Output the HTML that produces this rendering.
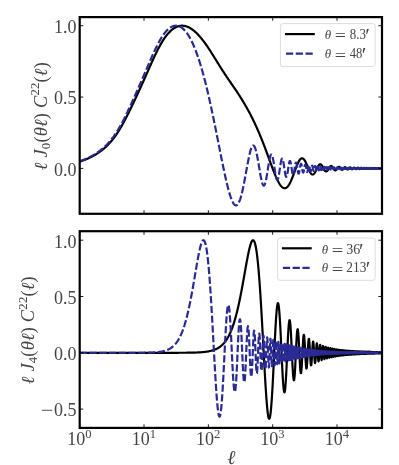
<!DOCTYPE html><html><head><meta charset="utf-8"><style>html,body{margin:0;padding:0;background:#fff}svg{display:block}text{font-family:"Liberation Serif",serif;fill:#444}.i{font-style:italic}</style></head><body>
<svg width="399" height="465" viewBox="0 0 399 465">
<rect width="399" height="465" fill="#fff"/>
<defs><clipPath id="ct"><rect x="79.70" y="17.10" width="302.30" height="196.70"/></clipPath><clipPath id="cb"><rect x="79.70" y="231.20" width="302.30" height="196.70"/></clipPath></defs>
<path clip-path="url(#ct)" d="M79.70 161.59 L79.96 161.51 L80.21 161.43 L80.47 161.35 L80.72 161.27 L80.98 161.19 L81.24 161.10 L81.49 161.02 L81.75 160.93 L82.01 160.84 L82.26 160.76 L82.52 160.67 L82.77 160.58 L83.03 160.49 L83.29 160.39 L83.54 160.30 L83.80 160.21 L84.05 160.11 L84.31 160.01 L84.57 159.92 L84.82 159.82 L85.08 159.72 L85.34 159.62 L85.59 159.51 L85.85 159.41 L86.10 159.31 L86.36 159.20 L86.62 159.09 L86.87 158.99 L87.13 158.88 L87.38 158.77 L87.64 158.66 L87.90 158.54 L88.15 158.43 L88.41 158.31 L88.66 158.20 L88.92 158.08 L89.18 157.96 L89.43 157.84 L89.69 157.72 L89.95 157.60 L90.20 157.47 L90.46 157.35 L90.71 157.22 L90.97 157.09 L91.23 156.96 L91.48 156.83 L91.74 156.70 L91.99 156.57 L92.25 156.43 L92.51 156.29 L92.76 156.16 L93.02 156.02 L93.28 155.87 L93.53 155.73 L93.79 155.59 L94.04 155.44 L94.30 155.30 L94.56 155.15 L94.81 155.00 L95.07 154.85 L95.32 154.69 L95.58 154.54 L95.84 154.38 L96.09 154.23 L96.35 154.07 L96.61 153.91 L96.86 153.74 L97.12 153.58 L97.37 153.41 L97.63 153.25 L97.89 153.08 L98.14 152.91 L98.40 152.73 L98.65 152.56 L98.91 152.38 L99.17 152.21 L99.42 152.03 L99.68 151.84 L99.94 151.66 L100.19 151.48 L100.45 151.29 L100.70 151.10 L100.96 150.91 L101.22 150.71 L101.47 150.52 L101.73 150.32 L101.98 150.12 L102.24 149.92 L102.50 149.72 L102.75 149.51 L103.01 149.30 L103.27 149.09 L103.52 148.88 L103.78 148.66 L104.03 148.45 L104.29 148.23 L104.55 148.01 L104.80 147.78 L105.06 147.55 L105.31 147.32 L105.57 147.09 L105.83 146.86 L106.08 146.62 L106.34 146.38 L106.59 146.14 L106.85 145.89 L107.11 145.65 L107.36 145.39 L107.62 145.14 L107.88 144.88 L108.13 144.63 L108.39 144.36 L108.64 144.10 L108.90 143.83 L109.16 143.56 L109.41 143.28 L109.67 143.01 L109.92 142.72 L110.18 142.44 L110.44 142.15 L110.69 141.86 L110.95 141.57 L111.21 141.27 L111.46 140.97 L111.72 140.66 L111.97 140.35 L112.23 140.04 L112.49 139.73 L112.74 139.41 L113.00 139.08 L113.25 138.76 L113.51 138.42 L113.77 138.09 L114.02 137.75 L114.28 137.41 L114.54 137.06 L114.79 136.71 L115.05 136.36 L115.30 136.00 L115.56 135.64 L115.82 135.28 L116.07 134.91 L116.33 134.53 L116.58 134.16 L116.84 133.78 L117.10 133.39 L117.35 133.01 L117.61 132.61 L117.87 132.22 L118.12 131.82 L118.38 131.42 L118.63 131.01 L118.89 130.60 L119.15 130.19 L119.40 129.77 L119.66 129.35 L119.91 128.92 L120.17 128.50 L120.43 128.06 L120.68 127.63 L120.94 127.19 L121.20 126.75 L121.45 126.30 L121.71 125.85 L121.96 125.40 L122.22 124.95 L122.48 124.49 L122.73 124.03 L122.99 123.56 L123.24 123.09 L123.50 122.62 L123.76 122.15 L124.01 121.67 L124.27 121.19 L124.52 120.71 L124.78 120.22 L125.04 119.74 L125.29 119.25 L125.55 118.75 L125.81 118.26 L126.06 117.76 L126.32 117.26 L126.57 116.76 L126.83 116.26 L127.09 115.75 L127.34 115.24 L127.60 114.74 L127.85 114.22 L128.11 113.71 L128.37 113.20 L128.62 112.68 L128.88 112.17 L129.14 111.65 L129.39 111.13 L129.65 110.61 L129.90 110.09 L130.16 109.57 L130.42 109.04 L130.67 108.52 L130.93 107.99 L131.18 107.46 L131.44 106.94 L131.70 106.41 L131.95 105.87 L132.21 105.34 L132.47 104.81 L132.72 104.28 L132.98 103.74 L133.23 103.20 L133.49 102.67 L133.75 102.13 L134.00 101.59 L134.26 101.05 L134.51 100.51 L134.77 99.96 L135.03 99.42 L135.28 98.88 L135.54 98.33 L135.80 97.78 L136.05 97.24 L136.31 96.69 L136.56 96.14 L136.82 95.59 L137.08 95.04 L137.33 94.49 L137.59 93.94 L137.84 93.38 L138.10 92.83 L138.36 92.28 L138.61 91.72 L138.87 91.16 L139.12 90.61 L139.38 90.05 L139.64 89.49 L139.89 88.93 L140.15 88.37 L140.41 87.81 L140.66 87.25 L140.92 86.68 L141.17 86.12 L141.43 85.56 L141.69 84.99 L141.94 84.42 L142.20 83.86 L142.45 83.29 L142.71 82.72 L142.97 82.15 L143.22 81.58 L143.48 81.01 L143.74 80.44 L143.99 79.86 L144.25 79.29 L144.50 78.72 L144.76 78.14 L145.02 77.56 L145.27 76.99 L145.53 76.41 L145.78 75.83 L146.04 75.25 L146.30 74.67 L146.55 74.09 L146.81 73.51 L147.07 72.93 L147.32 72.35 L147.58 71.77 L147.83 71.19 L148.09 70.61 L148.35 70.03 L148.60 69.46 L148.86 68.88 L149.11 68.30 L149.37 67.72 L149.63 67.14 L149.88 66.57 L150.14 65.99 L150.40 65.42 L150.65 64.84 L150.91 64.27 L151.16 63.70 L151.42 63.13 L151.68 62.56 L151.93 62.00 L152.19 61.43 L152.44 60.87 L152.70 60.31 L152.96 59.74 L153.21 59.19 L153.47 58.63 L153.73 58.08 L153.98 57.53 L154.24 56.98 L154.49 56.43 L154.75 55.89 L155.01 55.34 L155.26 54.81 L155.52 54.27 L155.77 53.74 L156.03 53.21 L156.29 52.68 L156.54 52.16 L156.80 51.64 L157.05 51.13 L157.31 50.61 L157.57 50.10 L157.82 49.60 L158.08 49.10 L158.34 48.60 L158.59 48.11 L158.85 47.63 L159.10 47.14 L159.36 46.66 L159.62 46.19 L159.87 45.72 L160.13 45.26 L160.38 44.80 L160.64 44.35 L160.90 43.90 L161.15 43.46 L161.41 43.02 L161.67 42.58 L161.92 42.16 L162.18 41.73 L162.43 41.32 L162.69 40.91 L162.95 40.50 L163.20 40.10 L163.46 39.70 L163.71 39.31 L163.97 38.93 L164.23 38.55 L164.48 38.18 L164.74 37.81 L165.00 37.45 L165.25 37.09 L165.51 36.74 L165.76 36.39 L166.02 36.05 L166.28 35.72 L166.53 35.39 L166.79 35.07 L167.04 34.75 L167.30 34.44 L167.56 34.13 L167.81 33.83 L168.07 33.53 L168.33 33.25 L168.58 32.96 L168.84 32.68 L169.09 32.41 L169.35 32.14 L169.61 31.88 L169.86 31.63 L170.12 31.38 L170.37 31.13 L170.63 30.89 L170.89 30.66 L171.14 30.43 L171.40 30.21 L171.66 29.99 L171.91 29.78 L172.17 29.58 L172.42 29.37 L172.68 29.18 L172.94 28.99 L173.19 28.81 L173.45 28.63 L173.70 28.46 L173.96 28.29 L174.22 28.13 L174.47 27.97 L174.73 27.82 L174.98 27.67 L175.24 27.53 L175.50 27.40 L175.75 27.27 L176.01 27.14 L176.27 27.02 L176.52 26.91 L176.78 26.80 L177.03 26.70 L177.29 26.60 L177.55 26.50 L177.80 26.42 L178.06 26.33 L178.31 26.25 L178.57 26.18 L178.83 26.11 L179.08 26.05 L179.34 25.99 L179.60 25.94 L179.85 25.89 L180.11 25.85 L180.36 25.82 L180.62 25.78 L180.88 25.76 L181.13 25.74 L181.39 25.72 L181.64 25.71 L181.90 25.70 L182.16 25.70 L182.41 25.70 L182.67 25.71 L182.93 25.73 L183.18 25.74 L183.44 25.77 L183.69 25.80 L183.95 25.83 L184.21 25.87 L184.46 25.91 L184.72 25.96 L184.97 26.01 L185.23 26.07 L185.49 26.13 L185.74 26.20 L186.00 26.27 L186.26 26.35 L186.51 26.43 L186.77 26.52 L187.02 26.61 L187.28 26.70 L187.54 26.81 L187.79 26.91 L188.05 27.02 L188.30 27.13 L188.56 27.25 L188.82 27.38 L189.07 27.50 L189.33 27.64 L189.59 27.77 L189.84 27.91 L190.10 28.06 L190.35 28.21 L190.61 28.36 L190.87 28.52 L191.12 28.69 L191.38 28.85 L191.63 29.03 L191.89 29.20 L192.15 29.38 L192.40 29.56 L192.66 29.75 L192.91 29.95 L193.17 30.14 L193.43 30.34 L193.68 30.55 L193.94 30.76 L194.20 30.97 L194.45 31.18 L194.71 31.40 L194.96 31.63 L195.22 31.86 L195.48 32.09 L195.73 32.32 L195.99 32.56 L196.24 32.81 L196.50 33.05 L196.76 33.30 L197.01 33.56 L197.27 33.82 L197.53 34.08 L197.78 34.34 L198.04 34.61 L198.29 34.88 L198.55 35.16 L198.81 35.44 L199.06 35.72 L199.32 36.00 L199.57 36.29 L199.83 36.58 L200.09 36.88 L200.34 37.18 L200.60 37.48 L200.86 37.78 L201.11 38.09 L201.37 38.40 L201.62 38.72 L201.88 39.03 L202.14 39.35 L202.39 39.68 L202.65 40.00 L202.90 40.33 L203.16 40.66 L203.42 41.00 L203.67 41.34 L203.93 41.68 L204.19 42.02 L204.44 42.36 L204.70 42.71 L204.95 43.06 L205.21 43.42 L205.47 43.77 L205.72 44.13 L205.98 44.49 L206.23 44.86 L206.49 45.22 L206.75 45.59 L207.00 45.96 L207.26 46.34 L207.51 46.71 L207.77 47.09 L208.03 47.47 L208.28 47.85 L208.54 48.24 L208.80 48.63 L209.05 49.01 L209.31 49.41 L209.56 49.80 L209.82 50.19 L210.08 50.59 L210.33 50.99 L210.59 51.39 L210.84 51.79 L211.10 52.19 L211.36 52.59 L211.61 53.00 L211.87 53.40 L212.13 53.81 L212.38 54.22 L212.64 54.63 L212.89 55.04 L213.15 55.45 L213.41 55.86 L213.66 56.27 L213.92 56.68 L214.17 57.10 L214.43 57.51 L214.69 57.92 L214.94 58.34 L215.20 58.75 L215.46 59.17 L215.71 59.58 L215.97 60.00 L216.22 60.41 L216.48 60.83 L216.74 61.24 L216.99 61.65 L217.25 62.07 L217.50 62.48 L217.76 62.90 L218.02 63.31 L218.27 63.72 L218.53 64.13 L218.79 64.55 L219.04 64.96 L219.30 65.37 L219.55 65.78 L219.81 66.18 L220.07 66.59 L220.32 67.00 L220.58 67.41 L220.83 67.81 L221.09 68.22 L221.35 68.62 L221.60 69.02 L221.86 69.42 L222.12 69.83 L222.37 70.22 L222.63 70.62 L222.88 71.02 L223.14 71.42 L223.40 71.81 L223.65 72.20 L223.91 72.60 L224.16 72.99 L224.42 73.38 L224.68 73.77 L224.93 74.15 L225.19 74.54 L225.44 74.92 L225.70 75.31 L225.96 75.69 L226.21 76.07 L226.47 76.45 L226.73 76.83 L226.98 77.21 L227.24 77.58 L227.49 77.96 L227.75 78.34 L228.01 78.71 L228.26 79.09 L228.52 79.46 L228.77 79.84 L229.03 80.21 L229.29 80.58 L229.54 80.96 L229.80 81.33 L230.06 81.70 L230.31 82.07 L230.57 82.44 L230.82 82.81 L231.08 83.19 L231.34 83.56 L231.59 83.93 L231.85 84.30 L232.10 84.67 L232.36 85.05 L232.62 85.42 L232.87 85.79 L233.13 86.16 L233.39 86.54 L233.64 86.91 L233.90 87.29 L234.15 87.66 L234.41 88.04 L234.67 88.41 L234.92 88.79 L235.18 89.17 L235.43 89.55 L235.69 89.93 L235.95 90.31 L236.20 90.69 L236.46 91.07 L236.72 91.46 L236.97 91.84 L237.23 92.23 L237.48 92.61 L237.74 93.00 L238.00 93.39 L238.25 93.78 L238.51 94.17 L238.76 94.57 L239.02 94.96 L239.28 95.36 L239.53 95.76 L239.79 96.16 L240.05 96.56 L240.30 96.96 L240.56 97.37 L240.81 97.78 L241.07 98.19 L241.33 98.60 L241.58 99.01 L241.84 99.42 L242.09 99.84 L242.35 100.26 L242.61 100.68 L242.86 101.10 L243.12 101.53 L243.37 101.95 L243.63 102.38 L243.89 102.81 L244.14 103.24 L244.40 103.68 L244.66 104.11 L244.91 104.55 L245.17 104.99 L245.42 105.44 L245.68 105.88 L245.94 106.33 L246.19 106.78 L246.45 107.23 L246.70 107.69 L246.96 108.15 L247.22 108.61 L247.47 109.07 L247.73 109.53 L247.99 110.00 L248.24 110.47 L248.50 110.94 L248.75 111.41 L249.01 111.89 L249.27 112.37 L249.52 112.85 L249.78 113.34 L250.03 113.82 L250.29 114.32 L250.55 114.81 L250.80 115.30 L251.06 115.80 L251.32 116.30 L251.57 116.81 L251.83 117.31 L252.08 117.82 L252.34 118.34 L252.60 118.85 L252.85 119.37 L253.11 119.89 L253.36 120.42 L253.62 120.95 L253.88 121.48 L254.13 122.01 L254.39 122.55 L254.65 123.09 L254.90 123.63 L255.16 124.18 L255.41 124.73 L255.67 125.28 L255.93 125.84 L256.18 126.40 L256.44 126.96 L256.69 127.53 L256.95 128.10 L257.21 128.67 L257.46 129.25 L257.72 129.83 L257.97 130.41 L258.23 131.00 L258.49 131.59 L258.74 132.19 L259.00 132.79 L259.26 133.39 L259.51 133.99 L259.77 134.60 L260.02 135.21 L260.28 135.83 L260.54 136.45 L260.79 137.07 L261.05 137.70 L261.30 138.33 L261.56 138.97 L261.82 139.61 L262.07 140.25 L262.33 140.89 L262.59 141.54 L262.84 142.19 L263.10 142.85 L263.35 143.51 L263.61 144.17 L263.87 144.84 L264.12 145.50 L264.38 146.18 L264.63 146.85 L264.89 147.53 L265.15 148.21 L265.40 148.89 L265.66 149.58 L265.92 150.26 L266.17 150.95 L266.43 151.65 L266.68 152.34 L266.94 153.04 L267.20 153.73 L267.45 154.43 L267.71 155.13 L267.96 155.84 L268.22 156.54 L268.48 157.24 L268.73 157.94 L268.99 158.65 L269.25 159.35 L269.50 160.06 L269.76 160.76 L270.01 161.46 L270.27 162.16 L270.53 162.86 L270.78 163.56 L271.04 164.26 L271.29 164.96 L271.55 165.65 L271.81 166.34 L272.06 167.03 L272.32 167.71 L272.58 168.39 L272.83 169.06 L273.09 169.74 L273.34 170.40 L273.60 171.06 L273.86 171.72 L274.11 172.37 L274.37 173.01 L274.62 173.65 L274.88 174.27 L275.14 174.90 L275.39 175.51 L275.65 176.11 L275.90 176.71 L276.16 177.29 L276.42 177.87 L276.67 178.43 L276.93 178.99 L277.19 179.53 L277.44 180.06 L277.70 180.58 L277.95 181.09 L278.21 181.58 L278.47 182.06 L278.72 182.52 L278.98 182.98 L279.23 183.41 L279.49 183.83 L279.75 184.23 L280.00 184.62 L280.26 184.99 L280.52 185.34 L280.77 185.68 L281.03 185.99 L281.28 186.29 L281.54 186.57 L281.80 186.82 L282.05 187.06 L282.31 187.28 L282.56 187.47 L282.82 187.65 L283.08 187.80 L283.33 187.93 L283.59 188.04 L283.85 188.12 L284.10 188.18 L284.36 188.22 L284.61 188.24 L284.87 188.23 L285.13 188.20 L285.38 188.14 L285.64 188.06 L285.89 187.95 L286.15 187.82 L286.41 187.66 L286.66 187.48 L286.92 187.28 L287.18 187.05 L287.43 186.79 L287.69 186.52 L287.94 186.21 L288.20 185.89 L288.46 185.54 L288.71 185.16 L288.97 184.77 L289.22 184.35 L289.48 183.91 L289.74 183.44 L289.99 182.96 L290.25 182.45 L290.51 181.93 L290.76 181.39 L291.02 180.82 L291.27 180.25 L291.53 179.65 L291.79 179.04 L292.04 178.41 L292.30 177.78 L292.55 177.13 L292.81 176.46 L293.07 175.79 L293.32 175.11 L293.58 174.42 L293.83 173.73 L294.09 173.03 L294.35 172.33 L294.60 171.63 L294.86 170.93 L295.12 170.23 L295.37 169.53 L295.63 168.84 L295.88 168.16 L296.14 167.48 L296.40 166.82 L296.65 166.17 L296.91 165.53 L297.16 164.91 L297.42 164.30 L297.68 163.72 L297.93 163.16 L298.19 162.62 L298.45 162.10 L298.70 161.61 L298.96 161.15 L299.21 160.72 L299.47 160.32 L299.73 159.95 L299.98 159.61 L300.24 159.31 L300.49 159.05 L300.75 158.83 L301.01 158.64 L301.26 158.49 L301.52 158.39 L301.78 158.32 L302.03 158.30 L302.29 158.31 L302.54 158.37 L302.80 158.47 L303.06 158.61 L303.31 158.79 L303.57 159.01 L303.82 159.27 L304.08 159.57 L304.34 159.91 L304.59 160.28 L304.85 160.69 L305.11 161.12 L305.36 161.59 L305.62 162.09 L305.87 162.61 L306.13 163.16 L306.39 163.72 L306.64 164.31 L306.90 164.90 L307.15 165.51 L307.41 166.13 L307.67 166.74 L307.92 167.36 L308.18 167.98 L308.44 168.59 L308.69 169.19 L308.95 169.77 L309.20 170.34 L309.46 170.88 L309.72 171.40 L309.97 171.89 L310.23 172.35 L310.48 172.77 L310.74 173.15 L311.00 173.49 L311.25 173.78 L311.51 174.03 L311.76 174.23 L312.02 174.38 L312.28 174.48 L312.53 174.53 L312.79 174.52 L313.05 174.46 L313.30 174.35 L313.56 174.19 L313.81 173.97 L314.07 173.71 L314.33 173.40 L314.58 173.05 L314.84 172.66 L315.09 172.23 L315.35 171.77 L315.61 171.29 L315.86 170.78 L316.12 170.25 L316.38 169.72 L316.63 169.17 L316.89 168.63 L317.14 168.10 L317.40 167.57 L317.66 167.07 L317.91 166.59 L318.17 166.15 L318.42 165.73 L318.68 165.36 L318.94 165.04 L319.19 164.77 L319.45 164.55 L319.71 164.39 L319.96 164.28 L320.22 164.24 L320.47 164.26 L320.73 164.35 L320.99 164.49 L321.24 164.69 L321.50 164.94 L321.75 165.25 L322.01 165.60 L322.27 165.99 L322.52 166.42 L322.78 166.87 L323.04 167.35 L323.29 167.83 L323.55 168.31 L323.80 168.79 L324.06 169.25 L324.32 169.69 L324.57 170.10 L324.83 170.46 L325.08 170.78 L325.34 171.04 L325.60 171.24 L325.85 171.38 L326.11 171.44 L326.36 171.44 L326.62 171.38 L326.88 171.24 L327.13 171.04 L327.39 170.78 L327.65 170.46 L327.90 170.10 L328.16 169.71 L328.41 169.28 L328.67 168.84 L328.93 168.40 L329.18 167.96 L329.44 167.55 L329.69 167.16 L329.95 166.82 L330.21 166.52 L330.46 166.29 L330.72 166.13 L330.98 166.04 L331.23 166.03 L331.49 166.09 L331.74 166.23 L332.00 166.43 L332.26 166.70 L332.51 167.03 L332.77 167.39 L333.02 167.79 L333.28 168.20 L333.54 168.62 L333.79 169.01 L334.05 169.38 L334.31 169.71 L334.56 169.97 L334.82 170.17 L335.07 170.29 L335.33 170.33 L335.59 170.29 L335.84 170.16 L336.10 169.96 L336.35 169.69 L336.61 169.37 L336.87 169.00 L337.12 168.61 L337.38 168.22 L337.64 167.84 L337.89 167.50 L338.15 167.21 L338.40 166.98 L338.66 166.83 L338.92 166.78 L339.17 166.81 L339.43 166.93 L339.68 167.14 L339.94 167.41 L340.20 167.74 L340.45 168.11 L340.71 168.49 L340.97 168.85 L341.22 169.19 L341.48 169.46 L341.73 169.67 L341.99 169.78 L342.25 169.80 L342.50 169.71 L342.76 169.54 L343.01 169.28 L343.27 168.97 L343.53 168.61 L343.78 168.24 L344.04 167.89 L344.29 167.59 L344.55 167.35 L344.81 167.21 L345.06 167.17 L345.32 167.23 L345.58 167.40 L345.83 167.65 L346.09 167.97 L346.34 168.32 L346.60 168.68 L346.86 169.00 L347.11 169.26 L347.37 169.44 L347.62 169.50 L347.88 169.45 L348.14 169.29 L348.39 169.04 L348.65 168.72 L348.91 168.37 L349.16 168.03 L349.42 167.73 L349.67 167.52 L349.93 167.41 L350.19 167.43 L350.44 167.57 L350.70 167.80 L350.95 168.12 L351.21 168.46 L351.47 168.79 L351.72 169.07 L351.98 169.25 L352.24 169.31 L352.49 169.24 L352.75 169.04 L353.00 168.76 L353.26 168.42 L353.52 168.08 L353.77 167.80 L354.03 167.62 L354.28 167.57 L354.54 167.65 L354.80 167.86 L355.05 168.16 L355.31 168.50 L355.57 168.81 L355.82 169.05 L356.08 169.17 L356.33 169.14 L356.59 168.97 L356.85 168.69 L357.10 168.36 L357.35 168.04 L357.60 167.80 L357.85 167.69 L358.09 167.71 L358.34 167.87 L358.58 168.13 L358.82 168.44 L359.05 168.73 L359.29 168.96 L359.52 169.07 L359.75 169.05 L359.98 168.90 L360.21 168.65 L360.44 168.36 L360.66 168.09 L360.88 167.87 L361.10 167.77 L361.32 167.79 L361.54 167.93 L361.75 168.16 L361.97 168.44 L362.18 168.70 L362.39 168.90 L362.60 168.99 L362.80 168.97 L363.01 168.84 L363.21 168.62 L363.42 168.37 L363.62 168.12 L363.82 167.93 L364.02 167.84 L364.21 167.86 L364.41 167.98 L364.60 168.19 L364.79 168.43 L364.99 168.67 L365.18 168.85 L365.37 168.94 L365.55 168.92 L365.74 168.80 L365.92 168.60 L366.11 168.37 L366.29 168.15 L366.47 167.98 L366.65 167.89 L366.83 167.91 L367.01 168.02 L367.19 168.21 L367.36 168.43 L367.54 168.64 L367.71 168.81 L367.88 168.89 L368.06 168.87 L368.23 168.76 L368.40 168.59 L368.56 168.37 L368.73 168.17 L368.90 168.01 L369.06 167.93 L369.23 167.95 L369.39 168.05 L369.55 168.22 L369.72 168.43 L369.88 168.62 L370.04 168.77 L370.19 168.85 L370.35 168.83 L370.51 168.73 L370.67 168.57 L370.82 168.37 L370.98 168.19 L371.13 168.04 L371.28 167.97 L371.43 167.98 L371.59 168.08 L371.74 168.24 L371.89 168.42 L372.03 168.61 L372.18 168.74 L372.33 168.81 L372.48 168.80 L372.62 168.71 L372.77 168.56 L372.91 168.38 L373.05 168.20 L373.20 168.07 L373.34 168.00 L373.48 168.01 L373.62 168.10 L373.76 168.25 L373.90 168.42 L374.04 168.59 L374.17 168.72 L374.31 168.79 L374.45 168.77 L374.58 168.69 L374.72 168.55 L374.85 168.38 L374.99 168.22 L375.12 168.09 L375.25 168.03 L375.38 168.04 L375.52 168.12 L375.65 168.26 L375.78 168.42 L375.91 168.58 L376.03 168.70 L376.16 168.76 L376.29 168.75 L376.42 168.67 L376.54 168.54 L376.67 168.38 L376.79 168.23 L376.92 168.11 L377.04 168.05 L377.17 168.06 L377.29 168.14 L377.41 168.27 L377.54 168.42 L377.66 168.57 L377.78 168.68 L377.90 168.74 L378.02 168.73 L378.14 168.65 L378.26 168.53 L378.38 168.38 L378.49 168.24 L378.61 168.13 L378.73 168.07 L378.84 168.08 L378.96 168.15 L379.08 168.27 L379.19 168.42 L379.31 168.56 L379.42 168.67 L379.53 168.72 L379.65 168.71 L379.76 168.64 L379.87 168.52 L379.98 168.38 L380.09 168.25 L380.21 168.14 L380.32 168.09 L380.43 168.10 L380.54 168.17 L380.64 168.28 L380.75 168.42 L380.86 168.55 L380.97 168.65 L381.08 168.70 L381.18 168.69 L381.29 168.63 L381.40 168.52 L381.50 168.38 L381.61 168.25 L381.71 168.16 L381.82 168.11 L381.92 168.11 L381.98 168.15" fill="none" stroke="#000" stroke-width="2.20" stroke-linejoin="round"/>
<path clip-path="url(#ct)" d="M79.70 161.19 L79.96 161.11 L80.21 161.02 L80.47 160.94 L80.72 160.85 L80.98 160.76 L81.24 160.67 L81.49 160.58 L81.75 160.49 L82.01 160.40 L82.26 160.30 L82.52 160.21 L82.77 160.11 L83.03 160.02 L83.29 159.92 L83.54 159.82 L83.80 159.72 L84.05 159.62 L84.31 159.52 L84.57 159.42 L84.82 159.31 L85.08 159.21 L85.34 159.10 L85.59 158.99 L85.85 158.88 L86.10 158.77 L86.36 158.66 L86.62 158.55 L86.87 158.43 L87.13 158.32 L87.38 158.20 L87.64 158.08 L87.90 157.96 L88.15 157.84 L88.41 157.72 L88.66 157.60 L88.92 157.47 L89.18 157.35 L89.43 157.22 L89.69 157.09 L89.95 156.96 L90.20 156.83 L90.46 156.69 L90.71 156.56 L90.97 156.42 L91.23 156.29 L91.48 156.15 L91.74 156.01 L91.99 155.87 L92.25 155.72 L92.51 155.58 L92.76 155.43 L93.02 155.29 L93.28 155.14 L93.53 154.99 L93.79 154.83 L94.04 154.68 L94.30 154.52 L94.56 154.37 L94.81 154.21 L95.07 154.05 L95.32 153.89 L95.58 153.72 L95.84 153.56 L96.09 153.39 L96.35 153.22 L96.61 153.05 L96.86 152.88 L97.12 152.71 L97.37 152.53 L97.63 152.35 L97.89 152.17 L98.14 151.99 L98.40 151.81 L98.65 151.63 L98.91 151.44 L99.17 151.25 L99.42 151.06 L99.68 150.87 L99.94 150.68 L100.19 150.48 L100.45 150.28 L100.70 150.08 L100.96 149.88 L101.22 149.67 L101.47 149.47 L101.73 149.26 L101.98 149.05 L102.24 148.83 L102.50 148.62 L102.75 148.40 L103.01 148.18 L103.27 147.96 L103.52 147.73 L103.78 147.50 L104.03 147.27 L104.29 147.04 L104.55 146.81 L104.80 146.57 L105.06 146.33 L105.31 146.09 L105.57 145.84 L105.83 145.59 L106.08 145.34 L106.34 145.09 L106.59 144.83 L106.85 144.57 L107.11 144.31 L107.36 144.04 L107.62 143.78 L107.88 143.50 L108.13 143.23 L108.39 142.95 L108.64 142.67 L108.90 142.39 L109.16 142.10 L109.41 141.81 L109.67 141.52 L109.92 141.22 L110.18 140.92 L110.44 140.61 L110.69 140.31 L110.95 139.99 L111.21 139.68 L111.46 139.36 L111.72 139.04 L111.97 138.71 L112.23 138.38 L112.49 138.05 L112.74 137.71 L113.00 137.37 L113.25 137.02 L113.51 136.67 L113.77 136.32 L114.02 135.96 L114.28 135.60 L114.54 135.23 L114.79 134.86 L115.05 134.49 L115.30 134.11 L115.56 133.73 L115.82 133.34 L116.07 132.95 L116.33 132.56 L116.58 132.16 L116.84 131.76 L117.10 131.35 L117.35 130.94 L117.61 130.53 L117.87 130.11 L118.12 129.69 L118.38 129.26 L118.63 128.83 L118.89 128.40 L119.15 127.96 L119.40 127.52 L119.66 127.07 L119.91 126.63 L120.17 126.17 L120.43 125.72 L120.68 125.26 L120.94 124.79 L121.20 124.33 L121.45 123.86 L121.71 123.38 L121.96 122.90 L122.22 122.42 L122.48 121.94 L122.73 121.45 L122.99 120.96 L123.24 120.47 L123.50 119.97 L123.76 119.47 L124.01 118.96 L124.27 118.46 L124.52 117.95 L124.78 117.44 L125.04 116.92 L125.29 116.41 L125.55 115.89 L125.81 115.36 L126.06 114.84 L126.32 114.31 L126.57 113.78 L126.83 113.25 L127.09 112.72 L127.34 112.18 L127.60 111.65 L127.85 111.11 L128.11 110.57 L128.37 110.03 L128.62 109.48 L128.88 108.94 L129.14 108.40 L129.39 107.85 L129.65 107.30 L129.90 106.75 L130.16 106.20 L130.42 105.65 L130.67 105.10 L130.93 104.54 L131.18 103.99 L131.44 103.43 L131.70 102.87 L131.95 102.31 L132.21 101.75 L132.47 101.19 L132.72 100.63 L132.98 100.07 L133.23 99.50 L133.49 98.94 L133.75 98.37 L134.00 97.80 L134.26 97.23 L134.51 96.67 L134.77 96.10 L135.03 95.53 L135.28 94.95 L135.54 94.38 L135.80 93.81 L136.05 93.23 L136.31 92.66 L136.56 92.08 L136.82 91.51 L137.08 90.93 L137.33 90.35 L137.59 89.77 L137.84 89.19 L138.10 88.61 L138.36 88.03 L138.61 87.45 L138.87 86.87 L139.12 86.28 L139.38 85.70 L139.64 85.12 L139.89 84.53 L140.15 83.94 L140.41 83.36 L140.66 82.77 L140.92 82.18 L141.17 81.59 L141.43 81.00 L141.69 80.41 L141.94 79.82 L142.20 79.23 L142.45 78.64 L142.71 78.05 L142.97 77.45 L143.22 76.86 L143.48 76.27 L143.74 75.67 L143.99 75.07 L144.25 74.48 L144.50 73.88 L144.76 73.28 L145.02 72.68 L145.27 72.08 L145.53 71.48 L145.78 70.88 L146.04 70.29 L146.30 69.69 L146.55 69.09 L146.81 68.49 L147.07 67.89 L147.32 67.29 L147.58 66.69 L147.83 66.09 L148.09 65.49 L148.35 64.89 L148.60 64.30 L148.86 63.70 L149.11 63.10 L149.37 62.51 L149.63 61.92 L149.88 61.32 L150.14 60.73 L150.40 60.14 L150.65 59.56 L150.91 58.97 L151.16 58.39 L151.42 57.80 L151.68 57.22 L151.93 56.64 L152.19 56.07 L152.44 55.49 L152.70 54.92 L152.96 54.35 L153.21 53.79 L153.47 53.22 L153.73 52.66 L153.98 52.10 L154.24 51.55 L154.49 51.00 L154.75 50.45 L155.01 49.90 L155.26 49.36 L155.52 48.82 L155.77 48.29 L156.03 47.76 L156.29 47.23 L156.54 46.71 L156.80 46.20 L157.05 45.68 L157.31 45.17 L157.57 44.67 L157.82 44.17 L158.08 43.68 L158.34 43.19 L158.59 42.71 L158.85 42.23 L159.10 41.76 L159.36 41.29 L159.62 40.83 L159.87 40.38 L160.13 39.93 L160.38 39.48 L160.64 39.05 L160.90 38.62 L161.15 38.20 L161.41 37.78 L161.67 37.37 L161.92 36.96 L162.18 36.57 L162.43 36.17 L162.69 35.79 L162.95 35.41 L163.20 35.04 L163.46 34.68 L163.71 34.32 L163.97 33.97 L164.23 33.63 L164.48 33.29 L164.74 32.96 L165.00 32.64 L165.25 32.32 L165.51 32.01 L165.76 31.71 L166.02 31.42 L166.28 31.13 L166.53 30.85 L166.79 30.57 L167.04 30.31 L167.30 30.05 L167.56 29.80 L167.81 29.55 L168.07 29.32 L168.33 29.09 L168.58 28.87 L168.84 28.65 L169.09 28.44 L169.35 28.24 L169.61 28.05 L169.86 27.87 L170.12 27.69 L170.37 27.52 L170.63 27.36 L170.89 27.20 L171.14 27.05 L171.40 26.91 L171.66 26.78 L171.91 26.66 L172.17 26.54 L172.42 26.43 L172.68 26.33 L172.94 26.23 L173.19 26.15 L173.45 26.07 L173.70 26.00 L173.96 25.93 L174.22 25.88 L174.47 25.83 L174.73 25.79 L174.98 25.75 L175.24 25.73 L175.50 25.71 L175.75 25.70 L176.01 25.70 L176.27 25.71 L176.52 25.72 L176.78 25.74 L177.03 25.77 L177.29 25.81 L177.55 25.85 L177.80 25.90 L178.06 25.96 L178.31 26.03 L178.57 26.11 L178.83 26.19 L179.08 26.29 L179.34 26.39 L179.60 26.50 L179.85 26.61 L180.11 26.74 L180.36 26.87 L180.62 27.01 L180.88 27.16 L181.13 27.32 L181.39 27.48 L181.64 27.66 L181.90 27.84 L182.16 28.03 L182.41 28.23 L182.67 28.44 L182.93 28.66 L183.18 28.88 L183.44 29.11 L183.69 29.35 L183.95 29.60 L184.21 29.86 L184.46 30.13 L184.72 30.41 L184.97 30.69 L185.23 30.98 L185.49 31.29 L185.74 31.60 L186.00 31.91 L186.26 32.24 L186.51 32.58 L186.77 32.92 L187.02 33.28 L187.28 33.64 L187.54 34.01 L187.79 34.39 L188.05 34.78 L188.30 35.18 L188.56 35.59 L188.82 36.00 L189.07 36.43 L189.33 36.86 L189.59 37.30 L189.84 37.75 L190.10 38.22 L190.35 38.69 L190.61 39.16 L190.87 39.65 L191.12 40.15 L191.38 40.65 L191.63 41.17 L191.89 41.69 L192.15 42.23 L192.40 42.77 L192.66 43.32 L192.91 43.88 L193.17 44.45 L193.43 45.03 L193.68 45.62 L193.94 46.22 L194.20 46.82 L194.45 47.44 L194.71 48.07 L194.96 48.70 L195.22 49.34 L195.48 50.00 L195.73 50.66 L195.99 51.33 L196.24 52.01 L196.50 52.70 L196.76 53.40 L197.01 54.11 L197.27 54.83 L197.53 55.56 L197.78 56.30 L198.04 57.04 L198.29 57.80 L198.55 58.57 L198.81 59.34 L199.06 60.12 L199.32 60.92 L199.57 61.72 L199.83 62.53 L200.09 63.35 L200.34 64.19 L200.60 65.03 L200.86 65.87 L201.11 66.73 L201.37 67.60 L201.62 68.48 L201.88 69.37 L202.14 70.26 L202.39 71.17 L202.65 72.08 L202.90 73.00 L203.16 73.94 L203.42 74.88 L203.67 75.83 L203.93 76.79 L204.19 77.76 L204.44 78.73 L204.70 79.72 L204.95 80.72 L205.21 81.72 L205.47 82.73 L205.72 83.75 L205.98 84.79 L206.23 85.82 L206.49 86.87 L206.75 87.93 L207.00 88.99 L207.26 90.07 L207.51 91.15 L207.77 92.24 L208.03 93.33 L208.28 94.44 L208.54 95.55 L208.80 96.67 L209.05 97.80 L209.31 98.94 L209.56 100.08 L209.82 101.24 L210.08 102.39 L210.33 103.56 L210.59 104.73 L210.84 105.91 L211.10 107.10 L211.36 108.29 L211.61 109.49 L211.87 110.69 L212.13 111.90 L212.38 113.12 L212.64 114.34 L212.89 115.57 L213.15 116.80 L213.41 118.04 L213.66 119.28 L213.92 120.53 L214.17 121.78 L214.43 123.03 L214.69 124.29 L214.94 125.56 L215.20 126.82 L215.46 128.10 L215.71 129.37 L215.97 130.65 L216.22 131.93 L216.48 133.21 L216.74 134.49 L216.99 135.78 L217.25 137.07 L217.50 138.36 L217.76 139.65 L218.02 140.94 L218.27 142.23 L218.53 143.52 L218.79 144.82 L219.04 146.11 L219.30 147.40 L219.55 148.69 L219.81 149.98 L220.07 151.27 L220.32 152.55 L220.58 153.83 L220.83 155.11 L221.09 156.39 L221.35 157.66 L221.60 158.93 L221.86 160.20 L222.12 161.46 L222.37 162.71 L222.63 163.96 L222.88 165.20 L223.14 166.44 L223.40 167.67 L223.65 168.89 L223.91 170.10 L224.16 171.30 L224.42 172.50 L224.68 173.68 L224.93 174.86 L225.19 176.02 L225.44 177.18 L225.70 178.32 L225.96 179.44 L226.21 180.56 L226.47 181.66 L226.73 182.74 L226.98 183.81 L227.24 184.86 L227.49 185.90 L227.75 186.92 L228.01 187.92 L228.26 188.90 L228.52 189.86 L228.77 190.81 L229.03 191.73 L229.29 192.62 L229.54 193.50 L229.80 194.35 L230.06 195.17 L230.31 195.97 L230.57 196.75 L230.82 197.49 L231.08 198.21 L231.34 198.90 L231.59 199.56 L231.85 200.19 L232.10 200.78 L232.36 201.35 L232.62 201.88 L232.87 202.38 L233.13 202.84 L233.39 203.26 L233.64 203.65 L233.90 204.01 L234.15 204.32 L234.41 204.59 L234.67 204.83 L234.92 205.02 L235.18 205.17 L235.43 205.28 L235.69 205.35 L235.95 205.38 L236.20 205.36 L236.46 205.29 L236.72 205.18 L236.97 205.03 L237.23 204.83 L237.48 204.58 L237.74 204.29 L238.00 203.95 L238.25 203.57 L238.51 203.13 L238.76 202.66 L239.02 202.13 L239.28 201.56 L239.53 200.94 L239.79 200.27 L240.05 199.56 L240.30 198.80 L240.56 198.00 L240.81 197.15 L241.07 196.26 L241.33 195.33 L241.58 194.36 L241.84 193.34 L242.09 192.29 L242.35 191.20 L242.61 190.07 L242.86 188.90 L243.12 187.71 L243.37 186.48 L243.63 185.22 L243.89 183.94 L244.14 182.63 L244.40 181.30 L244.66 179.95 L244.91 178.57 L245.17 177.19 L245.42 175.79 L245.68 174.38 L245.94 172.97 L246.19 171.55 L246.45 170.14 L246.70 168.72 L246.96 167.32 L247.22 165.92 L247.47 164.54 L247.73 163.18 L247.99 161.84 L248.24 160.52 L248.50 159.24 L248.75 157.99 L249.01 156.77 L249.27 155.60 L249.52 154.47 L249.78 153.39 L250.03 152.37 L250.29 151.40 L250.55 150.50 L250.80 149.66 L251.06 148.88 L251.32 148.18 L251.57 147.56 L251.83 147.01 L252.08 146.55 L252.34 146.17 L252.60 145.87 L252.85 145.67 L253.11 145.55 L253.36 145.53 L253.62 145.60 L253.88 145.77 L254.13 146.03 L254.39 146.39 L254.65 146.84 L254.90 147.39 L255.16 148.03 L255.41 148.76 L255.67 149.58 L255.93 150.49 L256.18 151.48 L256.44 152.55 L256.69 153.70 L256.95 154.91 L257.21 156.19 L257.46 157.54 L257.72 158.93 L257.97 160.37 L258.23 161.85 L258.49 163.36 L258.74 164.89 L259.00 166.43 L259.26 167.98 L259.51 169.53 L259.77 171.06 L260.02 172.56 L260.28 174.03 L260.54 175.46 L260.79 176.83 L261.05 178.13 L261.30 179.36 L261.56 180.50 L261.82 181.55 L262.07 182.50 L262.33 183.33 L262.59 184.04 L262.84 184.62 L263.10 185.07 L263.35 185.38 L263.61 185.55 L263.87 185.57 L264.12 185.44 L264.38 185.16 L264.63 184.73 L264.89 184.15 L265.15 183.43 L265.40 182.57 L265.66 181.57 L265.92 180.45 L266.17 179.21 L266.43 177.87 L266.68 176.44 L266.94 174.93 L267.20 173.35 L267.45 171.73 L267.71 170.08 L267.96 168.42 L268.22 166.77 L268.48 165.15 L268.73 163.58 L268.99 162.07 L269.25 160.65 L269.50 159.34 L269.76 158.15 L270.01 157.11 L270.27 156.22 L270.53 155.51 L270.78 154.98 L271.04 154.65 L271.29 154.51 L271.55 154.59 L271.81 154.87 L272.06 155.36 L272.32 156.05 L272.58 156.93 L272.83 157.99 L273.09 159.22 L273.34 160.59 L273.60 162.09 L273.86 163.69 L274.11 165.36 L274.37 167.08 L274.62 168.81 L274.88 170.52 L275.14 172.18 L275.39 173.76 L275.65 175.21 L275.90 176.52 L276.16 177.66 L276.42 178.59 L276.67 179.30 L276.93 179.77 L277.19 179.98 L277.44 179.93 L277.70 179.61 L277.95 179.04 L278.21 178.22 L278.47 177.16 L278.72 175.90 L278.98 174.46 L279.23 172.87 L279.49 171.18 L279.75 169.43 L280.00 167.66 L280.26 165.93 L280.52 164.28 L280.77 162.76 L281.03 161.42 L281.28 160.30 L281.54 159.43 L281.80 158.84 L282.05 158.55 L282.31 158.59 L282.56 158.94 L282.82 159.60 L283.08 160.55 L283.33 161.76 L283.59 163.19 L283.85 164.80 L284.10 166.52 L284.36 168.29 L284.61 170.06 L284.87 171.74 L285.13 173.28 L285.38 174.62 L285.64 175.69 L285.89 176.44 L286.15 176.86 L286.41 176.91 L286.66 176.59 L286.92 175.91 L287.18 174.90 L287.43 173.60 L287.69 172.07 L287.94 170.38 L288.20 168.61 L288.46 166.85 L288.71 165.19 L288.97 163.70 L289.22 162.47 L289.48 161.58 L289.74 161.06 L289.99 160.95 L290.25 161.25 L290.51 161.97 L290.76 163.05 L291.02 164.43 L291.27 166.04 L291.53 167.78 L291.79 169.53 L292.04 171.20 L292.30 172.67 L292.55 173.83 L292.81 174.62 L293.07 174.98 L293.32 174.87 L293.58 174.30 L293.83 173.32 L294.09 171.98 L294.35 170.39 L294.60 168.67 L294.86 166.94 L295.12 165.35 L295.37 164.03 L295.63 163.08 L295.88 162.59 L296.14 162.60 L296.40 163.11 L296.65 164.08 L296.91 165.43 L297.16 167.03 L297.42 168.74 L297.68 170.40 L297.93 171.84 L298.19 172.93 L298.45 173.55 L298.70 173.63 L298.96 173.17 L299.21 172.21 L299.47 170.85 L299.73 169.24 L299.98 167.56 L300.24 166.00 L300.49 164.73 L300.75 163.92 L301.01 163.66 L301.26 163.98 L301.52 164.84 L301.78 166.15 L302.03 167.73 L302.29 169.37 L302.54 170.86 L302.80 172.00 L303.06 172.62 L303.31 172.63 L303.57 172.03 L303.82 170.91 L304.08 169.43 L304.34 167.82 L304.59 166.32 L304.85 165.17 L305.11 164.56 L305.36 164.58 L305.62 165.24 L305.87 166.42 L306.13 167.93 L306.39 169.49 L306.64 170.84 L306.90 171.72 L307.15 171.97 L307.41 171.55 L307.67 170.52 L307.92 169.10 L308.18 167.58 L308.43 166.26 L308.68 165.38 L308.92 165.12 L309.17 165.51 L309.41 166.45 L309.65 167.76 L309.89 169.15 L310.12 170.37 L310.36 171.18 L310.59 171.42 L310.82 171.07 L311.05 170.20 L311.28 168.99 L311.50 167.70 L311.72 166.58 L311.94 165.83 L312.16 165.61 L312.38 165.93 L312.60 166.74 L312.81 167.85 L313.02 169.05 L313.24 170.09 L313.45 170.78 L313.65 170.99 L313.86 170.69 L314.06 169.94 L314.27 168.91 L314.47 167.80 L314.67 166.83 L314.87 166.19 L315.07 165.99 L315.26 166.27 L315.46 166.96 L315.65 167.92 L315.84 168.96 L316.04 169.86 L316.23 170.47 L316.41 170.65 L316.60 170.39 L316.79 169.74 L316.97 168.84 L317.16 167.88 L317.34 167.03 L317.52 166.47 L317.70 166.30 L317.88 166.54 L318.05 167.14 L318.23 167.98 L318.41 168.89 L318.58 169.68 L318.75 170.21 L318.93 170.37 L319.10 170.15 L319.27 169.58 L319.44 168.79 L319.60 167.94 L319.77 167.19 L319.94 166.70 L320.10 166.54 L320.27 166.76 L320.43 167.29 L320.59 168.03 L320.75 168.83 L320.91 169.54 L321.07 170.01 L321.23 170.15 L321.39 169.95 L321.55 169.45 L321.70 168.75 L321.86 167.99 L322.01 167.32 L322.16 166.88 L322.32 166.74 L322.47 166.93 L322.62 167.41 L322.77 168.07 L322.92 168.79 L323.07 169.42 L323.21 169.84 L323.36 169.97 L323.51 169.79 L323.65 169.34 L323.80 168.71 L323.94 168.03 L324.08 167.43 L324.23 167.04 L324.37 166.91 L324.51 167.08 L324.65 167.51 L324.79 168.10 L324.93 168.75 L325.06 169.32 L325.20 169.70 L325.34 169.81 L325.47 169.65 L325.61 169.25 L325.74 168.68 L325.88 168.07 L326.01 167.53 L326.15 167.17 L326.28 167.05 L326.41 167.21 L326.54 167.59 L326.67 168.13 L326.80 168.72 L326.93 169.23 L327.06 169.58 L327.19 169.69 L327.31 169.54 L327.44 169.17 L327.57 168.66 L327.69 168.10 L327.82 167.60 L327.94 167.28 L328.07 167.17 L328.19 167.31 L328.31 167.66 L328.43 168.16 L328.56 168.69 L328.68 169.16 L328.80 169.48 L328.92 169.58 L329.04 169.44 L329.16 169.11 L329.28 168.63 L329.39 168.12 L329.51 167.67 L329.63 167.37 L329.75 167.27 L329.86 167.40 L329.98 167.72 L330.09 168.18 L330.21 168.67 L330.32 169.10 L330.44 169.39 L330.55 169.48 L330.66 169.36 L330.78 169.05 L330.89 168.62 L331.00 168.14 L331.11 167.73 L331.22 167.45 L331.33 167.36 L331.44 167.48 L331.55 167.78 L331.66 168.19 L331.77 168.65 L331.88 169.05 L331.98 169.32 L332.09 169.40 L332.20 169.29 L332.31 169.00 L332.41 168.60 L332.52 168.16 L332.62 167.78 L332.73 167.52 L332.83 167.44 L332.94 167.54 L333.04 167.82 L333.14 168.21 L333.25 168.63 L333.35 169.00 L333.45 169.25 L333.55 169.33 L333.65 169.23 L333.76 168.96 L333.86 168.59 L333.96 168.18 L334.06 167.82 L334.16 167.58 L334.26 167.50 L334.35 167.60 L334.45 167.86 L334.55 168.22 L334.65 168.61 L334.75 168.96 L334.84 169.19 L334.94 169.27 L335.04 169.17 L335.13 168.92 L335.23 168.57 L335.33 168.19 L335.42 167.86 L335.52 167.63 L335.61 167.56 L335.70 167.65 L335.80 167.89 L335.89 168.23 L335.99 168.60 L336.08 168.93 L336.17 169.14 L336.26 169.21 L336.36 169.12 L336.45 168.89 L336.54 168.56 L336.63 168.21 L336.72 167.89 L336.81 167.68 L336.90 167.61 L336.99 167.70 L337.08 167.92 L337.17 168.24 L337.26 168.59 L337.35 168.89 L337.44 169.10 L337.53 169.17 L337.61 169.08 L337.70 168.86 L337.79 168.55 L337.88 168.22 L337.96 167.92 L338.05 167.72 L338.14 167.66 L338.22 167.74 L338.31 167.95 L338.39 168.25 L338.48 168.58 L338.56 168.87 L338.65 169.06 L338.73 169.12 L338.82 169.04 L338.90 168.84 L338.99 168.54 L339.07 168.23 L339.15 167.95 L339.24 167.76 L339.32 167.70 L339.40 167.77 L339.48 167.98 L339.57 168.26 L339.65 168.57 L339.73 168.84 L339.81 169.03 L339.89 169.09 L339.97 169.01 L340.05 168.81 L340.13 168.54 L340.21 168.24 L340.29 167.97 L340.37 167.79 L340.45 167.73 L340.53 167.81 L340.61 168.00 L340.69 168.27 L340.77 168.56 L340.85 168.82 L340.93 168.99 L341.00 169.05 L341.08 168.98 L341.16 168.79 L341.24 168.53 L341.31 168.24 L341.39 167.99 L341.47 167.82 L341.54 167.76 L341.62 167.84 L341.70 168.02 L341.77 168.27 L341.85 168.55 L341.92 168.80 L342.00 168.97 L342.07 169.02 L342.15 168.95 L342.22 168.77 L342.30 168.52 L342.37 168.25 L342.45 168.01 L342.52 167.85 L342.59 167.79 L342.67 167.86 L342.74 168.03 L342.81 168.28 L342.89 168.55 L342.96 168.78 L343.03 168.94 L343.10 168.99 L343.18 168.93 L343.25 168.76 L343.32 168.52 L343.39 168.26 L343.46 168.03 L343.53 167.87 L343.60 167.82 L343.68 167.89 L343.75 168.05 L343.82 168.28 L343.89 168.54 L343.96 168.76 L344.03 168.92 L344.10 168.97 L344.17 168.90 L344.24 168.74 L344.31 168.51 L344.37 168.26 L344.44 168.04 L344.51 167.89 L344.58 167.85 L344.65 167.91 L344.72 168.07 L344.79 168.29 L344.85 168.53 L344.92 168.75 L344.99 168.90 L345.06 168.94 L345.12 168.88 L345.19 168.73 L345.26 168.51 L345.32 168.27 L345.39 168.06 L345.46 167.91 L345.52 167.87 L345.59 167.93 L345.66 168.08 L345.72 168.29 L345.79 168.53 L345.85 168.74 L345.92 168.88 L345.98 168.92 L346.05 168.86 L346.11 168.71 L346.18 168.50 L346.24 168.27 L346.31 168.07 L346.37 167.93 L346.44 167.89 L346.50 167.95 L346.56 168.09 L346.63 168.30 L346.69 168.52 L346.75 168.72 L346.82 168.86 L346.88 168.90 L346.94 168.85 L347.01 168.70 L347.07 168.50 L347.13 168.28 L347.19 168.08 L347.26 167.95 L347.32 167.91 L347.38 167.96 L347.44 168.10 L347.51 168.30 L347.57 168.52 L347.63 168.71 L347.69 168.84 L347.75 168.88 L347.81 168.83 L347.87 168.69 L347.93 168.50 L347.99 168.28 L348.05 168.10 L348.12 167.97 L348.18 167.93 L348.24 167.98 L348.30 168.11 L348.36 168.30 L348.42 168.51 L348.48 168.70 L348.53 168.82 L348.59 168.87 L348.65 168.81 L348.71 168.68 L348.77 168.49 L348.83 168.29 L348.89 168.11 L348.95 167.98 L349.01 167.94 L349.06 167.99 L349.12 168.12 L349.18 168.31 L349.24 168.51 L349.30 168.69 L349.36 168.81 L349.41 168.85 L349.47 168.80 L349.53 168.67 L349.59 168.49 L349.64 168.29 L349.70 168.12 L349.76 168.00 L349.81 167.96 L349.87 168.01 L349.93 168.13 L349.98 168.31 L350.04 168.51 L350.10 168.68 L350.15 168.80 L350.21 168.83 L350.26 168.79 L350.32 168.66 L350.38 168.49 L350.43 168.30 L350.49 168.13 L350.54 168.01 L350.60 167.97 L350.65 168.02 L350.71 168.14 L350.76 168.31 L350.82 168.50 L350.87 168.67 L350.93 168.78 L350.98 168.82 L351.04 168.77 L351.09 168.65 L351.14 168.48 L351.20 168.30 L351.25 168.13 L351.31 168.02 L351.36 167.99 L351.41 168.03 L351.47 168.15 L351.52 168.32 L351.57 168.50 L351.63 168.66 L351.68 168.77 L351.73 168.81 L351.79 168.76 L351.84 168.65 L351.89 168.48 L351.95 168.30 L352.00 168.14 L352.05 168.03 L352.10 168.00 L352.16 168.04 L352.21 168.16 L352.26 168.32 L352.31 168.50 L352.36 168.65 L352.42 168.76 L352.47 168.80 L352.52 168.75 L352.57 168.64 L352.62 168.48 L352.67 168.30 L352.72 168.15 L352.78 168.04 L352.83 168.01 L352.88 168.05 L352.93 168.16 L352.98 168.32 L353.03 168.49 L353.08 168.65 L353.13 168.75 L353.18 168.78 L353.23 168.74 L353.28 168.63 L353.33 168.48 L353.38 168.31 L353.43 168.16 L353.48 168.05 L353.53 168.02 L353.58 168.06 L353.63 168.17 L353.68 168.32 L353.73 168.49 L353.78 168.64 L353.83 168.74 L353.88 168.77 L353.93 168.73 L353.98 168.63 L354.02 168.48 L354.07 168.31 L354.12 168.16 L354.17 168.06 L354.22 168.03 L354.27 168.07 L354.32 168.18 L354.36 168.33 L354.41 168.49 L354.46 168.63 L354.51 168.73 L354.56 168.76 L354.60 168.72 L354.65 168.62 L354.70 168.47 L354.75 168.31 L354.80 168.17 L354.84 168.07 L354.89 168.04 L354.94 168.08 L354.98 168.18 L355.03 168.33 L355.08 168.49 L355.13 168.63 L355.17 168.72 L355.22 168.75 L355.27 168.72 L355.31 168.61 L355.36 168.47 L355.41 168.31 L355.45 168.18 L355.50 168.08 L355.55 168.05 L355.59 168.09 L355.64 168.19 L355.68 168.33 L355.73 168.48 L355.78 168.62 L355.82 168.71 L355.87 168.74 L355.91 168.71 L355.96 168.61 L356.00 168.47 L356.05 168.32 L356.10 168.18 L356.14 168.09 L356.19 168.06 L356.23 168.10 L356.28 168.19 L356.32 168.33 L356.37 168.48 L356.41 168.62 L356.46 168.71 L356.50 168.74 L356.55 168.70 L356.59 168.60 L356.63 168.47 L356.68 168.32 L356.72 168.19 L356.77 168.10 L356.81 168.07 L356.86 168.10 L356.90 168.20 L356.94 168.33 L356.99 168.48 L357.03 168.61 L357.08 168.70 L357.12 168.73 L357.16 168.69 L357.21 168.60 L357.25 168.47 L357.29 168.32 L357.34 168.19 L357.38 168.10 L357.42 168.08 L357.47 168.11 L357.51 168.20 L357.55 168.33 L357.60 168.48 L357.64 168.61 L357.68 168.69 L357.73 168.72 L357.77 168.69 L357.81 168.59 L357.85 168.46 L357.90 168.32 L357.94 168.20 L357.98 168.11 L358.02 168.08 L358.07 168.12 L358.11 168.21 L358.15 168.34 L358.19 168.48 L358.23 168.60 L358.28 168.69 L358.32 168.71 L358.36 168.68 L358.40 168.59 L358.44 168.46 L358.49 168.32 L358.53 168.20 L358.57 168.12 L358.61 168.09 L358.65 168.12 L358.69 168.21 L358.73 168.34 L358.78 168.47 L358.82 168.60 L358.86 168.68 L358.90 168.71 L358.94 168.67 L358.98 168.59 L359.02 168.46 L359.06 168.33 L359.10 168.21 L359.14 168.12 L359.18 168.10 L359.23 168.13 L359.27 168.22 L359.31 168.34 L359.35 168.47 L359.39 168.59 L359.43 168.67 L359.47 168.70 L359.51 168.67 L359.55 168.58 L359.59 168.46 L359.63 168.33 L359.67 168.21 L359.71 168.13 L359.75 168.10 L359.79 168.14 L359.83 168.22 L359.87 168.34 L359.91 168.47 L359.95 168.59 L359.99 168.67 L360.02 168.69 L360.06 168.66 L360.10 168.58 L360.14 168.46 L360.18 168.33 L360.22 168.21 L360.26 168.14 L360.30 168.11 L360.34 168.14 L360.38 168.22 L360.42 168.34 L360.46 168.47 L360.49 168.58 L360.53 168.66 L360.57 168.69 L360.61 168.66 L360.65 168.57 L360.69 168.46 L360.73 168.33 L360.76 168.22 L360.80 168.14 L360.84 168.12 L360.88 168.15 L360.92 168.23 L360.96 168.34 L360.99 168.47 L361.03 168.58 L361.07 168.66 L361.11 168.68 L361.15 168.65 L361.18 168.57 L361.22 168.46 L361.26 168.33 L361.30 168.22 L361.33 168.15 L361.37 168.12 L361.41 168.15 L361.45 168.23 L361.48 168.34 L361.52 168.47 L361.56 168.58 L361.60 168.65 L361.63 168.68 L361.67 168.65 L361.71 168.57 L361.74 168.46 L361.78 168.33 L361.82 168.23 L361.86 168.15 L361.89 168.13 L361.93 168.16 L361.97 168.24 L362.00 168.35 L362.04 168.47 L362.08 168.57 L362.11 168.65 L362.15 168.67 L362.19 168.64 L362.22 168.56 L362.26 168.45 L362.30 168.33 L362.33 168.23 L362.37 168.16 L362.40 168.13 L362.44 168.16 L362.48 168.24 L362.51 168.35 L362.55 168.46 L362.58 168.57 L362.62 168.64 L362.66 168.66 L362.69 168.64 L362.73 168.56 L362.76 168.45 L362.80 168.34 L362.83 168.23 L362.87 168.16 L362.91 168.14 L362.94 168.17 L362.98 168.24 L363.01 168.35 L363.05 168.46 L363.08 168.57 L363.12 168.64 L363.15 168.66 L363.19 168.63 L363.22 168.56 L363.26 168.45 L363.29 168.34 L363.33 168.23 L363.36 168.17 L363.40 168.14 L363.43 168.17 L363.47 168.24 L363.50 168.35 L363.54 168.46 L363.57 168.56 L363.61 168.63 L363.64 168.65 L363.68 168.63 L363.71 168.55 L363.75 168.45 L363.78 168.34 L363.82 168.24 L363.85 168.17 L363.88 168.15 L363.92 168.17 L363.95 168.25 L363.99 168.35 L364.02 168.46 L364.06 168.56 L364.09 168.63 L364.12 168.65 L364.16 168.62 L364.19 168.55 L364.23 168.45 L364.26 168.34 L364.29 168.24 L364.33 168.17 L364.36 168.15 L364.39 168.18 L364.43 168.25 L364.46 168.35 L364.50 168.46 L364.53 168.56 L364.56 168.62 L364.60 168.65 L364.63 168.62 L364.66 168.55 L364.70 168.45 L364.73 168.34 L364.76 168.24 L364.80 168.18 L364.83 168.16 L364.86 168.18 L364.90 168.25 L364.93 168.35 L364.96 168.46 L364.99 168.56 L365.03 168.62 L365.06 168.64 L365.09 168.62 L365.13 168.55 L365.16 168.45 L365.19 168.34 L365.22 168.25 L365.26 168.18 L365.29 168.16 L365.32 168.19 L365.36 168.25 L365.39 168.35 L365.42 168.46 L365.45 168.55 L365.49 168.62 L365.52 168.64 L365.55 168.61 L365.58 168.54 L365.61 168.45 L365.65 168.34 L365.68 168.25 L365.71 168.19 L365.74 168.16 L365.78 168.19 L365.81 168.26 L365.84 168.35 L365.87 168.46 L365.90 168.55 L365.94 168.61 L365.97 168.63 L366.00 168.61 L366.03 168.54 L366.06 168.45 L366.09 168.34 L366.13 168.25 L366.16 168.19 L366.19 168.17 L366.22 168.19 L366.25 168.26 L366.28 168.35 L366.32 168.46 L366.35 168.55 L366.38 168.61 L366.41 168.63 L366.44 168.60 L366.47 168.54 L366.50 168.45 L366.54 168.34 L366.57 168.25 L366.60 168.19 L366.63 168.17 L366.66 168.20 L366.69 168.26 L366.72 168.35 L366.75 168.46 L366.78 168.55 L366.81 168.61 L366.85 168.63 L366.88 168.60 L366.91 168.54 L366.94 168.45 L366.97 168.35 L367.00 168.26 L367.03 168.20 L367.06 168.18 L367.09 168.20 L367.12 168.26 L367.15 168.35 L367.18 168.45 L367.21 168.54 L367.24 168.60 L367.27 168.62 L367.31 168.60 L367.34 168.53 L367.37 168.44 L367.40 168.35 L367.43 168.26 L367.46 168.20 L367.49 168.18 L367.52 168.20 L367.55 168.27 L367.58 168.36 L367.61 168.45 L367.64 168.54 L367.67 168.60 L367.70 168.62 L367.73 168.60 L367.76 168.53 L367.79 168.44 L367.82 168.35 L367.85 168.26 L367.88 168.20 L367.91 168.18 L367.94 168.21 L367.97 168.27 L368.00 168.36 L368.02 168.45 L368.05 168.54 L368.08 168.60 L368.11 168.62 L368.14 168.59 L368.17 168.53 L368.20 168.44 L368.23 168.35 L368.26 168.26 L368.29 168.20 L368.32 168.19 L368.35 168.21 L368.38 168.27 L368.41 168.36 L368.44 168.45 L368.47 168.54 L368.49 168.59 L368.52 168.61 L368.55 168.59 L368.58 168.53 L368.61 168.44 L368.64 168.35 L368.67 168.26 L368.70 168.21 L368.73 168.19 L368.76 168.21 L368.78 168.27 L368.81 168.36 L368.84 168.45 L368.87 168.53 L368.90 168.59 L368.93 168.61 L368.96 168.59 L368.98 168.53 L369.01 168.44 L369.04 168.35 L369.07 168.27 L369.10 168.21 L369.13 168.19 L369.16 168.21 L369.18 168.27 L369.21 168.36 L369.24 168.45 L369.27 168.53 L369.30 168.59 L369.33 168.61 L369.35 168.58 L369.38 168.52 L369.41 168.44 L369.44 168.35 L369.47 168.27 L369.50 168.21 L369.52 168.20 L369.55 168.22 L369.58 168.28 L369.61 168.36 L369.64 168.45 L369.66 168.53 L369.69 168.59 L369.72 168.60 L369.75 168.58 L369.77 168.52 L369.80 168.44 L369.83 168.35 L369.86 168.27 L369.89 168.22 L369.91 168.20 L369.94 168.22 L369.97 168.28 L370.00 168.36 L370.02 168.45 L370.05 168.53 L370.08 168.58 L370.11 168.60 L370.13 168.58 L370.16 168.52 L370.19 168.44 L370.22 168.35 L370.24 168.27 L370.27 168.22 L370.30 168.20 L370.33 168.22 L370.35 168.28 L370.38 168.36 L370.41 168.45 L370.43 168.53 L370.46 168.58 L370.49 168.60 L370.52 168.58 L370.54 168.52 L370.57 168.44 L370.60 168.35 L370.62 168.27 L370.65 168.22 L370.68 168.20 L370.70 168.23 L370.73 168.28 L370.76 168.36 L370.78 168.45 L370.81 168.53 L370.84 168.58 L370.87 168.59 L370.89 168.57 L370.92 168.52 L370.95 168.44 L370.97 168.35 L371.00 168.28 L371.03 168.22 L371.05 168.21 L371.08 168.23 L371.10 168.28 L371.13 168.36 L371.16 168.45 L371.18 168.52 L371.21 168.58 L371.24 168.59 L371.26 168.57 L371.29 168.52 L371.32 168.44 L371.34 168.35 L371.37 168.28 L371.39 168.23 L371.42 168.21 L371.45 168.23 L371.47 168.28 L371.50 168.36 L371.53 168.45 L371.55 168.52 L371.58 168.57 L371.60 168.59 L371.63 168.57 L371.66 168.51 L371.68 168.44 L371.71 168.35 L371.73 168.28 L371.76 168.23 L371.79 168.21 L371.81 168.23 L371.84 168.29 L371.86 168.36 L371.89 168.45 L371.91 168.52 L371.94 168.57 L371.97 168.59 L371.99 168.57 L372.02 168.51 L372.04 168.44 L372.07 168.35 L372.09 168.28 L372.12 168.23 L372.15 168.21 L372.17 168.23 L372.20 168.29 L372.22 168.36 L372.25 168.45 L372.27 168.52 L372.30 168.57 L372.32 168.58 L372.35 168.56 L372.37 168.51 L372.40 168.44 L372.43 168.36 L372.45 168.28 L372.48 168.23 L372.50 168.22 L372.53 168.24 L372.55 168.29 L372.58 168.36 L372.60 168.44 L372.63 168.52 L372.65 168.57 L372.68 168.58 L372.70 168.56 L372.73 168.51 L372.75 168.44 L372.78 168.36 L372.80 168.28 L372.83 168.23 L372.85 168.22 L372.88 168.24 L372.90 168.29 L372.93 168.36 L372.95 168.44 L372.98 168.52 L373.00 168.56 L373.03 168.58 L373.05 168.56 L373.08 168.51 L373.10 168.44 L373.12 168.36 L373.15 168.29 L373.17 168.24 L373.20 168.22 L373.22 168.24 L373.25 168.29 L373.27 168.36 L373.30 168.44 L373.32 168.51 L373.35 168.56 L373.37 168.58 L373.39 168.56 L373.42 168.51 L373.44 168.44 L373.47 168.36 L373.49 168.29 L373.52 168.24 L373.54 168.22 L373.56 168.24 L373.59 168.29 L373.61 168.36 L373.64 168.44 L373.66 168.51 L373.69 168.56 L373.71 168.58 L373.73 168.56 L373.76 168.51 L373.78 168.44 L373.81 168.36 L373.83 168.29 L373.85 168.24 L373.88 168.23 L373.90 168.24 L373.93 168.29 L373.95 168.36 L373.97 168.44 L374.00 168.51 L374.02 168.56 L374.05 168.57 L374.07 168.55 L374.09 168.51 L374.12 168.43 L374.14 168.36 L374.17 168.29 L374.19 168.24 L374.21 168.23 L374.24 168.25 L374.26 168.30 L374.28 168.37 L374.31 168.44 L374.33 168.51 L374.35 168.56 L374.38 168.57 L374.40 168.55 L374.43 168.50 L374.45 168.43 L374.47 168.36 L374.50 168.29 L374.52 168.24 L374.54 168.23 L374.57 168.25 L374.59 168.30 L374.61 168.37 L374.64 168.44 L374.66 168.51 L374.68 168.55 L374.71 168.57 L374.73 168.55 L374.75 168.50 L374.78 168.43 L374.80 168.36 L374.82 168.29 L374.85 168.25 L374.87 168.23 L374.89 168.25 L374.92 168.30 L374.94 168.37 L374.96 168.44 L374.98 168.51 L375.01 168.55 L375.03 168.57 L375.05 168.55 L375.08 168.50 L375.10 168.43 L375.12 168.36 L375.15 168.29 L375.17 168.25 L375.19 168.23 L375.21 168.25 L375.24 168.30 L375.26 168.37 L375.28 168.44 L375.31 168.51 L375.33 168.55 L375.35 168.57 L375.37 168.55 L375.40 168.50 L375.42 168.43 L375.44 168.36 L375.47 168.29 L375.49 168.25 L375.51 168.24 L375.53 168.25 L375.56 168.30 L375.58 168.37 L375.60 168.44 L375.62 168.51 L375.65 168.55 L375.67 168.56 L375.69 168.55 L375.71 168.50 L375.74 168.43 L375.76 168.36 L375.78 168.30 L375.80 168.25 L375.83 168.24 L375.85 168.25 L375.87 168.30 L375.89 168.37 L375.92 168.44 L375.94 168.50 L375.96 168.55 L375.98 168.56 L376.00 168.54 L376.03 168.50 L376.05 168.43 L376.07 168.36 L376.09 168.30 L376.12 168.25 L376.14 168.24 L376.16 168.26 L376.18 168.30 L376.20 168.37 L376.23 168.44 L376.25 168.50 L376.27 168.55 L376.29 168.56 L376.31 168.54 L376.34 168.50 L376.36 168.43 L376.38 168.36 L376.40 168.30 L376.42 168.25 L376.45 168.24 L376.47 168.26 L376.49 168.30 L376.51 168.37 L376.53 168.44 L376.55 168.50 L376.58 168.54 L376.60 168.56 L376.62 168.54 L376.64 168.50 L376.66 168.43 L376.69 168.36 L376.71 168.30 L376.73 168.26 L376.75 168.24 L376.77 168.26 L376.79 168.30 L376.82 168.37 L376.84 168.44 L376.86 168.50 L376.88 168.54 L376.90 168.56 L376.92 168.54 L376.94 168.49 L376.97 168.43 L376.99 168.36 L377.01 168.30 L377.03 168.26 L377.05 168.24 L377.07 168.26 L377.10 168.31 L377.12 168.37 L377.14 168.44 L377.16 168.50 L377.18 168.54 L377.20 168.55 L377.22 168.54 L377.24 168.49 L377.27 168.43 L377.29 168.36 L377.31 168.30 L377.33 168.26 L377.35 168.25 L377.37 168.26 L377.39 168.31 L377.41 168.37 L377.44 168.44 L377.46 168.50 L377.48 168.54 L377.50 168.55 L377.52 168.54 L377.54 168.49 L377.56 168.43 L377.58 168.36 L377.60 168.30 L377.62 168.26 L377.65 168.25 L377.67 168.26 L377.69 168.31 L377.71 168.37 L377.73 168.44 L377.75 168.50 L377.77 168.54 L377.79 168.55 L377.81 168.54 L377.83 168.49 L377.85 168.43 L377.88 168.36 L377.90 168.30 L377.92 168.26 L377.94 168.25 L377.96 168.27 L377.98 168.31 L378.00 168.37 L378.02 168.44 L378.04 168.50 L378.06 168.54 L378.08 168.55 L378.10 168.53 L378.12 168.49 L378.14 168.43 L378.17 168.36 L378.19 168.30 L378.21 168.26 L378.23 168.25 L378.25 168.27 L378.27 168.31 L378.29 168.37 L378.31 168.44 L378.33 168.50 L378.35 168.54 L378.37 168.55 L378.39 168.53 L378.41 168.49 L378.43 168.43 L378.45 168.36 L378.47 168.31 L378.49 168.27 L378.51 168.25 L378.53 168.27 L378.55 168.31 L378.57 168.37 L378.59 168.44 L378.61 168.49 L378.64 168.53 L378.66 168.55 L378.68 168.53 L378.70 168.49 L378.72 168.43 L378.74 168.36 L378.76 168.31 L378.78 168.27 L378.80 168.25 L378.82 168.27 L378.84 168.31 L378.86 168.37 L378.88 168.44 L378.90 168.49 L378.92 168.53 L378.94 168.55 L378.96 168.53 L378.98 168.49 L379.00 168.43 L379.02 168.36 L379.04 168.31 L379.06 168.27 L379.08 168.26 L379.10 168.27 L379.12 168.31 L379.14 168.37 L379.16 168.44 L379.18 168.49 L379.20 168.53 L379.22 168.54 L379.24 168.53 L379.26 168.49 L379.28 168.43 L379.30 168.37 L379.32 168.31 L379.33 168.27 L379.35 168.26 L379.37 168.27 L379.39 168.31 L379.41 168.37 L379.43 168.43 L379.45 168.49 L379.47 168.53 L379.49 168.54 L379.51 168.53 L379.53 168.49 L379.55 168.43 L379.57 168.37 L379.59 168.31 L379.61 168.27 L379.63 168.26 L379.65 168.27 L379.67 168.31 L379.69 168.37 L379.71 168.43 L379.73 168.49 L379.75 168.53 L379.77 168.54 L379.79 168.53 L379.80 168.49 L379.82 168.43 L379.84 168.37 L379.86 168.31 L379.88 168.27 L379.90 168.26 L379.92 168.27 L379.94 168.31 L379.96 168.37 L379.98 168.43 L380.00 168.49 L380.02 168.53 L380.04 168.54 L380.06 168.52 L380.08 168.48 L380.09 168.43 L380.11 168.37 L380.13 168.31 L380.15 168.27 L380.17 168.26 L380.19 168.28 L380.21 168.32 L380.23 168.37 L380.25 168.43 L380.27 168.49 L380.29 168.53 L380.31 168.54 L380.32 168.52 L380.34 168.48 L380.36 168.43 L380.38 168.37 L380.40 168.31 L380.42 168.27 L380.44 168.26 L380.46 168.28 L380.48 168.32 L380.50 168.37 L380.51 168.43 L380.53 168.49 L380.55 168.53 L380.57 168.54 L380.59 168.52 L380.61 168.48 L380.63 168.43 L380.65 168.37 L380.67 168.31 L380.68 168.28 L380.70 168.26 L380.72 168.28 L380.74 168.32 L380.76 168.37 L380.78 168.43 L380.80 168.49 L380.82 168.52 L380.83 168.54 L380.85 168.52 L380.87 168.48 L380.89 168.43 L380.91 168.37 L380.93 168.31 L380.95 168.28 L380.96 168.26 L380.98 168.28 L381.00 168.32 L381.02 168.37 L381.04 168.43 L381.06 168.49 L381.08 168.52 L381.10 168.53 L381.11 168.52 L381.13 168.48 L381.15 168.43 L381.17 168.37 L381.19 168.31 L381.21 168.28 L381.22 168.27 L381.24 168.28 L381.26 168.32 L381.28 168.37 L381.30 168.43 L381.32 168.49 L381.34 168.52 L381.35 168.53 L381.37 168.52 L381.39 168.48 L381.41 168.43 L381.43 168.37 L381.45 168.31 L381.46 168.28 L381.48 168.27 L381.50 168.28 L381.52 168.32 L381.54 168.37 L381.55 168.43 L381.57 168.48 L381.59 168.52 L381.61 168.53 L381.63 168.52 L381.65 168.48 L381.66 168.43 L381.68 168.37 L381.70 168.32 L381.72 168.28 L381.74 168.27 L381.75 168.28 L381.77 168.32 L381.79 168.37 L381.81 168.43 L381.83 168.48 L381.85 168.52 L381.86 168.53 L381.88 168.52 L381.90 168.48 L381.92 168.43 L381.94 168.37 L381.95 168.32 L381.97 168.28 L381.98 168.27" fill="none" stroke="#2a2a94" stroke-width="2.20" stroke-linejoin="round" stroke-dasharray="7.2 2.56"/>
<path clip-path="url(#cb)" d="M79.70 352.80 L79.96 352.80 L80.21 352.80 L80.47 352.80 L80.72 352.80 L80.98 352.80 L81.24 352.80 L81.49 352.80 L81.75 352.80 L82.01 352.80 L82.26 352.80 L82.52 352.80 L82.77 352.80 L83.03 352.80 L83.29 352.80 L83.54 352.80 L83.80 352.80 L84.05 352.80 L84.31 352.80 L84.57 352.80 L84.82 352.80 L85.08 352.80 L85.34 352.80 L85.59 352.80 L85.85 352.80 L86.10 352.80 L86.36 352.80 L86.62 352.80 L86.87 352.80 L87.13 352.80 L87.38 352.80 L87.64 352.80 L87.90 352.80 L88.15 352.80 L88.41 352.80 L88.66 352.80 L88.92 352.80 L89.18 352.80 L89.43 352.80 L89.69 352.80 L89.95 352.80 L90.20 352.80 L90.46 352.80 L90.71 352.80 L90.97 352.80 L91.23 352.80 L91.48 352.80 L91.74 352.80 L91.99 352.80 L92.25 352.80 L92.51 352.80 L92.76 352.80 L93.02 352.80 L93.28 352.80 L93.53 352.80 L93.79 352.80 L94.04 352.80 L94.30 352.80 L94.56 352.80 L94.81 352.80 L95.07 352.80 L95.32 352.80 L95.58 352.80 L95.84 352.80 L96.09 352.80 L96.35 352.80 L96.61 352.80 L96.86 352.80 L97.12 352.80 L97.37 352.80 L97.63 352.80 L97.89 352.80 L98.14 352.80 L98.40 352.80 L98.65 352.80 L98.91 352.80 L99.17 352.80 L99.42 352.80 L99.68 352.80 L99.94 352.80 L100.19 352.80 L100.45 352.80 L100.70 352.80 L100.96 352.80 L101.22 352.80 L101.47 352.80 L101.73 352.80 L101.98 352.80 L102.24 352.80 L102.50 352.80 L102.75 352.80 L103.01 352.80 L103.27 352.80 L103.52 352.80 L103.78 352.80 L104.03 352.80 L104.29 352.80 L104.55 352.80 L104.80 352.80 L105.06 352.80 L105.31 352.80 L105.57 352.80 L105.83 352.80 L106.08 352.80 L106.34 352.80 L106.59 352.80 L106.85 352.80 L107.11 352.80 L107.36 352.80 L107.62 352.80 L107.88 352.80 L108.13 352.80 L108.39 352.80 L108.64 352.80 L108.90 352.80 L109.16 352.80 L109.41 352.80 L109.67 352.80 L109.92 352.80 L110.18 352.80 L110.44 352.80 L110.69 352.80 L110.95 352.80 L111.21 352.80 L111.46 352.80 L111.72 352.80 L111.97 352.80 L112.23 352.80 L112.49 352.80 L112.74 352.80 L113.00 352.80 L113.25 352.80 L113.51 352.80 L113.77 352.80 L114.02 352.80 L114.28 352.80 L114.54 352.80 L114.79 352.80 L115.05 352.80 L115.30 352.80 L115.56 352.80 L115.82 352.80 L116.07 352.80 L116.33 352.80 L116.58 352.80 L116.84 352.80 L117.10 352.80 L117.35 352.80 L117.61 352.80 L117.87 352.80 L118.12 352.80 L118.38 352.80 L118.63 352.80 L118.89 352.80 L119.15 352.80 L119.40 352.80 L119.66 352.80 L119.91 352.80 L120.17 352.80 L120.43 352.80 L120.68 352.80 L120.94 352.80 L121.20 352.80 L121.45 352.80 L121.71 352.80 L121.96 352.80 L122.22 352.80 L122.48 352.80 L122.73 352.80 L122.99 352.80 L123.24 352.80 L123.50 352.80 L123.76 352.80 L124.01 352.80 L124.27 352.80 L124.52 352.80 L124.78 352.80 L125.04 352.80 L125.29 352.80 L125.55 352.80 L125.81 352.80 L126.06 352.80 L126.32 352.80 L126.57 352.80 L126.83 352.80 L127.09 352.80 L127.34 352.80 L127.60 352.80 L127.85 352.80 L128.11 352.80 L128.37 352.80 L128.62 352.80 L128.88 352.80 L129.14 352.80 L129.39 352.80 L129.65 352.80 L129.90 352.80 L130.16 352.80 L130.42 352.80 L130.67 352.80 L130.93 352.80 L131.18 352.80 L131.44 352.80 L131.70 352.80 L131.95 352.80 L132.21 352.80 L132.47 352.80 L132.72 352.80 L132.98 352.80 L133.23 352.80 L133.49 352.80 L133.75 352.80 L134.00 352.80 L134.26 352.80 L134.51 352.80 L134.77 352.80 L135.03 352.80 L135.28 352.80 L135.54 352.80 L135.80 352.80 L136.05 352.80 L136.31 352.80 L136.56 352.80 L136.82 352.80 L137.08 352.80 L137.33 352.80 L137.59 352.80 L137.84 352.80 L138.10 352.80 L138.36 352.80 L138.61 352.80 L138.87 352.80 L139.12 352.80 L139.38 352.80 L139.64 352.80 L139.89 352.80 L140.15 352.80 L140.41 352.80 L140.66 352.80 L140.92 352.80 L141.17 352.80 L141.43 352.80 L141.69 352.80 L141.94 352.80 L142.20 352.80 L142.45 352.80 L142.71 352.80 L142.97 352.80 L143.22 352.80 L143.48 352.80 L143.74 352.80 L143.99 352.80 L144.25 352.80 L144.50 352.80 L144.76 352.80 L145.02 352.80 L145.27 352.80 L145.53 352.80 L145.78 352.80 L146.04 352.80 L146.30 352.80 L146.55 352.80 L146.81 352.80 L147.07 352.80 L147.32 352.80 L147.58 352.80 L147.83 352.80 L148.09 352.80 L148.35 352.80 L148.60 352.80 L148.86 352.80 L149.11 352.80 L149.37 352.80 L149.63 352.80 L149.88 352.80 L150.14 352.80 L150.40 352.80 L150.65 352.80 L150.91 352.80 L151.16 352.80 L151.42 352.80 L151.68 352.80 L151.93 352.80 L152.19 352.80 L152.44 352.80 L152.70 352.80 L152.96 352.80 L153.21 352.80 L153.47 352.80 L153.73 352.80 L153.98 352.80 L154.24 352.80 L154.49 352.80 L154.75 352.80 L155.01 352.80 L155.26 352.80 L155.52 352.80 L155.77 352.80 L156.03 352.80 L156.29 352.80 L156.54 352.80 L156.80 352.80 L157.05 352.80 L157.31 352.80 L157.57 352.80 L157.82 352.80 L158.08 352.80 L158.34 352.80 L158.59 352.80 L158.85 352.80 L159.10 352.80 L159.36 352.80 L159.62 352.80 L159.87 352.80 L160.13 352.80 L160.38 352.80 L160.64 352.80 L160.90 352.80 L161.15 352.80 L161.41 352.80 L161.67 352.80 L161.92 352.80 L162.18 352.80 L162.43 352.80 L162.69 352.80 L162.95 352.80 L163.20 352.80 L163.46 352.80 L163.71 352.80 L163.97 352.80 L164.23 352.80 L164.48 352.80 L164.74 352.80 L165.00 352.80 L165.25 352.80 L165.51 352.80 L165.76 352.80 L166.02 352.80 L166.28 352.80 L166.53 352.80 L166.79 352.80 L167.04 352.80 L167.30 352.80 L167.56 352.80 L167.81 352.80 L168.07 352.79 L168.33 352.79 L168.58 352.79 L168.84 352.79 L169.09 352.79 L169.35 352.79 L169.61 352.79 L169.86 352.79 L170.12 352.79 L170.37 352.79 L170.63 352.79 L170.89 352.79 L171.14 352.79 L171.40 352.79 L171.66 352.79 L171.91 352.79 L172.17 352.79 L172.42 352.79 L172.68 352.79 L172.94 352.79 L173.19 352.79 L173.45 352.79 L173.70 352.79 L173.96 352.79 L174.22 352.79 L174.47 352.79 L174.73 352.79 L174.98 352.79 L175.24 352.78 L175.50 352.78 L175.75 352.78 L176.01 352.78 L176.27 352.78 L176.52 352.78 L176.78 352.78 L177.03 352.78 L177.29 352.78 L177.55 352.78 L177.80 352.78 L178.06 352.78 L178.31 352.78 L178.57 352.78 L178.83 352.77 L179.08 352.77 L179.34 352.77 L179.60 352.77 L179.85 352.77 L180.11 352.77 L180.36 352.77 L180.62 352.77 L180.88 352.77 L181.13 352.76 L181.39 352.76 L181.64 352.76 L181.90 352.76 L182.16 352.76 L182.41 352.76 L182.67 352.76 L182.93 352.75 L183.18 352.75 L183.44 352.75 L183.69 352.75 L183.95 352.75 L184.21 352.75 L184.46 352.74 L184.72 352.74 L184.97 352.74 L185.23 352.74 L185.49 352.73 L185.74 352.73 L186.00 352.73 L186.26 352.73 L186.51 352.72 L186.77 352.72 L187.02 352.72 L187.28 352.72 L187.54 352.71 L187.79 352.71 L188.05 352.71 L188.30 352.70 L188.56 352.70 L188.82 352.70 L189.07 352.69 L189.33 352.69 L189.59 352.68 L189.84 352.68 L190.10 352.68 L190.35 352.67 L190.61 352.67 L190.87 352.66 L191.12 352.66 L191.38 352.65 L191.63 352.65 L191.89 352.64 L192.15 352.63 L192.40 352.63 L192.66 352.62 L192.91 352.62 L193.17 352.61 L193.43 352.60 L193.68 352.60 L193.94 352.59 L194.20 352.58 L194.45 352.57 L194.71 352.57 L194.96 352.56 L195.22 352.55 L195.48 352.54 L195.73 352.53 L195.99 352.52 L196.24 352.51 L196.50 352.50 L196.76 352.49 L197.01 352.48 L197.27 352.47 L197.53 352.46 L197.78 352.45 L198.04 352.43 L198.29 352.42 L198.55 352.41 L198.81 352.39 L199.06 352.38 L199.32 352.36 L199.57 352.35 L199.83 352.33 L200.09 352.32 L200.34 352.30 L200.60 352.28 L200.86 352.27 L201.11 352.25 L201.37 352.23 L201.62 352.21 L201.88 352.19 L202.14 352.17 L202.39 352.15 L202.65 352.12 L202.90 352.10 L203.16 352.08 L203.42 352.05 L203.67 352.03 L203.93 352.00 L204.19 351.97 L204.44 351.94 L204.70 351.92 L204.95 351.89 L205.21 351.85 L205.47 351.82 L205.72 351.79 L205.98 351.76 L206.23 351.72 L206.49 351.68 L206.75 351.65 L207.00 351.61 L207.26 351.57 L207.51 351.53 L207.77 351.48 L208.03 351.44 L208.28 351.40 L208.54 351.35 L208.80 351.30 L209.05 351.25 L209.31 351.20 L209.56 351.15 L209.82 351.09 L210.08 351.03 L210.33 350.98 L210.59 350.92 L210.84 350.85 L211.10 350.79 L211.36 350.73 L211.61 350.66 L211.87 350.59 L212.13 350.51 L212.38 350.44 L212.64 350.36 L212.89 350.28 L213.15 350.20 L213.41 350.12 L213.66 350.03 L213.92 349.94 L214.17 349.85 L214.43 349.75 L214.69 349.65 L214.94 349.55 L215.20 349.45 L215.46 349.34 L215.71 349.23 L215.97 349.12 L216.22 349.00 L216.48 348.88 L216.74 348.75 L216.99 348.62 L217.25 348.49 L217.50 348.35 L217.76 348.21 L218.02 348.06 L218.27 347.91 L218.53 347.76 L218.79 347.60 L219.04 347.43 L219.30 347.27 L219.55 347.09 L219.81 346.91 L220.07 346.73 L220.32 346.54 L220.58 346.34 L220.83 346.14 L221.09 345.93 L221.35 345.71 L221.60 345.49 L221.86 345.27 L222.12 345.03 L222.37 344.79 L222.63 344.54 L222.88 344.29 L223.14 344.02 L223.40 343.75 L223.65 343.47 L223.91 343.19 L224.16 342.89 L224.42 342.59 L224.68 342.28 L224.93 341.95 L225.19 341.62 L225.44 341.28 L225.70 340.93 L225.96 340.57 L226.21 340.20 L226.47 339.82 L226.73 339.43 L226.98 339.03 L227.24 338.62 L227.49 338.19 L227.75 337.75 L228.01 337.31 L228.26 336.84 L228.52 336.37 L228.77 335.88 L229.03 335.39 L229.29 334.87 L229.54 334.35 L229.80 333.81 L230.06 333.25 L230.31 332.68 L230.57 332.10 L230.82 331.50 L231.08 330.89 L231.34 330.26 L231.59 329.61 L231.85 328.95 L232.10 328.28 L232.36 327.58 L232.62 326.87 L232.87 326.14 L233.13 325.40 L233.39 324.64 L233.64 323.86 L233.90 323.06 L234.15 322.24 L234.41 321.41 L234.67 320.55 L234.92 319.68 L235.18 318.79 L235.43 317.88 L235.69 316.95 L235.95 316.00 L236.20 315.03 L236.46 314.05 L236.72 313.04 L236.97 312.01 L237.23 310.97 L237.48 309.90 L237.74 308.82 L238.00 307.71 L238.25 306.59 L238.51 305.44 L238.76 304.28 L239.02 303.10 L239.28 301.90 L239.53 300.68 L239.79 299.44 L240.05 298.19 L240.30 296.92 L240.56 295.63 L240.81 294.33 L241.07 293.01 L241.33 291.67 L241.58 290.32 L241.84 288.96 L242.09 287.58 L242.35 286.20 L242.61 284.80 L242.86 283.39 L243.12 281.97 L243.37 280.54 L243.63 279.11 L243.89 277.67 L244.14 276.22 L244.40 274.78 L244.66 273.33 L244.91 271.88 L245.17 270.43 L245.42 268.99 L245.68 267.56 L245.94 266.13 L246.19 264.71 L246.45 263.30 L246.70 261.90 L246.96 260.53 L247.22 259.17 L247.47 257.83 L247.73 256.52 L247.99 255.23 L248.24 253.97 L248.50 252.75 L248.75 251.56 L249.01 250.41 L249.27 249.30 L249.52 248.24 L249.78 247.22 L250.03 246.26 L250.29 245.36 L250.55 244.51 L250.80 243.73 L251.06 243.02 L251.32 242.37 L251.57 241.80 L251.83 241.31 L252.08 240.91 L252.34 240.59 L252.60 240.36 L252.85 240.23 L253.11 240.20 L253.36 240.27 L253.62 240.46 L253.88 240.75 L254.13 241.16 L254.39 241.68 L254.65 242.34 L254.90 243.12 L255.16 244.03 L255.41 245.07 L255.67 246.25 L255.93 247.57 L256.18 249.04 L256.44 250.65 L256.69 252.41 L256.95 254.32 L257.21 256.38 L257.46 258.59 L257.72 260.96 L257.97 263.48 L258.23 266.15 L258.49 268.98 L258.74 271.96 L259.00 275.09 L259.26 278.37 L259.51 281.79 L259.77 285.36 L260.02 289.06 L260.28 292.90 L260.54 296.87 L260.79 300.96 L261.05 305.16 L261.30 309.46 L261.56 313.87 L261.82 318.36 L262.07 322.93 L262.33 327.57 L262.59 332.26 L262.84 336.99 L263.10 341.75 L263.35 346.52 L263.61 351.29 L263.87 356.04 L264.12 360.76 L264.38 365.42 L264.63 370.01 L264.89 374.51 L265.15 378.91 L265.40 383.18 L265.66 387.30 L265.92 391.25 L266.17 395.02 L266.43 398.58 L266.68 401.91 L266.94 405.00 L267.20 407.82 L267.45 410.36 L267.71 412.59 L267.96 414.51 L268.22 416.10 L268.48 417.34 L268.73 418.22 L268.99 418.72 L269.25 418.85 L269.50 418.59 L269.76 417.93 L270.01 416.88 L270.27 415.43 L270.53 413.59 L270.78 411.36 L271.04 408.76 L271.29 405.78 L271.55 402.45 L271.81 398.78 L272.06 394.80 L272.32 390.53 L272.58 386.00 L272.83 381.23 L273.09 376.27 L273.34 371.15 L273.60 365.90 L273.86 360.58 L274.11 355.23 L274.37 349.89 L274.62 344.61 L274.88 339.44 L275.14 334.43 L275.39 329.63 L275.65 325.09 L275.90 320.86 L276.16 316.99 L276.42 313.51 L276.67 310.49 L276.93 307.94 L277.19 305.91 L277.44 304.43 L277.70 303.52 L277.95 303.20 L278.21 303.49 L278.47 304.37 L278.72 305.86 L278.98 307.95 L279.23 310.60 L279.49 313.79 L279.75 317.50 L280.00 321.67 L280.26 326.24 L280.52 331.17 L280.77 336.37 L281.03 341.78 L281.28 347.32 L281.54 352.90 L281.80 358.43 L282.05 363.82 L282.31 368.99 L282.56 373.83 L282.82 378.28 L283.08 382.24 L283.33 385.63 L283.59 388.39 L283.85 390.46 L284.10 391.80 L284.36 392.36 L284.61 392.14 L284.87 391.12 L285.13 389.32 L285.38 386.77 L285.64 383.52 L285.89 379.62 L286.15 375.16 L286.41 370.23 L286.66 364.95 L286.92 359.43 L287.18 353.80 L287.43 348.20 L287.69 342.77 L287.94 337.65 L288.20 332.98 L288.46 328.87 L288.71 325.45 L288.97 322.82 L289.22 321.06 L289.48 320.22 L289.74 320.34 L289.99 321.42 L290.25 323.45 L290.51 326.36 L290.76 330.07 L291.02 334.47 L291.27 339.42 L291.53 344.77 L291.79 350.33 L292.04 355.91 L292.30 361.33 L292.55 366.38 L292.81 370.88 L293.07 374.65 L293.32 377.55 L293.58 379.45 L293.83 380.29 L294.09 380.00 L294.35 378.61 L294.60 376.15 L294.86 372.73 L295.12 368.48 L295.37 363.59 L295.63 358.28 L295.88 352.77 L296.14 347.33 L296.40 342.22 L296.65 337.68 L296.91 333.95 L297.16 331.21 L297.42 329.62 L297.68 329.26 L297.93 330.15 L298.19 332.27 L298.45 335.49 L298.70 339.65 L298.96 344.51 L299.21 349.79 L299.47 355.18 L299.73 360.36 L299.98 365.00 L300.24 368.81 L300.49 371.54 L300.75 373.01 L301.01 373.11 L301.26 371.84 L301.52 369.26 L301.78 365.56 L302.03 361.00 L302.29 355.90 L302.54 350.64 L302.80 345.62 L303.06 341.22 L303.31 337.80 L303.57 335.64 L303.82 334.90 L304.08 335.66 L304.34 337.87 L304.59 341.33 L304.85 345.74 L305.11 350.73 L305.36 355.83 L305.62 360.57 L305.87 364.50 L306.13 367.25 L306.39 368.53 L306.64 368.23 L306.90 366.35 L307.15 363.11 L307.41 358.82 L307.67 353.95 L307.92 349.04 L308.18 344.62 L308.44 341.20 L308.69 339.18 L308.95 338.80 L309.20 340.10 L309.46 342.94 L309.72 346.96 L309.97 351.66 L310.23 356.42 L310.48 360.63 L310.74 363.72 L311.00 365.27 L311.25 365.06 L311.51 363.12 L311.76 359.72 L312.02 355.37 L312.28 350.70 L312.53 346.43 L312.79 343.22 L313.05 341.58 L313.30 341.77 L313.56 343.77 L313.81 347.23 L314.07 351.58 L314.33 356.07 L314.58 359.90 L314.84 362.39 L315.09 363.09 L315.35 361.86 L315.61 358.94 L315.86 354.88 L316.12 350.52 L316.37 346.72 L316.62 344.19 L316.87 343.40 L317.11 344.46 L317.35 347.12 L317.60 350.81 L317.83 354.80 L318.07 358.31 L318.31 360.65 L318.54 361.42 L318.77 360.48 L319.00 358.08 L319.23 354.70 L319.45 351.03 L319.68 347.79 L319.90 345.60 L320.12 344.86 L320.34 345.69 L320.55 347.89 L320.77 350.99 L320.98 354.38 L321.19 357.39 L321.40 359.43 L321.61 360.14 L321.82 359.40 L322.02 357.39 L322.23 354.52 L322.43 351.38 L322.63 348.58 L322.83 346.66 L323.03 345.98 L323.23 346.65 L323.42 348.50 L323.62 351.16 L323.81 354.08 L324.00 356.70 L324.19 358.50 L324.38 359.15 L324.57 358.55 L324.75 356.84 L324.94 354.37 L325.12 351.64 L325.31 349.19 L325.49 347.49 L325.67 346.86 L325.85 347.41 L326.02 349.00 L326.20 351.30 L326.38 353.86 L326.55 356.17 L326.73 357.77 L326.90 358.37 L327.07 357.87 L327.24 356.39 L327.41 354.23 L327.58 351.83 L327.75 349.66 L327.91 348.14 L328.08 347.56 L328.24 348.01 L328.41 349.40 L328.57 351.43 L328.73 353.70 L328.89 355.75 L329.05 357.19 L329.21 357.75 L329.37 357.32 L329.52 356.02 L329.68 354.11 L329.83 351.97 L329.99 350.03 L330.14 348.66 L330.30 348.12 L330.45 348.51 L330.60 349.74 L330.75 351.54 L330.90 353.57 L331.05 355.41 L331.19 356.72 L331.34 357.23 L331.49 356.87 L331.63 355.72 L331.78 354.01 L331.92 352.09 L332.07 350.33 L332.21 349.08 L332.35 348.59 L332.49 348.92 L332.63 350.01 L332.77 351.64 L332.91 353.47 L333.05 355.14 L333.19 356.33 L333.32 356.81 L333.46 356.50 L333.60 355.46 L333.73 353.92 L333.87 352.17 L334.00 350.58 L334.13 349.44 L334.26 348.97 L334.40 349.26 L334.53 350.25 L334.66 351.72 L334.79 353.39 L334.92 354.92 L335.05 356.01 L335.17 356.46 L335.30 356.19 L335.43 355.25 L335.56 353.84 L335.68 352.25 L335.81 350.78 L335.93 349.73 L336.06 349.29 L336.18 349.55 L336.30 350.45 L336.43 351.79 L336.55 353.32 L336.67 354.73 L336.79 355.74 L336.91 356.16 L337.03 355.92 L337.15 355.06 L337.27 353.77 L337.39 352.31 L337.51 350.95 L337.62 349.98 L337.74 349.57 L337.86 349.80 L337.97 350.62 L338.09 351.86 L338.20 353.27 L338.32 354.57 L338.43 355.51 L338.54 355.91 L338.66 355.69 L338.77 354.91 L338.88 353.71 L338.99 352.35 L339.11 351.10 L339.22 350.19 L339.33 349.80 L339.44 350.01 L339.55 350.77 L339.66 351.91 L339.76 353.22 L339.87 354.44 L339.98 355.32 L340.09 355.69 L340.20 355.49 L340.30 354.77 L340.41 353.66 L340.51 352.40 L340.62 351.22 L340.72 350.37 L340.83 350.01 L340.93 350.19 L341.04 350.89 L341.14 351.96 L341.24 353.19 L341.35 354.32 L341.45 355.15 L341.55 355.50 L341.65 355.32 L341.75 354.65 L341.86 353.61 L341.96 352.43 L342.06 351.33 L342.16 350.53 L342.26 350.18 L342.35 350.36 L342.45 351.01 L342.55 352.01 L342.65 353.15 L342.75 354.22 L342.84 355.00 L342.94 355.34 L343.04 355.17 L343.13 354.54 L343.23 353.57 L343.33 352.46 L343.42 351.42 L343.52 350.67 L343.61 350.34 L343.71 350.50 L343.80 351.11 L343.89 352.05 L343.99 353.13 L344.08 354.13 L344.17 354.87 L344.27 355.19 L344.36 355.04 L344.45 354.45 L344.54 353.53 L344.63 352.49 L344.72 351.51 L344.81 350.79 L344.91 350.48 L345.00 350.62 L345.09 351.20 L345.17 352.08 L345.26 353.10 L345.35 354.06 L345.44 354.75 L345.53 355.06 L345.62 354.92 L345.71 354.36 L345.79 353.50 L345.88 352.51 L345.97 351.58 L346.05 350.90 L346.14 350.60 L346.23 350.74 L346.31 351.28 L346.40 352.12 L346.48 353.08 L346.57 353.99 L346.65 354.65 L346.74 354.94 L346.82 354.81 L346.91 354.29 L346.99 353.47 L347.08 352.53 L347.16 351.65 L347.24 351.00 L347.33 350.71 L347.41 350.84 L347.49 351.35 L347.57 352.14 L347.65 353.06 L347.74 353.92 L347.82 354.56 L347.90 354.84 L347.98 354.72 L348.06 354.22 L348.14 353.44 L348.22 352.54 L348.30 351.70 L348.38 351.09 L348.46 350.81 L348.54 350.93 L348.62 351.42 L348.70 352.17 L348.78 353.05 L348.86 353.87 L348.93 354.47 L349.01 354.74 L349.09 354.63 L349.17 354.15 L349.24 353.42 L349.32 352.56 L349.40 351.76 L349.48 351.17 L349.55 350.90 L349.63 351.01 L349.70 351.47 L349.78 352.20 L349.86 353.03 L349.93 353.82 L350.01 354.40 L350.08 354.66 L350.16 354.55 L350.23 354.10 L350.31 353.39 L350.38 352.57 L350.46 351.81 L350.53 351.24 L350.60 350.98 L350.68 351.09 L350.75 351.53 L350.82 352.22 L350.90 353.02 L350.97 353.77 L351.04 354.33 L351.11 354.58 L351.19 354.48 L351.26 354.05 L351.33 353.37 L351.40 352.59 L351.47 351.85 L351.54 351.30 L351.62 351.06 L351.69 351.16 L351.76 351.58 L351.83 352.24 L351.90 353.01 L351.97 353.73 L352.04 354.26 L352.11 354.51 L352.18 354.41 L352.25 354.00 L352.32 353.35 L352.39 352.60 L352.45 351.89 L352.52 351.37 L352.59 351.13 L352.66 351.22 L352.73 351.63 L352.80 352.26 L352.87 353.00 L352.93 353.69 L353.00 354.21 L353.07 354.44 L353.14 354.35 L353.20 353.95 L353.27 353.33 L353.34 352.61 L353.40 351.93 L353.47 351.42 L353.54 351.19 L353.60 351.28 L353.67 351.67 L353.73 352.28 L353.80 352.99 L353.87 353.66 L353.93 354.15 L354.00 354.38 L354.06 354.29 L354.13 353.91 L354.19 353.31 L354.26 352.62 L354.32 351.96 L354.38 351.47 L354.45 351.25 L354.51 351.33 L354.58 351.71 L354.64 352.29 L354.70 352.98 L354.77 353.62 L354.83 354.10 L354.89 354.32 L354.96 354.24 L355.02 353.87 L355.08 353.30 L355.15 352.63 L355.21 351.99 L355.27 351.52 L355.33 351.30 L355.40 351.38 L355.46 351.74 L355.52 352.31 L355.58 352.97 L355.64 353.59 L355.70 354.06 L355.76 354.27 L355.83 354.19 L355.89 353.84 L355.95 353.28 L356.01 352.63 L356.07 352.02 L356.13 351.56 L356.19 351.35 L356.25 351.43 L356.31 351.78 L356.37 352.33 L356.43 352.96 L356.49 353.57 L356.55 354.02 L356.61 354.22 L356.67 354.15 L356.73 353.81 L356.79 353.27 L356.85 352.64 L356.90 352.05 L356.96 351.61 L357.02 351.40 L357.08 351.48 L357.14 351.81 L357.20 352.34 L357.25 352.96 L357.31 353.54 L357.37 353.98 L357.43 354.18 L357.49 354.10 L357.54 353.77 L357.60 353.25 L357.66 352.65 L357.72 352.07 L357.77 351.64 L357.83 351.45 L357.89 351.52 L357.94 351.84 L358.00 352.35 L358.06 352.95 L358.11 353.52 L358.17 353.94 L358.22 354.13 L358.28 354.06 L358.34 353.75 L358.39 353.24 L358.45 352.65 L358.50 352.09 L358.56 351.68 L358.61 351.49 L358.67 351.55 L358.72 351.87 L358.78 352.36 L358.83 352.94 L358.89 353.49 L358.94 353.90 L359.00 354.09 L359.05 354.03 L359.11 353.72 L359.16 353.23 L359.22 352.66 L359.27 352.12 L359.32 351.71 L359.38 351.53 L359.43 351.59 L359.48 351.89 L359.54 352.38 L359.59 352.94 L359.65 353.47 L359.70 353.87 L359.75 354.06 L359.80 353.99 L359.86 353.69 L359.91 353.22 L359.96 352.66 L360.02 352.14 L360.07 351.74 L360.12 351.56 L360.17 351.62 L360.22 351.92 L360.28 352.39 L360.33 352.93 L360.38 353.45 L360.43 353.84 L360.48 354.02 L360.54 353.96 L360.59 353.67 L360.64 353.21 L360.69 352.67 L360.74 352.16 L360.79 351.77 L360.84 351.60 L360.90 351.66 L360.95 351.94 L361.00 352.40 L361.05 352.93 L361.10 353.43 L361.15 353.81 L361.20 353.99 L361.25 353.93 L361.30 353.65 L361.35 353.20 L361.40 352.67 L361.45 352.17 L361.50 351.80 L361.55 351.63 L361.60 351.69 L361.65 351.97 L361.70 352.41 L361.75 352.93 L361.80 353.42 L361.85 353.78 L361.90 353.96 L361.95 353.90 L361.99 353.62 L362.04 353.19 L362.09 352.68 L362.14 352.19 L362.19 351.83 L362.24 351.66 L362.29 351.72 L362.33 351.99 L362.38 352.42 L362.43 352.92 L362.48 353.40 L362.53 353.76 L362.58 353.93 L362.62 353.87 L362.67 353.60 L362.72 353.18 L362.77 352.68 L362.81 352.21 L362.86 351.85 L362.91 351.69 L362.96 351.74 L363.00 352.01 L363.05 352.43 L363.10 352.92 L363.15 353.38 L363.19 353.73 L363.24 353.90 L363.29 353.84 L363.33 353.58 L363.38 353.17 L363.43 352.68 L363.47 352.22 L363.52 351.88 L363.57 351.72 L363.61 351.77 L363.66 352.02 L363.70 352.43 L363.75 352.91 L363.80 353.37 L363.84 353.71 L363.89 353.87 L363.93 353.82 L363.98 353.57 L364.02 353.16 L364.07 352.69 L364.12 352.24 L364.16 351.90 L364.21 351.74 L364.25 351.79 L364.30 352.04 L364.34 352.44 L364.39 352.91 L364.43 353.36 L364.48 353.69 L364.52 353.85 L364.57 353.80 L364.61 353.55 L364.65 353.15 L364.70 352.69 L364.74 352.25 L364.79 351.92 L364.83 351.77 L364.88 351.82 L364.92 352.06 L364.96 352.45 L365.01 352.91 L365.05 353.34 L365.10 353.67 L365.14 353.82 L365.18 353.77 L365.23 353.53 L365.27 353.15 L365.32 352.69 L365.36 352.26 L365.40 351.94 L365.45 351.79 L365.49 351.84 L365.53 352.08 L365.57 352.46 L365.62 352.90 L365.66 353.33 L365.70 353.65 L365.75 353.80 L365.79 353.75 L365.83 353.52 L365.87 353.14 L365.92 352.70 L365.96 352.28 L366.00 351.96 L366.04 351.81 L366.09 351.86 L366.13 352.09 L366.17 352.46 L366.21 352.90 L366.26 353.32 L366.30 353.63 L366.34 353.78 L366.38 353.73 L366.42 353.50 L366.47 353.13 L366.51 352.70 L366.55 352.29 L366.59 351.98 L366.63 351.83 L366.67 351.88 L366.71 352.11 L366.76 352.47 L366.80 352.90 L366.84 353.31 L366.88 353.61 L366.92 353.76 L366.96 353.71 L367.00 353.49 L367.04 353.13 L367.08 352.70 L367.13 352.30 L367.17 352.00 L367.21 351.85 L367.25 351.90 L367.29 352.12 L367.33 352.48 L367.37 352.90 L367.41 353.29 L367.45 353.59 L367.49 353.74 L367.53 353.69 L367.57 353.47 L367.61 353.12 L367.65 352.71 L367.69 352.31 L367.73 352.01 L367.77 351.87 L367.81 351.92 L367.85 352.13 L367.89 352.48 L367.93 352.89 L367.97 353.28 L368.01 353.58 L368.05 353.72 L368.09 353.67 L368.13 353.46 L368.17 353.11 L368.20 352.71 L368.24 352.32 L368.28 352.03 L368.32 351.89 L368.36 351.93 L368.40 352.15 L368.44 352.49 L368.48 352.89 L368.52 353.27 L368.56 353.56 L368.59 353.70 L368.63 353.66 L368.67 353.45 L368.71 353.11 L368.75 352.71 L368.79 352.33 L368.83 352.05 L368.86 351.91 L368.90 351.95 L368.94 352.16 L368.98 352.50 L369.02 352.89 L369.05 353.26 L369.09 353.55 L369.13 353.68 L369.17 353.64 L369.21 353.43 L369.24 353.10 L369.28 352.71 L369.32 352.34 L369.36 352.06 L369.39 351.93 L369.43 351.97 L369.47 352.17 L369.51 352.50 L369.54 352.89 L369.58 353.26 L369.62 353.53 L369.66 353.66 L369.69 353.62 L369.73 353.42 L369.77 353.10 L369.80 352.71 L369.84 352.35 L369.88 352.07 L369.92 351.94 L369.95 351.98 L369.99 352.18 L370.03 352.51 L370.06 352.89 L370.10 353.25 L370.14 353.52 L370.17 353.65 L370.21 353.61 L370.25 353.41 L370.28 353.09 L370.32 352.72 L370.35 352.36 L370.39 352.09 L370.43 351.96 L370.46 352.00 L370.50 352.20 L370.54 352.51 L370.57 352.88 L370.61 353.24 L370.64 353.50 L370.68 353.63 L370.72 353.59 L370.75 353.40 L370.79 353.09 L370.82 352.72 L370.86 352.37 L370.89 352.10 L370.93 351.98 L370.97 352.01 L371.00 352.21 L371.04 352.52 L371.07 352.88 L371.11 353.23 L371.14 353.49 L371.18 353.62 L371.21 353.58 L371.25 353.39 L371.28 353.08 L371.32 352.72 L371.35 352.37 L371.39 352.11 L371.42 351.99 L371.46 352.03 L371.49 352.22 L371.53 352.52 L371.56 352.88 L371.60 353.22 L371.63 353.48 L371.67 353.60 L371.70 353.57 L371.74 353.38 L371.77 353.08 L371.81 352.72 L371.84 352.38 L371.87 352.13 L371.91 352.00 L371.94 352.04 L371.98 352.23 L372.01 352.53 L372.05 352.88 L372.08 353.21 L372.11 353.47 L372.15 353.59 L372.18 353.55 L372.22 353.37 L372.25 353.07 L372.28 352.72 L372.32 352.39 L372.35 352.14 L372.39 352.02 L372.42 352.05 L372.45 352.24 L372.49 352.53 L372.52 352.88 L372.55 353.21 L372.59 353.46 L372.62 353.57 L372.65 353.54 L372.69 353.36 L372.72 353.07 L372.75 352.72 L372.79 352.40 L372.82 352.15 L372.85 352.03 L372.89 352.07 L372.92 352.25 L372.95 352.53 L372.99 352.87 L373.02 353.20 L373.05 353.44 L373.09 353.56 L373.12 353.53 L373.15 353.35 L373.18 353.06 L373.22 352.73 L373.25 352.40 L373.28 352.16 L373.32 352.04 L373.35 352.08 L373.38 352.25 L373.41 352.54 L373.45 352.87 L373.48 353.19 L373.51 353.43 L373.54 353.55 L373.58 353.52 L373.61 353.34 L373.64 353.06 L373.67 352.73 L373.70 352.41 L373.74 352.17 L373.77 352.06 L373.80 352.09 L373.83 352.26 L373.86 352.54 L373.90 352.87 L373.93 353.19 L373.96 353.42 L373.99 353.54 L374.02 353.50 L374.06 353.33 L374.09 353.06 L374.12 352.73 L374.15 352.42 L374.18 352.18 L374.21 352.07 L374.25 352.10 L374.28 352.27 L374.31 352.55 L374.34 352.87 L374.37 353.18 L374.40 353.41 L374.44 353.53 L374.47 353.49 L374.50 353.32 L374.53 353.05 L374.56 352.73 L374.59 352.42 L374.62 352.19 L374.65 352.08 L374.69 352.11 L374.72 352.28 L374.75 352.55 L374.78 352.87 L374.81 353.17 L374.84 353.40 L374.87 353.51 L374.90 353.48 L374.93 353.32 L374.96 353.05 L374.99 352.73 L375.03 352.43 L375.06 352.20 L375.09 352.09 L375.12 352.12 L375.15 352.29 L375.18 352.55 L375.21 352.87 L375.24 353.17 L375.27 353.39 L375.30 353.50 L375.33 353.47 L375.36 353.31 L375.39 353.04 L375.42 352.73 L375.45 352.44 L375.48 352.21 L375.51 352.10 L375.54 352.13 L375.57 352.30 L375.60 352.56 L375.63 352.87 L375.66 353.16 L375.69 353.39 L375.72 353.49 L375.75 353.46 L375.78 353.30 L375.81 353.04 L375.84 352.73 L375.87 352.44 L375.90 352.22 L375.93 352.11 L375.96 352.14 L375.99 352.30 L376.02 352.56 L376.05 352.87 L376.08 353.16 L376.11 353.38 L376.14 353.48 L376.17 353.45 L376.20 353.29 L376.23 353.04 L376.26 352.74 L376.29 352.45 L376.32 352.23 L376.35 352.12 L376.37 352.15 L376.40 352.31 L376.43 352.56 L376.46 352.86 L376.49 353.15 L376.52 353.37 L376.55 353.47 L376.58 353.44 L376.61 353.29 L376.64 353.03 L376.67 352.74 L376.69 352.45 L376.72 352.24 L376.75 352.13 L376.78 352.16 L376.81 352.32 L376.84 352.57 L376.87 352.86 L376.90 353.15 L376.93 353.36 L376.95 353.46 L376.98 353.43 L377.01 353.28 L377.04 353.03 L377.07 352.74 L377.10 352.46 L377.13 352.24 L377.15 352.14 L377.18 352.17 L377.21 352.32 L377.24 352.57 L377.27 352.86 L377.30 353.14 L377.32 353.35 L377.35 353.45 L377.38 353.42 L377.41 353.27 L377.44 353.03 L377.47 352.74 L377.49 352.46 L377.52 352.25 L377.55 352.15 L377.58 352.18 L377.61 352.33 L377.63 352.57 L377.66 352.86 L377.69 353.14 L377.72 353.34 L377.75 353.44 L377.77 353.42 L377.80 353.27 L377.83 353.03 L377.86 352.74 L377.88 352.47 L377.91 352.26 L377.94 352.16 L377.97 352.19 L378.00 352.34 L378.02 352.58 L378.05 352.86 L378.08 353.13 L378.11 353.34 L378.13 353.43 L378.16 353.41 L378.19 353.26 L378.22 353.02 L378.24 352.74 L378.27 352.47 L378.30 352.27 L378.32 352.17 L378.35 352.20 L378.38 352.34 L378.41 352.58 L378.43 352.86 L378.46 353.13 L378.49 353.33 L378.52 353.43 L378.54 353.40 L378.57 353.25 L378.60 353.02 L378.62 352.74 L378.65 352.48 L378.68 352.27 L378.70 352.18 L378.73 352.20 L378.76 352.35 L378.79 352.58 L378.81 352.86 L378.84 353.12 L378.87 353.32 L378.89 353.42 L378.92 353.39 L378.95 353.25 L378.97 353.02 L379.00 352.74 L379.03 352.48 L379.05 352.28 L379.08 352.19 L379.11 352.21 L379.13 352.35 L379.16 352.58 L379.19 352.86 L379.21 353.12 L379.24 353.31 L379.26 353.41 L379.29 353.38 L379.32 353.24 L379.34 353.01 L379.37 352.74 L379.40 352.48 L379.42 352.29 L379.45 352.19 L379.47 352.22 L379.50 352.36 L379.53 352.59 L379.55 352.86 L379.58 353.11 L379.61 353.31 L379.63 353.40 L379.66 353.38 L379.68 353.24 L379.71 353.01 L379.74 352.74 L379.76 352.49 L379.79 352.30 L379.81 352.20 L379.84 352.23 L379.86 352.37 L379.89 352.59 L379.92 352.86 L379.94 353.11 L379.97 353.30 L379.99 353.39 L380.02 353.37 L380.05 353.23 L380.07 353.01 L380.10 352.74 L380.12 352.49 L380.15 352.30 L380.17 352.21 L380.20 352.24 L380.22 352.37 L380.25 352.59 L380.28 352.85 L380.30 353.11 L380.33 353.29 L380.35 353.39 L380.38 353.36 L380.40 353.23 L380.43 353.01 L380.45 352.75 L380.48 352.50 L380.50 352.31 L380.53 352.22 L380.55 352.24 L380.58 352.38 L380.60 352.60 L380.63 352.85 L380.65 353.10 L380.68 353.29 L380.70 353.38 L380.73 353.35 L380.75 353.22 L380.78 353.00 L380.80 352.75 L380.83 352.50 L380.85 352.31 L380.88 352.22 L380.90 352.25 L380.93 352.38 L380.95 352.60 L380.98 352.85 L381.00 353.10 L381.03 353.28 L381.05 353.37 L381.08 353.35 L381.10 353.22 L381.13 353.00 L381.15 352.75 L381.18 352.50 L381.20 352.32 L381.23 352.23 L381.25 352.26 L381.28 352.39 L381.30 352.60 L381.32 352.85 L381.35 353.09 L381.37 353.28 L381.40 353.36 L381.42 353.34 L381.45 353.21 L381.47 353.00 L381.50 352.75 L381.52 352.51 L381.54 352.33 L381.57 352.24 L381.59 352.26 L381.62 352.39 L381.64 352.60 L381.67 352.85 L381.69 353.09 L381.71 353.27 L381.74 353.36 L381.76 353.33 L381.79 353.21 L381.81 353.00 L381.83 352.75 L381.86 352.51 L381.88 352.33 L381.91 352.25 L381.93 352.27 L381.95 352.40 L381.98 352.60 L381.98 352.66" fill="none" stroke="#000" stroke-width="2.20" stroke-linejoin="round"/>
<path clip-path="url(#cb)" d="M79.70 352.80 L79.96 352.80 L80.21 352.80 L80.47 352.80 L80.72 352.80 L80.98 352.80 L81.24 352.80 L81.49 352.80 L81.75 352.80 L82.01 352.80 L82.26 352.80 L82.52 352.80 L82.77 352.80 L83.03 352.80 L83.29 352.80 L83.54 352.80 L83.80 352.80 L84.05 352.80 L84.31 352.80 L84.57 352.80 L84.82 352.80 L85.08 352.80 L85.34 352.80 L85.59 352.80 L85.85 352.80 L86.10 352.80 L86.36 352.80 L86.62 352.80 L86.87 352.80 L87.13 352.80 L87.38 352.80 L87.64 352.80 L87.90 352.80 L88.15 352.80 L88.41 352.80 L88.66 352.80 L88.92 352.80 L89.18 352.80 L89.43 352.80 L89.69 352.80 L89.95 352.80 L90.20 352.80 L90.46 352.80 L90.71 352.80 L90.97 352.80 L91.23 352.80 L91.48 352.80 L91.74 352.80 L91.99 352.80 L92.25 352.80 L92.51 352.80 L92.76 352.80 L93.02 352.80 L93.28 352.80 L93.53 352.80 L93.79 352.80 L94.04 352.80 L94.30 352.80 L94.56 352.80 L94.81 352.80 L95.07 352.80 L95.32 352.80 L95.58 352.80 L95.84 352.80 L96.09 352.80 L96.35 352.80 L96.61 352.80 L96.86 352.80 L97.12 352.80 L97.37 352.80 L97.63 352.80 L97.89 352.80 L98.14 352.80 L98.40 352.80 L98.65 352.80 L98.91 352.80 L99.17 352.80 L99.42 352.80 L99.68 352.80 L99.94 352.80 L100.19 352.80 L100.45 352.80 L100.70 352.80 L100.96 352.80 L101.22 352.80 L101.47 352.80 L101.73 352.80 L101.98 352.80 L102.24 352.80 L102.50 352.80 L102.75 352.80 L103.01 352.80 L103.27 352.80 L103.52 352.80 L103.78 352.80 L104.03 352.80 L104.29 352.80 L104.55 352.80 L104.80 352.80 L105.06 352.80 L105.31 352.80 L105.57 352.80 L105.83 352.80 L106.08 352.80 L106.34 352.80 L106.59 352.80 L106.85 352.80 L107.11 352.80 L107.36 352.80 L107.62 352.80 L107.88 352.80 L108.13 352.80 L108.39 352.80 L108.64 352.80 L108.90 352.80 L109.16 352.80 L109.41 352.80 L109.67 352.80 L109.92 352.80 L110.18 352.80 L110.44 352.80 L110.69 352.80 L110.95 352.80 L111.21 352.80 L111.46 352.80 L111.72 352.80 L111.97 352.80 L112.23 352.80 L112.49 352.80 L112.74 352.80 L113.00 352.80 L113.25 352.80 L113.51 352.80 L113.77 352.80 L114.02 352.80 L114.28 352.80 L114.54 352.80 L114.79 352.80 L115.05 352.80 L115.30 352.80 L115.56 352.80 L115.82 352.80 L116.07 352.80 L116.33 352.80 L116.58 352.80 L116.84 352.80 L117.10 352.80 L117.35 352.80 L117.61 352.80 L117.87 352.80 L118.12 352.80 L118.38 352.80 L118.63 352.80 L118.89 352.80 L119.15 352.80 L119.40 352.80 L119.66 352.80 L119.91 352.80 L120.17 352.80 L120.43 352.80 L120.68 352.80 L120.94 352.80 L121.20 352.80 L121.45 352.80 L121.71 352.80 L121.96 352.80 L122.22 352.80 L122.48 352.80 L122.73 352.80 L122.99 352.80 L123.24 352.80 L123.50 352.80 L123.76 352.80 L124.01 352.80 L124.27 352.80 L124.52 352.80 L124.78 352.80 L125.04 352.80 L125.29 352.80 L125.55 352.80 L125.81 352.80 L126.06 352.80 L126.32 352.80 L126.57 352.80 L126.83 352.80 L127.09 352.80 L127.34 352.80 L127.60 352.80 L127.85 352.80 L128.11 352.80 L128.37 352.80 L128.62 352.79 L128.88 352.79 L129.14 352.79 L129.39 352.79 L129.65 352.79 L129.90 352.79 L130.16 352.79 L130.42 352.79 L130.67 352.79 L130.93 352.79 L131.18 352.79 L131.44 352.79 L131.70 352.79 L131.95 352.79 L132.21 352.79 L132.47 352.79 L132.72 352.79 L132.98 352.79 L133.23 352.79 L133.49 352.79 L133.75 352.79 L134.00 352.79 L134.26 352.79 L134.51 352.79 L134.77 352.78 L135.03 352.78 L135.28 352.78 L135.54 352.78 L135.80 352.78 L136.05 352.78 L136.31 352.78 L136.56 352.78 L136.82 352.78 L137.08 352.78 L137.33 352.78 L137.59 352.78 L137.84 352.77 L138.10 352.77 L138.36 352.77 L138.61 352.77 L138.87 352.77 L139.12 352.77 L139.38 352.77 L139.64 352.77 L139.89 352.76 L140.15 352.76 L140.41 352.76 L140.66 352.76 L140.92 352.76 L141.17 352.75 L141.43 352.75 L141.69 352.75 L141.94 352.75 L142.20 352.75 L142.45 352.74 L142.71 352.74 L142.97 352.74 L143.22 352.74 L143.48 352.73 L143.74 352.73 L143.99 352.73 L144.25 352.72 L144.50 352.72 L144.76 352.72 L145.02 352.71 L145.27 352.71 L145.53 352.71 L145.78 352.70 L146.04 352.70 L146.30 352.69 L146.55 352.69 L146.81 352.68 L147.07 352.68 L147.32 352.67 L147.58 352.67 L147.83 352.66 L148.09 352.66 L148.35 352.65 L148.60 352.64 L148.86 352.64 L149.11 352.63 L149.37 352.62 L149.63 352.62 L149.88 352.61 L150.14 352.60 L150.40 352.59 L150.65 352.58 L150.91 352.57 L151.16 352.56 L151.42 352.55 L151.68 352.54 L151.93 352.53 L152.19 352.52 L152.44 352.51 L152.70 352.50 L152.96 352.48 L153.21 352.47 L153.47 352.46 L153.73 352.44 L153.98 352.43 L154.24 352.41 L154.49 352.39 L154.75 352.38 L155.01 352.36 L155.26 352.34 L155.52 352.32 L155.77 352.30 L156.03 352.28 L156.29 352.26 L156.54 352.24 L156.80 352.22 L157.05 352.19 L157.31 352.17 L157.57 352.14 L157.82 352.11 L158.08 352.09 L158.34 352.06 L158.59 352.03 L158.85 352.00 L159.10 351.96 L159.36 351.93 L159.62 351.89 L159.87 351.86 L160.13 351.82 L160.38 351.78 L160.64 351.74 L160.90 351.70 L161.15 351.65 L161.41 351.61 L161.67 351.56 L161.92 351.51 L162.18 351.46 L162.43 351.41 L162.69 351.35 L162.95 351.30 L163.20 351.24 L163.46 351.18 L163.71 351.12 L163.97 351.05 L164.23 350.98 L164.48 350.91 L164.74 350.84 L165.00 350.76 L165.25 350.68 L165.51 350.60 L165.76 350.52 L166.02 350.43 L166.28 350.34 L166.53 350.25 L166.79 350.15 L167.04 350.05 L167.30 349.95 L167.56 349.84 L167.81 349.73 L168.07 349.61 L168.33 349.49 L168.58 349.37 L168.84 349.24 L169.09 349.11 L169.35 348.97 L169.61 348.83 L169.86 348.68 L170.12 348.53 L170.37 348.37 L170.63 348.21 L170.89 348.04 L171.14 347.87 L171.40 347.69 L171.66 347.50 L171.91 347.31 L172.17 347.11 L172.42 346.91 L172.68 346.69 L172.94 346.47 L173.19 346.25 L173.45 346.02 L173.70 345.77 L173.96 345.53 L174.22 345.27 L174.47 345.00 L174.73 344.73 L174.98 344.45 L175.24 344.15 L175.50 343.85 L175.75 343.54 L176.01 343.22 L176.27 342.89 L176.52 342.55 L176.78 342.20 L177.03 341.84 L177.29 341.46 L177.55 341.08 L177.80 340.68 L178.06 340.27 L178.31 339.85 L178.57 339.42 L178.83 338.97 L179.08 338.51 L179.34 338.04 L179.60 337.56 L179.85 337.05 L180.11 336.54 L180.36 336.01 L180.62 335.47 L180.88 334.91 L181.13 334.33 L181.39 333.74 L181.64 333.13 L181.90 332.51 L182.16 331.87 L182.41 331.21 L182.67 330.53 L182.93 329.84 L183.18 329.13 L183.44 328.40 L183.69 327.65 L183.95 326.88 L184.21 326.10 L184.46 325.29 L184.72 324.47 L184.97 323.62 L185.23 322.76 L185.49 321.87 L185.74 320.97 L186.00 320.04 L186.26 319.10 L186.51 318.13 L186.77 317.14 L187.02 316.13 L187.28 315.10 L187.54 314.05 L187.79 312.97 L188.05 311.88 L188.30 310.76 L188.56 309.62 L188.82 308.47 L189.07 307.29 L189.33 306.09 L189.59 304.87 L189.84 303.62 L190.10 302.36 L190.35 301.08 L190.61 299.78 L190.87 298.46 L191.12 297.13 L191.38 295.77 L191.63 294.40 L191.89 293.01 L192.15 291.60 L192.40 290.19 L192.66 288.75 L192.91 287.30 L193.17 285.84 L193.43 284.37 L193.68 282.89 L193.94 281.40 L194.20 279.91 L194.45 278.40 L194.71 276.90 L194.96 275.39 L195.22 273.88 L195.48 272.36 L195.73 270.86 L195.99 269.35 L196.24 267.85 L196.50 266.36 L196.76 264.89 L197.01 263.42 L197.27 261.97 L197.53 260.54 L197.78 259.13 L198.04 257.75 L198.29 256.39 L198.55 255.06 L198.81 253.76 L199.06 252.50 L199.32 251.28 L199.57 250.11 L199.83 248.98 L200.09 247.90 L200.34 246.87 L200.60 245.90 L200.86 244.99 L201.11 244.15 L201.37 243.38 L201.62 242.68 L201.88 242.06 L202.14 241.52 L202.39 241.07 L202.65 240.70 L202.90 240.44 L203.16 240.27 L203.42 240.20 L203.67 240.24 L203.93 240.39 L204.19 240.66 L204.44 241.05 L204.70 241.56 L204.95 242.20 L205.21 242.97 L205.47 243.87 L205.72 244.91 L205.98 246.09 L206.23 247.42 L206.49 248.89 L206.75 250.50 L207.00 252.27 L207.26 254.19 L207.51 256.27 L207.77 258.50 L208.03 260.88 L208.28 263.42 L208.54 266.11 L208.80 268.96 L209.05 271.95 L209.31 275.10 L209.56 278.39 L209.82 281.83 L210.08 285.41 L210.33 289.12 L210.59 292.96 L210.84 296.92 L211.10 301.00 L211.36 305.19 L211.61 309.48 L211.87 313.86 L212.13 318.33 L212.38 322.86 L212.64 327.46 L212.89 332.10 L213.15 336.78 L213.41 341.48 L213.66 346.18 L213.92 350.88 L214.17 355.55 L214.43 360.18 L214.69 364.76 L214.94 369.26 L215.20 373.66 L215.46 377.96 L215.71 382.12 L215.97 386.14 L216.22 389.99 L216.48 393.65 L216.74 397.11 L216.99 400.34 L217.25 403.33 L217.50 406.06 L217.76 408.51 L218.02 410.67 L218.27 412.52 L218.53 414.05 L218.79 415.24 L219.04 416.08 L219.30 416.56 L219.55 416.68 L219.81 416.42 L220.07 415.78 L220.32 414.77 L220.58 413.37 L220.83 411.60 L221.09 409.46 L221.35 406.95 L221.60 404.10 L221.86 400.90 L222.12 397.38 L222.37 393.57 L222.63 389.47 L222.88 385.13 L223.14 380.56 L223.40 375.80 L223.65 370.89 L223.91 365.86 L224.16 360.76 L224.42 355.61 L224.68 350.48 L224.93 345.40 L225.19 340.42 L225.44 335.59 L225.70 330.95 L225.96 326.56 L226.21 322.46 L226.47 318.69 L226.73 315.30 L226.98 312.33 L227.24 309.82 L227.49 307.80 L227.75 306.30 L228.01 305.35 L228.26 304.96 L228.52 305.15 L228.77 305.92 L229.03 307.27 L229.29 309.20 L229.54 311.68 L229.80 314.70 L230.06 318.22 L230.31 322.19 L230.57 326.57 L230.82 331.30 L231.08 336.33 L231.34 341.57 L231.59 346.95 L231.85 352.39 L232.10 357.80 L232.36 363.10 L232.62 368.20 L232.87 373.01 L233.13 377.44 L233.39 381.42 L233.64 384.85 L233.90 387.69 L234.15 389.85 L234.41 391.30 L234.67 391.99 L234.92 391.90 L235.18 391.02 L235.43 389.36 L235.69 386.95 L235.95 383.82 L236.20 380.03 L236.46 375.65 L236.72 370.79 L236.97 365.53 L237.23 360.01 L237.48 354.34 L237.74 348.67 L238.00 343.13 L238.25 337.88 L238.51 333.03 L238.76 328.74 L239.02 325.13 L239.28 322.29 L239.53 320.33 L239.79 319.30 L240.05 319.26 L240.30 320.21 L240.56 322.14 L240.81 325.01 L241.07 328.73 L241.33 333.21 L241.58 338.30 L241.84 343.84 L242.09 349.65 L242.35 355.54 L242.61 361.30 L242.86 366.72 L243.12 371.60 L243.37 375.75 L243.63 379.00 L243.89 381.22 L244.14 382.31 L244.40 382.20 L244.66 380.89 L244.91 378.42 L245.17 374.86 L245.42 370.37 L245.68 365.13 L245.94 359.37 L246.19 353.33 L246.45 347.31 L246.70 341.58 L246.96 336.43 L247.22 332.12 L247.47 328.87 L247.73 326.88 L247.99 326.25 L248.24 327.04 L248.50 329.22 L248.75 332.70 L249.01 337.29 L249.27 342.75 L249.52 348.76 L249.78 354.98 L250.03 361.03 L250.29 366.54 L250.55 371.15 L250.80 374.56 L251.06 376.52 L251.32 376.89 L251.57 375.62 L251.83 372.78 L252.08 368.55 L252.34 363.20 L252.60 357.13 L252.85 350.77 L253.11 344.60 L253.36 339.09 L253.62 334.70 L253.88 331.78 L254.13 330.60 L254.39 331.28 L254.65 333.78 L254.90 337.91 L255.16 343.32 L255.41 349.56 L255.67 356.06 L255.93 362.23 L256.18 367.46 L256.44 371.25 L256.69 373.21 L256.95 373.11 L257.21 370.93 L257.46 366.89 L257.72 361.37 L257.97 354.96 L258.23 348.34 L258.49 342.26 L258.74 337.42 L259.00 334.38 L259.26 333.54 L259.51 335.02 L259.77 338.68 L260.02 344.08 L260.28 350.56 L260.54 357.30 L260.79 363.41 L261.05 368.06 L261.30 370.59 L261.56 370.63 L261.82 368.14 L262.07 363.44 L262.33 357.20 L262.59 350.33 L262.84 343.88 L263.10 338.85 L263.35 336.06 L263.61 335.98 L263.87 338.67 L264.12 343.71 L264.38 350.27 L264.63 357.24 L264.89 363.38 L265.15 367.58 L265.40 369.05 L265.66 367.48 L265.92 363.12 L266.17 356.80 L266.43 349.76 L266.68 343.43 L266.93 339.01 L267.18 337.35 L267.42 338.73 L267.66 342.85 L267.91 348.85 L268.14 355.55 L268.38 361.62 L268.62 365.88 L268.85 367.53 L269.08 366.27 L269.31 362.39 L269.54 356.69 L269.76 350.29 L269.99 344.47 L270.21 340.36 L270.43 338.73 L270.65 339.88 L270.87 343.55 L271.08 348.98 L271.29 355.10 L271.51 360.68 L271.72 364.66 L271.92 366.26 L272.13 365.20 L272.34 361.72 L272.54 356.54 L272.74 350.69 L272.95 345.32 L273.15 341.48 L273.34 339.91 L273.54 340.88 L273.74 344.18 L273.93 349.14 L274.12 354.75 L274.32 359.91 L274.51 363.62 L274.69 365.17 L274.88 364.26 L275.07 361.12 L275.25 356.38 L275.44 350.99 L275.62 346.02 L275.80 342.43 L275.98 340.92 L276.16 341.76 L276.34 344.76 L276.52 349.30 L276.69 354.48 L276.87 359.27 L277.04 362.74 L277.21 364.22 L277.39 363.44 L277.56 360.58 L277.73 356.22 L277.89 351.24 L278.06 346.61 L278.23 343.26 L278.39 341.81 L278.56 342.54 L278.72 345.27 L278.88 349.46 L279.05 354.26 L279.21 358.72 L279.37 361.97 L279.53 363.39 L279.68 362.71 L279.84 360.09 L280.00 356.06 L280.15 351.43 L280.31 347.12 L280.46 343.97 L280.61 342.59 L280.77 343.23 L280.92 345.74 L281.07 349.62 L281.22 354.08 L281.37 358.25 L281.51 361.30 L281.66 362.65 L281.81 362.05 L281.95 359.64 L282.10 355.90 L282.24 351.59 L282.38 347.56 L282.53 344.60 L282.67 343.28 L282.81 343.85 L282.95 346.17 L283.09 349.77 L283.23 353.94 L283.37 357.84 L283.51 360.71 L283.64 362.00 L283.78 361.47 L283.92 359.23 L284.05 355.75 L284.19 351.73 L284.32 347.95 L284.45 345.16 L284.58 343.90 L284.72 344.41 L284.85 346.56 L284.98 349.92 L285.11 353.82 L285.24 357.48 L285.37 360.18 L285.50 361.41 L285.62 360.94 L285.75 358.86 L285.88 355.61 L286.00 351.84 L286.13 348.29 L286.25 345.66 L286.38 344.46 L286.50 344.91 L286.62 346.91 L286.75 350.06 L286.87 353.71 L286.99 357.16 L287.11 359.71 L287.23 360.89 L287.35 360.46 L287.47 358.52 L287.59 355.48 L287.71 351.93 L287.83 348.59 L287.94 346.10 L288.06 344.96 L288.18 345.37 L288.29 347.24 L288.41 350.19 L288.52 353.62 L288.64 356.87 L288.75 359.29 L288.87 360.41 L288.98 360.02 L289.09 358.21 L289.20 355.35 L289.32 352.01 L289.43 348.86 L289.54 346.51 L289.65 345.42 L289.76 345.79 L289.87 347.54 L289.98 350.31 L290.09 353.55 L290.20 356.62 L290.30 358.90 L290.41 359.97 L290.52 359.62 L290.62 357.92 L290.73 355.23 L290.84 352.09 L290.94 349.10 L291.05 346.87 L291.15 345.83 L291.26 346.17 L291.36 347.81 L291.46 350.42 L291.57 353.48 L291.67 356.38 L291.77 358.56 L291.87 359.58 L291.98 359.25 L292.08 357.66 L292.18 355.12 L292.28 352.15 L292.38 349.32 L292.48 347.21 L292.58 346.21 L292.68 346.52 L292.78 348.06 L292.87 350.53 L292.97 353.43 L293.07 356.17 L293.17 358.24 L293.26 359.21 L293.36 358.92 L293.46 357.42 L293.55 355.02 L293.65 352.20 L293.75 349.52 L293.84 347.51 L293.93 346.56 L294.03 346.84 L294.12 348.30 L294.22 350.63 L294.31 353.38 L294.40 355.98 L294.50 357.95 L294.59 358.88 L294.68 358.60 L294.77 357.19 L294.87 354.92 L294.96 352.25 L295.05 349.70 L295.14 347.79 L295.23 346.88 L295.32 347.14 L295.41 348.52 L295.50 350.73 L295.59 353.33 L295.68 355.81 L295.77 357.68 L295.85 358.57 L295.94 358.32 L296.03 356.98 L296.12 354.83 L296.21 352.29 L296.29 349.87 L296.38 348.05 L296.47 347.18 L296.55 347.42 L296.64 348.72 L296.72 350.82 L296.81 353.29 L296.89 355.65 L296.98 357.43 L297.06 358.28 L297.15 358.05 L297.23 356.78 L297.32 354.74 L297.40 352.33 L297.48 350.02 L297.57 348.29 L297.65 347.45 L297.73 347.67 L297.81 348.91 L297.90 350.90 L297.98 353.26 L298.06 355.50 L298.14 357.20 L298.22 358.02 L298.30 357.80 L298.39 356.60 L298.47 354.66 L298.55 352.36 L298.63 350.17 L298.71 348.51 L298.79 347.70 L298.87 347.91 L298.94 349.08 L299.02 350.98 L299.10 353.22 L299.18 355.37 L299.26 356.99 L299.34 357.78 L299.41 357.57 L299.49 356.43 L299.57 354.58 L299.65 352.39 L299.72 350.30 L299.80 348.71 L299.88 347.94 L299.95 348.14 L300.03 349.25 L300.11 351.06 L300.18 353.20 L300.26 355.24 L300.33 356.79 L300.41 357.55 L300.48 357.36 L300.56 356.27 L300.63 354.51 L300.71 352.42 L300.78 350.42 L300.85 348.90 L300.93 348.16 L301.00 348.34 L301.08 349.40 L301.15 351.13 L301.22 353.17 L301.29 355.13 L301.37 356.61 L301.44 357.34 L301.51 357.16 L301.58 356.12 L301.66 354.44 L301.73 352.44 L301.80 350.53 L301.87 349.07 L301.94 348.37 L302.01 348.54 L302.08 349.55 L302.15 351.19 L302.22 353.15 L302.29 355.02 L302.36 356.44 L302.43 357.14 L302.50 356.97 L302.57 355.98 L302.64 354.37 L302.71 352.46 L302.78 350.63 L302.85 349.24 L302.92 348.56 L302.99 348.72 L303.05 349.68 L303.12 351.26 L303.19 353.13 L303.26 354.92 L303.33 356.28 L303.39 356.95 L303.46 356.80 L303.53 355.85 L303.60 354.31 L303.66 352.48 L303.73 350.73 L303.80 349.39 L303.86 348.74 L303.93 348.89 L303.99 349.81 L304.06 351.32 L304.13 353.11 L304.19 354.83 L304.26 356.13 L304.32 356.78 L304.39 356.63 L304.45 355.73 L304.52 354.25 L304.58 352.50 L304.65 350.82 L304.71 349.54 L304.78 348.91 L304.84 349.05 L304.90 349.93 L304.97 351.37 L305.03 353.09 L305.09 354.74 L305.16 355.99 L305.22 356.61 L305.28 356.47 L305.35 355.61 L305.41 354.20 L305.47 352.52 L305.54 350.90 L305.60 349.67 L305.66 349.07 L305.72 349.20 L305.78 350.04 L305.85 351.43 L305.91 353.07 L305.97 354.66 L306.03 355.86 L306.09 356.46 L306.15 356.33 L306.21 355.50 L306.27 354.15 L306.34 352.54 L306.40 350.98 L306.46 349.80 L306.52 349.21 L306.58 349.34 L306.64 350.15 L306.70 351.48 L306.76 353.06 L306.82 354.58 L306.88 355.74 L306.94 356.31 L307.00 356.19 L307.05 355.40 L307.11 354.10 L307.17 352.55 L307.23 351.06 L307.29 349.92 L307.35 349.36 L307.41 349.47 L307.47 350.25 L307.52 351.52 L307.58 353.04 L307.64 354.51 L307.70 355.62 L307.76 356.18 L307.81 356.06 L307.87 355.30 L307.93 354.05 L307.99 352.56 L308.04 351.13 L308.10 350.03 L308.16 349.49 L308.21 349.60 L308.27 350.35 L308.33 351.57 L308.38 353.03 L308.44 354.44 L308.50 355.51 L308.55 356.05 L308.61 355.94 L308.66 355.21 L308.72 354.01 L308.77 352.57 L308.83 351.19 L308.89 350.14 L308.94 349.61 L309.00 349.72 L309.05 350.43 L309.11 351.61 L309.16 353.02 L309.22 354.37 L309.27 355.41 L309.33 355.93 L309.38 355.82 L309.43 355.12 L309.49 353.97 L309.54 352.59 L309.60 351.26 L309.65 350.24 L309.70 349.73 L309.76 349.83 L309.81 350.52 L309.87 351.65 L309.92 353.01 L309.97 354.31 L310.03 355.32 L310.08 355.81 L310.13 355.71 L310.18 355.04 L310.24 353.93 L310.29 352.60 L310.34 351.31 L310.40 350.33 L310.45 349.84 L310.50 349.94 L310.55 350.60 L310.60 351.69 L310.66 353.00 L310.71 354.26 L310.76 355.22 L310.81 355.71 L310.86 355.61 L310.92 354.96 L310.97 353.89 L311.02 352.61 L311.07 351.37 L311.12 350.42 L311.17 349.95 L311.22 350.04 L311.27 350.68 L311.32 351.73 L311.38 352.99 L311.43 354.21 L311.48 355.14 L311.53 355.60 L311.58 355.51 L311.63 354.89 L311.68 353.85 L311.73 352.62 L311.78 351.42 L311.83 350.50 L311.88 350.05 L311.93 350.13 L311.98 350.75 L312.03 351.76 L312.08 352.98 L312.13 354.15 L312.17 355.06 L312.22 355.51 L312.27 355.42 L312.32 354.82 L312.37 353.82 L312.42 352.62 L312.47 351.47 L312.52 350.58 L312.57 350.14 L312.61 350.22 L312.66 350.82 L312.71 351.80 L312.76 352.97 L312.81 354.11 L312.86 354.98 L312.90 355.42 L312.95 355.33 L313.00 354.75 L313.05 353.79 L313.09 352.63 L313.14 351.52 L313.19 350.66 L313.24 350.23 L313.28 350.31 L313.33 350.88 L313.38 351.83 L313.43 352.96 L313.47 354.06 L313.52 354.91 L313.57 355.33 L313.61 355.25 L313.66 354.69 L313.71 353.76 L313.75 352.64 L313.80 351.56 L313.85 350.73 L313.89 350.31 L313.94 350.39 L313.99 350.94 L314.03 351.86 L314.08 352.96 L314.12 354.02 L314.17 354.84 L314.22 355.25 L314.26 355.17 L314.31 354.63 L314.35 353.73 L314.40 352.65 L314.44 351.60 L314.49 350.80 L314.53 350.39 L314.58 350.47 L314.62 351.00 L314.67 351.89 L314.71 352.95 L314.76 353.98 L314.80 354.77 L314.85 355.17 L314.89 355.10 L314.94 354.57 L314.98 353.70 L315.03 352.65 L315.07 351.64 L315.12 350.86 L315.16 350.47 L315.20 350.54 L315.25 351.06 L315.29 351.92 L315.34 352.94 L315.38 353.94 L315.42 354.71 L315.47 355.09 L315.51 355.03 L315.56 354.52 L315.60 353.67 L315.64 352.66 L315.69 351.68 L315.73 350.92 L315.77 350.54 L315.82 350.61 L315.86 351.11 L315.90 351.94 L315.95 352.94 L315.99 353.91 L316.03 354.65 L316.07 355.02 L316.12 354.96 L316.16 354.47 L316.20 353.65 L316.25 352.66 L316.29 351.71 L316.33 350.98 L316.37 350.61 L316.42 350.68 L316.46 351.16 L316.50 351.97 L316.54 352.93 L316.58 353.87 L316.63 354.59 L316.67 354.96 L316.71 354.89 L316.75 354.42 L316.79 353.62 L316.84 352.67 L316.88 351.75 L316.92 351.04 L316.96 350.68 L317.00 350.74 L317.04 351.21 L317.08 351.99 L317.13 352.93 L317.17 353.84 L317.21 354.54 L317.25 354.89 L317.29 354.83 L317.33 354.37 L317.37 353.60 L317.41 352.67 L317.45 351.78 L317.49 351.09 L317.54 350.74 L317.58 350.80 L317.62 351.25 L317.66 352.01 L317.70 352.92 L317.74 353.81 L317.78 354.49 L317.82 354.83 L317.86 354.77 L317.90 354.32 L317.94 353.58 L317.98 352.68 L318.02 351.81 L318.06 351.14 L318.10 350.80 L318.14 350.86 L318.18 351.30 L318.22 352.03 L318.26 352.92 L318.30 353.78 L318.34 354.44 L318.38 354.77 L318.42 354.72 L318.45 354.28 L318.49 353.56 L318.53 352.68 L318.57 351.84 L318.61 351.18 L318.65 350.85 L318.69 350.91 L318.73 351.34 L318.77 352.05 L318.81 352.91 L318.85 353.75 L318.88 354.39 L318.92 354.72 L318.96 354.66 L319.00 354.24 L319.04 353.54 L319.08 352.69 L319.12 351.86 L319.15 351.23 L319.19 350.91 L319.23 350.96 L319.27 351.38 L319.31 352.07 L319.34 352.91 L319.38 353.72 L319.42 354.35 L319.46 354.67 L319.50 354.61 L319.53 354.20 L319.57 353.52 L319.61 352.69 L319.65 351.89 L319.69 351.27 L319.72 350.96 L319.76 351.01 L319.80 351.42 L319.84 352.09 L319.87 352.91 L319.91 353.70 L319.95 354.31 L319.99 354.61 L320.02 354.56 L320.06 354.17 L320.10 353.50 L320.13 352.69 L320.17 351.92 L320.21 351.31 L320.24 351.01 L320.28 351.06 L320.32 351.45 L320.36 352.11 L320.39 352.90 L320.43 353.67 L320.47 354.27 L320.50 354.57 L320.54 354.52 L320.57 354.13 L320.61 353.48 L320.65 352.70 L320.68 351.94 L320.72 351.35 L320.76 351.06 L320.79 351.10 L320.83 351.49 L320.86 352.13 L320.90 352.90 L320.94 353.65 L320.97 354.23 L321.01 354.52 L321.04 354.47 L321.08 354.10 L321.12 353.46 L321.15 352.70 L321.19 351.96 L321.22 351.39 L321.26 351.10 L321.29 351.15 L321.33 351.52 L321.37 352.15 L321.40 352.90 L321.44 353.63 L321.47 354.19 L321.51 354.48 L321.54 354.43 L321.58 354.06 L321.61 353.45 L321.65 352.70 L321.68 351.98 L321.72 351.43 L321.75 351.15 L321.79 351.19 L321.82 351.55 L321.86 352.16 L321.89 352.89 L321.93 353.60 L321.96 354.15 L322.00 354.43 L322.03 354.39 L322.07 354.03 L322.10 353.43 L322.13 352.71 L322.17 352.01 L322.20 351.46 L322.24 351.19 L322.27 351.23 L322.31 351.58 L322.34 352.18 L322.37 352.89 L322.41 353.58 L322.44 354.12 L322.48 354.39 L322.51 354.35 L322.55 354.00 L322.58 353.42 L322.61 352.71 L322.65 352.03 L322.68 351.50 L322.71 351.23 L322.75 351.27 L322.78 351.61 L322.82 352.19 L322.85 352.89 L322.88 353.56 L322.92 354.09 L322.95 354.35 L322.98 354.31 L323.02 353.97 L323.05 353.40 L323.08 352.71 L323.12 352.04 L323.15 351.53 L323.18 351.26 L323.22 351.31 L323.25 351.64 L323.28 352.21 L323.32 352.89 L323.35 353.55 L323.38 354.06 L323.41 354.32 L323.45 354.28 L323.48 353.95 L323.51 353.39 L323.55 352.72 L323.58 352.06 L323.61 351.56 L323.64 351.30 L323.68 351.34 L323.71 351.67 L323.74 352.22 L323.77 352.88 L323.81 353.53 L323.84 354.03 L323.87 354.28 L323.90 354.24 L323.94 353.92 L323.97 353.37 L324.00 352.72 L324.03 352.08 L324.07 351.59 L324.10 351.34 L324.13 351.37 L324.16 351.69 L324.19 352.23 L324.23 352.88 L324.26 353.51 L324.29 354.00 L324.32 354.25 L324.35 354.21 L324.39 353.89 L324.42 353.36 L324.45 352.72 L324.48 352.10 L324.51 351.62 L324.54 351.37 L324.58 351.41 L324.61 351.72 L324.64 352.24 L324.67 352.88 L324.70 353.49 L324.73 353.97 L324.76 354.21 L324.80 354.18 L324.83 353.87 L324.86 353.35 L324.89 352.72 L324.92 352.11 L324.95 351.64 L324.98 351.40 L325.01 351.44 L325.05 351.74 L325.08 352.26 L325.11 352.88 L325.14 353.48 L325.17 353.94 L325.20 354.18 L325.23 354.15 L325.26 353.84 L325.29 353.34 L325.32 352.73 L325.35 352.13 L325.39 351.67 L325.42 351.43 L325.45 351.47 L325.48 351.77 L325.51 352.27 L325.54 352.87 L325.57 353.46 L325.60 353.92 L325.63 354.15 L325.66 354.12 L325.69 353.82 L325.72 353.33 L325.75 352.73 L325.78 352.14 L325.81 351.69 L325.84 351.46 L325.87 351.50 L325.90 351.79 L325.93 352.28 L325.96 352.87 L325.99 353.45 L326.02 353.89 L326.05 354.12 L326.08 354.09 L326.11 353.80 L326.14 353.31 L326.17 352.73 L326.20 352.16 L326.23 351.72 L326.26 351.49 L326.29 351.52 L326.32 351.81 L326.35 352.29 L326.38 352.87 L326.41 353.43 L326.44 353.87 L326.47 354.09 L326.50 354.06 L326.53 353.78 L326.56 353.30 L326.59 352.73 L326.62 352.17 L326.65 351.74 L326.67 351.52 L326.70 351.55 L326.73 351.83 L326.76 352.30 L326.79 352.87 L326.82 353.42 L326.85 353.85 L326.88 354.07 L326.91 354.04 L326.94 353.76 L326.97 353.29 L327.00 352.73 L327.02 352.19 L327.05 351.76 L327.08 351.55 L327.11 351.58 L327.14 351.85 L327.17 352.31 L327.20 352.87 L327.23 353.41 L327.26 353.83 L327.28 354.04 L327.31 354.01 L327.34 353.74 L327.37 353.28 L327.40 352.73 L327.43 352.20 L327.46 351.78 L327.48 351.57 L327.51 351.60 L327.54 351.87 L327.57 352.32 L327.60 352.86 L327.63 353.39 L327.65 353.80 L327.68 354.02 L327.71 353.99 L327.74 353.72 L327.77 353.27 L327.80 352.74 L327.82 352.21 L327.85 351.81 L327.88 351.60 L327.91 351.63 L327.94 351.89 L327.96 352.33 L327.99 352.86 L328.02 353.38 L328.05 353.78 L328.08 353.99 L328.10 353.96 L328.13 353.70 L328.16 353.27 L328.19 352.74 L328.21 352.22 L328.24 351.83 L328.27 351.62 L328.30 351.65 L328.32 351.91 L328.35 352.34 L328.38 352.86 L328.41 353.37 L328.44 353.76 L328.46 353.97 L328.49 353.94 L328.52 353.68 L328.55 353.26 L328.57 352.74 L328.60 352.24 L328.63 351.84 L328.65 351.64 L328.68 351.67 L328.71 351.92 L328.74 352.35 L328.76 352.86 L328.79 353.36 L328.82 353.75 L328.85 353.94 L328.87 353.92 L328.90 353.67 L328.93 353.25 L328.95 352.74 L328.98 352.25 L329.01 351.86 L329.03 351.67 L329.06 351.69 L329.09 351.94 L329.11 352.36 L329.14 352.86 L329.17 353.35 L329.20 353.73 L329.22 353.92 L329.25 353.90 L329.28 353.65 L329.30 353.24 L329.33 352.74 L329.36 352.26 L329.38 351.88 L329.41 351.69 L329.44 351.71 L329.46 351.96 L329.49 352.36 L329.51 352.86 L329.54 353.34 L329.57 353.71 L329.59 353.90 L329.62 353.87 L329.65 353.64 L329.67 353.23 L329.70 352.74 L329.73 352.27 L329.75 351.90 L329.78 351.71 L329.80 351.74 L329.83 351.97 L329.86 352.37 L329.88 352.86 L329.91 353.33 L329.94 353.69 L329.96 353.88 L329.99 353.86 L330.01 353.62 L330.04 353.22 L330.07 352.74 L330.09 352.28 L330.12 351.92 L330.14 351.73 L330.17 351.75 L330.19 351.99 L330.22 352.38 L330.25 352.85 L330.27 353.32 L330.30 353.68 L330.32 353.86 L330.35 353.84 L330.38 353.61 L330.40 353.22 L330.43 352.75 L330.45 352.29 L330.48 351.93 L330.50 351.75 L330.53 351.77 L330.55 352.00 L330.58 352.39 L330.61 352.85 L330.63 353.31 L330.66 353.66 L330.68 353.84 L330.71 353.82 L330.73 353.59 L330.76 353.21 L330.78 352.75 L330.81 352.30 L330.83 351.95 L330.86 351.77 L330.88 351.79 L330.91 352.02 L330.93 352.39 L330.96 352.85 L330.98 353.30 L331.01 353.65 L331.03 353.82 L331.06 353.80 L331.08 353.58 L331.11 353.20 L331.13 352.75 L331.16 352.31 L331.18 351.96 L331.21 351.79 L331.23 351.81 L331.26 352.03 L331.28 352.40 L331.31 352.85 L331.33 353.29 L331.36 353.63 L331.38 353.81 L331.41 353.78 L331.43 353.56 L331.46 353.20 L331.48 352.75 L331.51 352.31 L331.53 351.98 L331.56 351.80 L331.58 351.83 L331.61 352.04 L331.63 352.41 L331.65 352.85 L331.68 353.28 L331.70 353.62 L331.73 353.79 L331.75 353.76 L331.78 353.55 L331.80 353.19 L331.83 352.75 L331.85 352.32 L331.87 351.99 L331.90 351.82 L331.92 351.84 L331.95 352.06 L331.97 352.41 L332.00 352.85 L332.02 353.27 L332.04 353.60 L332.07 353.77 L332.09 353.75 L332.12 353.54 L332.14 353.18 L332.16 352.75 L332.19 352.33 L332.21 352.01 L332.24 351.84 L332.26 351.86 L332.28 352.07 L332.31 352.42 L332.33 352.85 L332.36 353.26 L332.38 353.59 L332.40 353.76 L332.43 353.73 L332.45 353.53 L332.48 353.18 L332.50 352.75 L332.52 352.34 L332.55 352.02 L332.57 351.85 L332.59 351.87 L332.62 352.08 L332.64 352.43 L332.67 352.85 L332.69 353.26 L332.71 353.58 L332.74 353.74 L332.76 353.72 L332.78 353.51 L332.81 353.17 L332.83 352.75 L332.85 352.35 L332.88 352.03 L332.90 351.87 L332.92 351.89 L332.95 352.09 L332.97 352.43 L333.00 352.85 L333.02 353.25 L333.04 353.56 L333.07 353.72 L333.09 353.70 L333.11 353.50 L333.13 353.16 L333.16 352.75 L333.18 352.35 L333.20 352.04 L333.23 351.88 L333.25 351.90 L333.27 352.10 L333.30 352.44 L333.32 352.85 L333.34 353.24 L333.37 353.55 L333.39 353.71 L333.41 353.69 L333.44 353.49 L333.46 353.16 L333.48 352.76 L333.50 352.36 L333.53 352.06 L333.55 351.90 L333.57 351.92 L333.60 352.11 L333.62 352.44 L333.64 352.84 L333.66 353.23 L333.69 353.54 L333.71 353.69 L333.73 353.67 L333.76 353.48 L333.78 353.15 L333.80 352.76 L333.82 352.37 L333.85 352.07 L333.87 351.91 L333.89 351.93 L333.91 352.12 L333.94 352.45 L333.96 352.84 L333.98 353.23 L334.00 353.53 L334.03 353.68 L334.05 353.66 L334.07 353.47 L334.09 353.15 L334.12 352.76 L334.14 352.38 L334.16 352.08 L334.18 351.93 L334.21 351.95 L334.23 352.13 L334.25 352.46 L334.27 352.84 L334.30 353.22 L334.32 353.52 L334.34 353.67 L334.36 353.65 L334.39 353.46 L334.41 353.14 L334.43 352.76 L334.45 352.38 L334.47 352.09 L334.50 351.94 L334.52 351.96 L334.54 352.15 L334.56 352.46 L334.59 352.84 L334.61 353.21 L334.63 353.50 L334.65 353.65 L334.67 353.63 L334.70 353.45 L334.72 353.14 L334.74 352.76 L334.76 352.39 L334.78 352.10 L334.80 351.95 L334.83 351.97 L334.85 352.15 L334.87 352.47 L334.89 352.84 L334.91 353.21 L334.94 353.49 L334.96 353.64 L334.98 353.62 L335.00 353.44 L335.02 353.13 L335.04 352.76 L335.07 352.39 L335.09 352.11 L335.11 351.96 L335.13 351.98 L335.15 352.16 L335.17 352.47 L335.20 352.84 L335.22 353.20 L335.24 353.48 L335.26 353.63 L335.28 353.61 L335.30 353.43 L335.33 353.13 L335.35 352.76 L335.37 352.40 L335.39 352.12 L335.41 351.98 L335.43 352.00 L335.45 352.17 L335.48 352.47 L335.50 352.84 L335.52 353.20 L335.54 353.47 L335.56 353.62 L335.58 353.60 L335.60 353.42 L335.63 353.12 L335.65 352.76 L335.67 352.41 L335.69 352.13 L335.71 351.99 L335.73 352.01 L335.75 352.18 L335.77 352.48 L335.79 352.84 L335.82 353.19 L335.84 353.46 L335.86 353.60 L335.88 353.59 L335.90 353.41 L335.92 353.12 L335.94 352.76 L335.96 352.41 L335.98 352.14 L336.01 352.00 L336.03 352.02 L336.05 352.19 L336.07 352.48 L336.09 352.84 L336.11 353.18 L336.13 353.45 L336.15 353.59 L336.17 353.58 L336.19 353.40 L336.21 353.11 L336.24 352.76 L336.26 352.42 L336.28 352.15 L336.30 352.01 L336.32 352.03 L336.34 352.20 L336.36 352.49 L336.38 352.84 L336.40 353.18 L336.42 353.44 L336.44 353.58 L336.46 353.56 L336.48 353.40 L336.50 353.11 L336.53 352.76 L336.55 352.42 L336.57 352.16 L336.59 352.02 L336.61 352.04 L336.63 352.21 L336.65 352.49 L336.67 352.84 L336.69 353.17 L336.71 353.44 L336.73 353.57 L336.75 353.55 L336.77 353.39 L336.79 353.11 L336.81 352.76 L336.83 352.43 L336.85 352.17 L336.87 352.03 L336.89 352.05 L336.91 352.22 L336.93 352.50 L336.95 352.84 L336.97 353.17 L337.00 353.43 L337.02 353.56 L337.04 353.54 L337.06 353.38 L337.08 353.10 L337.10 352.76 L337.12 352.43 L337.14 352.18 L337.16 352.04 L337.18 352.06 L337.20 352.22 L337.22 352.50 L337.24 352.84 L337.26 353.16 L337.28 353.42 L337.30 353.55 L337.32 353.53 L337.34 353.37 L337.36 353.10 L337.38 352.76 L337.40 352.44 L337.42 352.19 L337.44 352.05 L337.46 352.07 L337.48 352.23 L337.50 352.50 L337.52 352.84 L337.54 353.16 L337.56 353.41 L337.58 353.54 L337.60 353.52 L337.62 353.36 L337.64 353.09 L337.66 352.76 L337.68 352.44 L337.70 352.19 L337.71 352.06 L337.73 352.08 L337.75 352.24 L337.77 352.51 L337.79 352.83 L337.81 353.15 L337.83 353.40 L337.85 353.53 L337.87 353.52 L337.89 353.36 L337.91 353.09 L337.93 352.77 L337.95 352.45 L337.97 352.20 L337.99 352.07 L338.01 352.09 L338.03 352.25 L338.05 352.51 L338.07 352.83 L338.09 353.15 L338.11 353.39 L338.13 353.52 L338.15 353.51 L338.17 353.35 L338.18 353.09 L338.20 352.77 L338.22 352.45 L338.24 352.21 L338.26 352.08 L338.28 352.10 L338.30 352.25 L338.32 352.52 L338.34 352.83 L338.36 353.14 L338.38 353.39 L338.40 353.51 L338.42 353.50 L338.44 353.34 L338.46 353.08 L338.47 352.77 L338.49 352.46 L338.51 352.22 L338.53 352.09 L338.55 352.11 L338.57 352.26 L338.59 352.52 L338.61 352.83 L338.63 353.14 L338.65 353.38 L338.67 353.50 L338.68 353.49 L338.70 353.34 L338.72 353.08 L338.74 352.77 L338.76 352.46 L338.78 352.22 L338.80 352.10 L338.82 352.12 L338.84 352.27 L338.86 352.52 L338.87 352.83 L338.89 353.14 L338.91 353.37 L338.93 353.49 L338.95 353.48 L338.97 353.33 L338.99 353.08 L339.01 352.77 L339.03 352.47 L339.04 352.23 L339.06 352.11 L339.08 352.12 L339.10 352.27 L339.12 352.53 L339.14 352.83 L339.16 353.13 L339.18 353.37 L339.19 353.49 L339.21 353.47 L339.23 353.32 L339.25 353.07 L339.27 352.77 L339.29 352.47 L339.31 352.24 L339.33 352.12 L339.34 352.13 L339.36 352.28 L339.38 352.53 L339.40 352.83 L339.42 353.13 L339.44 353.36 L339.46 353.48 L339.47 353.46 L339.49 353.32 L339.51 353.07 L339.53 352.77 L339.55 352.47 L339.57 352.25 L339.59 352.13 L339.60 352.14 L339.62 352.29 L339.64 352.53 L339.66 352.83 L339.68 353.12 L339.70 353.35 L339.71 353.47 L339.73 353.46 L339.75 353.31 L339.77 353.07 L339.79 352.77 L339.81 352.48 L339.82 352.25 L339.84 352.13 L339.86 352.15 L339.88 352.29 L339.90 352.54 L339.92 352.83 L339.93 353.12 L339.95 353.34 L339.97 353.46 L339.99 353.45 L340.01 353.31 L340.02 353.06 L340.04 352.77 L340.06 352.48 L340.08 352.26 L340.10 352.14 L340.12 352.16 L340.13 352.30 L340.15 352.54 L340.17 352.83 L340.19 353.12 L340.21 353.34 L340.22 353.45 L340.24 353.44 L340.26 353.30 L340.28 353.06 L340.30 352.77 L340.31 352.49 L340.33 352.26 L340.35 352.15 L340.37 352.16 L340.39 352.30 L340.40 352.54 L340.42 352.83 L340.44 353.11 L340.46 353.33 L340.48 353.45 L340.49 353.43 L340.51 353.29 L340.53 353.06 L340.55 352.77 L340.56 352.49 L340.58 352.27 L340.60 352.16 L340.62 352.17 L340.64 352.31 L340.65 352.54 L340.67 352.83 L340.69 353.11 L340.71 353.33 L340.72 353.44 L340.74 353.43 L340.76 353.29 L340.78 353.05 L340.80 352.77 L340.81 352.49 L340.83 352.28 L340.85 352.16 L340.87 352.18 L340.88 352.31 L340.90 352.55 L340.92 352.83 L340.94 353.10 L340.95 353.32 L340.97 353.43 L340.99 353.42 L341.01 353.28 L341.02 353.05 L341.04 352.77 L341.06 352.50 L341.08 352.28 L341.09 352.17 L341.11 352.19 L341.13 352.32 L341.15 352.55 L341.16 352.83 L341.18 353.10 L341.20 353.31 L341.22 353.42 L341.23 353.41 L341.25 353.28 L341.27 353.05 L341.29 352.77 L341.30 352.50 L341.32 352.29 L341.34 352.18 L341.36 352.19 L341.37 352.33 L341.39 352.55 L341.41 352.83 L341.43 353.10 L341.44 353.31 L341.46 353.42 L341.48 353.40 L341.49 353.27 L341.51 353.05 L341.53 352.77 L341.55 352.50 L341.56 352.29 L341.58 352.19 L341.60 352.20 L341.61 352.33 L341.63 352.56 L341.65 352.83 L341.67 353.09 L341.68 353.30 L341.70 353.41 L341.72 353.40 L341.73 353.27 L341.75 353.04 L341.77 352.77 L341.79 352.51 L341.80 352.30 L341.82 352.19 L341.84 352.21 L341.85 352.34 L341.87 352.56 L341.89 352.83 L341.90 353.09 L341.92 353.30 L341.94 353.40 L341.96 353.39 L341.97 353.26 L341.99 353.04 L342.01 352.77 L342.02 352.51 L342.04 352.31 L342.06 352.20 L342.07 352.21 L342.09 352.34 L342.11 352.56 L342.12 352.83 L342.14 353.09 L342.16 353.29 L342.18 353.40 L342.19 353.39 L342.21 353.26 L342.23 353.04 L342.24 352.77 L342.26 352.51 L342.28 352.31 L342.29 352.21 L342.31 352.22 L342.33 352.35 L342.34 352.56 L342.36 352.83 L342.38 353.09 L342.39 353.29 L342.41 353.39 L342.43 353.38 L342.44 353.25 L342.46 353.04 L342.48 352.77 L342.49 352.52 L342.51 352.32 L342.53 352.21 L342.54 352.22 L342.56 352.35 L342.58 352.57 L342.59 352.83 L342.61 353.08 L342.63 353.28 L342.64 353.39 L342.66 353.37 L342.68 353.25 L342.69 353.03 L342.71 352.77 L342.73 352.52 L342.74 352.32 L342.76 352.22 L342.77 352.23 L342.79 352.35 L342.81 352.57 L342.82 352.83 L342.84 353.08 L342.86 353.28 L342.87 353.38 L342.89 353.37 L342.91 353.24 L342.92 353.03 L342.94 352.77 L342.96 352.52 L342.97 352.33 L342.99 352.22 L343.00 352.24 L343.02 352.36 L343.04 352.57 L343.05 352.83 L343.07 353.08 L343.09 353.27 L343.10 353.37 L343.12 353.36 L343.13 353.24 L343.15 353.03 L343.17 352.77 L343.18 352.53 L343.20 352.33 L343.22 352.23 L343.23 352.24 L343.25 352.36 L343.26 352.57 L343.28 352.83 L343.30 353.07 L343.31 353.27 L343.33 353.37 L343.35 353.36 L343.36 353.23 L343.38 353.03 L343.39 352.77 L343.41 352.53 L343.43 352.34 L343.44 352.24 L343.46 352.25 L343.47 352.37 L343.49 352.57 L343.51 352.83 L343.52 353.07 L343.54 353.26 L343.55 353.36 L343.57 353.35 L343.59 353.23 L343.60 353.02 L343.62 352.77 L343.63 352.53 L343.65 352.34 L343.67 352.24 L343.68 352.25 L343.70 352.37 L343.71 352.58 L343.73 352.83 L343.75 353.07 L343.76 353.26 L343.78 353.36 L343.79 353.34 L343.81 353.23 L343.83 353.02 L343.84 352.78 L343.86 352.53 L343.87 352.34 L343.89 352.25 L343.90 352.26 L343.92 352.38 L343.94 352.58 L343.95 352.82 L343.97 353.07 L343.98 353.25 L344.00 353.35 L344.01 353.34 L344.03 353.22 L344.05 353.02 L344.06 352.78 L344.08 352.54 L344.09 352.35 L344.11 352.25 L344.12 352.26 L344.14 352.38 L344.16 352.58 L344.17 352.82 L344.19 353.06 L344.20 353.25 L344.22 353.35 L344.23 353.33 L344.25 353.22 L344.27 353.02 L344.28 352.78 L344.30 352.54 L344.31 352.35 L344.33 352.26 L344.34 352.27 L344.36 352.38 L344.37 352.58 L344.39 352.82 L344.41 353.06 L344.42 353.24 L344.44 353.34 L344.45 353.33 L344.47 353.21 L344.48 353.02 L344.50 352.78 L344.51 352.54 L344.53 352.36 L344.55 352.26 L344.56 352.27 L344.58 352.39 L344.59 352.59 L344.61 352.82 L344.62 353.06 L344.64 353.24 L344.65 353.33 L344.67 353.32 L344.68 353.21 L344.70 353.01 L344.72 352.78 L344.73 352.54 L344.75 352.36 L344.76 352.27 L344.78 352.28 L344.79 352.39 L344.81 352.59 L344.82 352.82 L344.84 353.06 L344.85 353.24 L344.87 353.33 L344.88 353.32 L344.90 353.21 L344.91 353.01 L344.93 352.78 L344.94 352.55 L344.96 352.37 L344.98 352.27 L344.99 352.28 L345.01 352.40 L345.02 352.59 L345.04 352.82 L345.05 353.05 L345.07 353.23 L345.08 353.32 L345.10 353.31 L345.11 353.20 L345.13 353.01 L345.14 352.78 L345.16 352.55 L345.17 352.37 L345.19 352.28 L345.20 352.29 L345.22 352.40 L345.23 352.59 L345.25 352.82 L345.26 353.05 L345.28 353.23 L345.29 353.32 L345.31 353.31 L345.32 353.20 L345.34 353.01 L345.35 352.78 L345.37 352.55 L345.38 352.37 L345.40 352.28 L345.41 352.29 L345.43 352.40 L345.44 352.59 L345.46 352.82 L345.47 353.05 L345.49 353.22 L345.50 353.32 L345.52 353.30 L345.53 353.19 L345.55 353.01 L345.56 352.78 L345.58 352.55 L345.59 352.38 L345.61 352.29 L345.62 352.30 L345.64 352.41 L345.65 352.59 L345.67 352.82 L345.68 353.05 L345.70 353.22 L345.71 353.31 L345.73 353.30 L345.74 353.19 L345.76 353.00 L345.77 352.78 L345.79 352.56 L345.80 352.38 L345.81 352.29 L345.83 352.30 L345.84 352.41 L345.86 352.60 L345.87 352.82 L345.89 353.04 L345.90 353.22 L345.92 353.31 L345.93 353.30 L345.95 353.19 L345.96 353.00 L345.98 352.78 L345.99 352.56 L346.01 352.39 L346.02 352.30 L346.04 352.31 L346.05 352.41 L346.06 352.60 L346.08 352.82 L346.09 353.04 L346.11 353.21 L346.12 353.30 L346.14 353.29 L346.15 353.18 L346.17 353.00 L346.18 352.78 L346.20 352.56 L346.21 352.39 L346.23 352.30 L346.24 352.31 L346.25 352.42 L346.27 352.60 L346.28 352.82 L346.30 353.04 L346.31 353.21 L346.33 353.30 L346.34 353.29 L346.36 353.18 L346.37 353.00 L346.38 352.78 L346.40 352.56 L346.41 352.39 L346.43 352.31 L346.44 352.32 L346.46 352.42 L346.47 352.60 L346.49 352.82 L346.50 353.04 L346.51 353.20 L346.53 353.29 L346.54 353.28 L346.56 353.18 L346.57 353.00 L346.59 352.78 L346.60 352.56 L346.62 352.40 L346.63 352.31 L346.64 352.32 L346.66 352.42 L346.67 352.60 L346.69 352.82 L346.70 353.03 L346.72 353.20 L346.73 353.29 L346.74 353.28 L346.76 353.17 L346.77 353.00 L346.79 352.78 L346.80 352.57 L346.82 352.40 L346.83 352.31 L346.84 352.32 L346.86 352.43 L346.87 352.61 L346.89 352.82 L346.90 353.03 L346.92 353.20 L346.93 353.28 L346.94 353.27 L346.96 353.17 L346.97 352.99 L346.99 352.78 L347.00 352.57 L347.01 352.40 L347.03 352.32 L347.04 352.33 L347.06 352.43 L347.07 352.61 L347.09 352.82 L347.10 353.03 L347.11 353.19 L347.13 353.28 L347.14 353.27 L347.16 353.17 L347.17 352.99 L347.18 352.78 L347.20 352.57 L347.21 352.41 L347.23 352.32 L347.24 352.33 L347.25 352.43 L347.27 352.61 L347.28 352.82 L347.30 353.03 L347.31 353.19 L347.32 353.28 L347.34 353.27 L347.35 353.16 L347.37 352.99 L347.38 352.78 L347.39 352.57 L347.41 352.41 L347.42 352.33 L347.44 352.34 L347.45 352.44 L347.46 352.61 L347.48 352.82 L347.49 353.03 L347.51 353.19 L347.52 353.27 L347.53 353.26 L347.55 353.16 L347.56 352.99 L347.58 352.78 L347.59 352.57 L347.60 352.41 L347.62 352.33 L347.63 352.34 L347.64 352.44 L347.66 352.61 L347.67 352.82 L347.69 353.02 L347.70 353.18 L347.71 353.27 L347.73 353.26 L347.74 353.16 L347.75 352.99 L347.77 352.78 L347.78 352.58 L347.80 352.42 L347.81 352.33 L347.82 352.34 L347.84 352.44 L347.85 352.61 L347.86 352.82 L347.88 353.02 L347.89 353.18 L347.91 353.26 L347.92 353.25 L347.93 353.16 L347.95 352.99 L347.96 352.78 L347.97 352.58 L347.99 352.42 L348.00 352.34 L348.02 352.35 L348.03 352.45 L348.04 352.61 L348.06 352.82 L348.07 353.02 L348.08 353.18 L348.10 353.26 L348.11 353.25 L348.12 353.15 L348.14 352.98 L348.15 352.78 L348.17 352.58 L348.18 352.42 L348.19 352.34 L348.21 352.35 L348.22 352.45 L348.23 352.62 L348.25 352.82 L348.26 353.02 L348.27 353.18 L348.29 353.26 L348.30 353.25 L348.31 353.15 L348.33 352.98 L348.34 352.78 L348.35 352.58 L348.37 352.43 L348.38 352.35 L348.40 352.35 L348.41 352.45 L348.42 352.62 L348.44 352.82 L348.45 353.02 L348.46 353.17 L348.48 353.25 L348.49 353.24 L348.50 353.15 L348.52 352.98 L348.53 352.78 L348.54 352.58 L348.56 352.43 L348.57 352.35 L348.58 352.36 L348.60 352.45 L348.61 352.62 L348.62 352.82 L348.64 353.02 L348.65 353.17 L348.66 353.25 L348.68 353.24 L348.69 353.14 L348.70 352.98 L348.72 352.78 L348.73 352.58 L348.74 352.43 L348.76 352.35 L348.77 352.36 L348.78 352.46 L348.80 352.62 L348.81 352.82 L348.82 353.01 L348.84 353.17 L348.85 353.25 L348.86 353.24 L348.88 353.14 L348.89 352.98 L348.90 352.78 L348.92 352.59 L348.93 352.44 L348.94 352.36 L348.96 352.36 L348.97 352.46 L348.98 352.62 L348.99 352.82 L349.01 353.01 L349.02 353.16 L349.03 353.24 L349.05 353.23 L349.06 353.14 L349.07 352.98 L349.09 352.78 L349.10 352.59 L349.11 352.44 L349.13 352.36 L349.14 352.37 L349.15 352.46 L349.17 352.62 L349.18 352.82 L349.19 353.01 L349.20 353.16 L349.22 353.24 L349.23 353.23 L349.24 353.14 L349.26 352.98 L349.27 352.78 L349.28 352.59 L349.30 352.44 L349.31 352.36 L349.32 352.37 L349.34 352.46 L349.35 352.62 L349.36 352.82 L349.37 353.01 L349.39 353.16 L349.40 353.24 L349.41 353.23 L349.43 353.13 L349.44 352.97 L349.45 352.78 L349.47 352.59 L349.48 352.44 L349.49 352.37 L349.50 352.37 L349.52 352.47 L349.53 352.63 L349.54 352.82 L349.56 353.01 L349.57 353.16 L349.58 353.23 L349.59 353.22 L349.61 353.13 L349.62 352.97 L349.63 352.78 L349.65 352.59 L349.66 352.45 L349.67 352.37 L349.68 352.38 L349.70 352.47 L349.71 352.63 L349.72 352.82 L349.74 353.01 L349.75 353.15 L349.76 353.23 L349.77 353.22 L349.79 353.13 L349.80 352.97 L349.81 352.78 L349.83 352.59 L349.84 352.45 L349.85 352.37 L349.86 352.38 L349.88 352.47 L349.89 352.63 L349.90 352.82 L349.92 353.00 L349.93 353.15 L349.94 353.23 L349.95 353.22 L349.97 353.13 L349.98 352.97 L349.99 352.78 L350.00 352.60 L350.02 352.45 L350.03 352.38 L350.04 352.38 L350.06 352.47 L350.07 352.63 L350.08 352.82 L350.09 353.00 L350.11 353.15 L350.12 353.22 L350.13 353.21 L350.14 353.12 L350.16 352.97 L350.17 352.78 L350.18 352.60 L350.19 352.45 L350.21 352.38 L350.22 352.39 L350.23 352.48 L350.24 352.63 L350.26 352.82 L350.27 353.00 L350.28 353.14 L350.30 353.22 L350.31 353.21 L350.32 353.12 L350.33 352.97 L350.35 352.78 L350.36 352.60 L350.37 352.46 L350.38 352.38 L350.40 352.39 L350.41 352.48 L350.42 352.63 L350.43 352.82 L350.45 353.00 L350.46 353.14 L350.47 353.22 L350.48 353.21 L350.50 353.12 L350.51 352.97 L350.52 352.78 L350.53 352.60 L350.55 352.46 L350.56 352.39 L350.57 352.39 L350.58 352.48 L350.60 352.63 L350.61 352.82 L350.62 353.00 L350.63 353.14 L350.65 353.21 L350.66 353.21 L350.67 353.12 L350.68 352.97 L350.70 352.78 L350.71 352.60 L350.72 352.46 L350.73 352.39 L350.74 352.40 L350.76 352.48 L350.77 352.63 L350.78 352.82 L350.79 353.00 L350.81 353.14 L350.82 353.21 L350.83 353.20 L350.84 353.11 L350.86 352.96 L350.87 352.78 L350.88 352.60 L350.89 352.46 L350.91 352.39 L350.92 352.40 L350.93 352.49 L350.94 352.64 L350.95 352.82 L350.97 353.00 L350.98 353.13 L350.99 353.21 L351.00 353.20 L351.02 353.11 L351.03 352.96 L351.04 352.78 L351.05 352.61 L351.06 352.47 L351.08 352.39 L351.09 352.40 L351.10 352.49 L351.11 352.64 L351.13 352.82 L351.14 352.99 L351.15 353.13 L351.16 353.20 L351.17 353.20 L351.19 353.11 L351.20 352.96 L351.21 352.78 L351.22 352.61 L351.24 352.47 L351.25 352.40 L351.26 352.40 L351.27 352.49 L351.28 352.64 L351.30 352.82 L351.31 352.99 L351.32 353.13 L351.33 353.20 L351.34 353.19 L351.36 353.11 L351.37 352.96 L351.38 352.78 L351.39 352.61 L351.41 352.47 L351.42 352.40 L351.43 352.41 L351.44 352.49 L351.45 352.64 L351.47 352.82 L351.48 352.99 L351.49 353.13 L351.50 353.20 L351.51 353.19 L351.53 353.11 L351.54 352.96 L351.55 352.78 L351.56 352.61 L351.57 352.47 L351.59 352.40 L351.60 352.41 L351.61 352.50 L351.62 352.64 L351.63 352.82 L351.65 352.99 L351.66 353.13 L351.67 353.20 L351.68 353.19 L351.69 353.10 L351.71 352.96 L351.72 352.78 L351.73 352.61 L351.74 352.48 L351.75 352.41 L351.77 352.41 L351.78 352.50 L351.79 352.64 L351.80 352.82 L351.81 352.99 L351.83 353.12 L351.84 353.19 L351.85 353.19 L351.86 353.10 L351.87 352.96 L351.89 352.78 L351.90 352.61 L351.91 352.48 L351.92 352.41 L351.93 352.42 L351.94 352.50 L351.96 352.64 L351.97 352.82 L351.98 352.99 L351.99 353.12 L352.00 353.19 L352.02 353.18 L352.03 353.10 L352.04 352.96 L352.05 352.78 L352.06 352.61 L352.07 352.48 L352.09 352.41 L352.10 352.42 L352.11 352.50 L352.12 352.64 L352.13 352.82 L352.15 352.99 L352.16 353.12 L352.17 353.19 L352.18 353.18 L352.19 353.10 L352.20 352.96 L352.22 352.78 L352.23 352.61 L352.24 352.48 L352.25 352.41 L352.26 352.42 L352.27 352.50 L352.29 352.64 L352.30 352.82 L352.31 352.98 L352.32 353.12 L352.33 353.19 L352.34 353.18 L352.36 353.10 L352.37 352.95 L352.38 352.78 L352.39 352.62 L352.40 352.48 L352.41 352.42 L352.43 352.42 L352.44 352.51 L352.45 352.65 L352.46 352.82 L352.47 352.98 L352.48 353.11 L352.50 353.18 L352.51 353.18 L352.52 353.09 L352.53 352.95 L352.54 352.78 L352.55 352.62 L352.57 352.49 L352.58 352.42 L352.59 352.43 L352.60 352.51 L352.61 352.65 L352.62 352.82 L352.64 352.98 L352.65 353.11 L352.66 353.18 L352.67 353.17 L352.68 353.09 L352.69 352.95 L352.70 352.78 L352.72 352.62 L352.73 352.49 L352.74 352.42 L352.75 352.43 L352.76 352.51 L352.77 352.65 L352.79 352.82 L352.80 352.98 L352.81 353.11 L352.82 353.18 L352.83 353.17 L352.84 353.09 L352.85 352.95 L352.87 352.78 L352.88 352.62 L352.89 352.49 L352.90 352.42 L352.91 352.43 L352.92 352.51 L352.93 352.65 L352.95 352.82 L352.96 352.98 L352.97 353.11 L352.98 353.18 L352.99 353.17 L353.00 353.09 L353.01 352.95 L353.03 352.78 L353.04 352.62 L353.05 352.49 L353.06 352.43 L353.07 352.43 L353.08 352.51 L353.09 352.65 L353.11 352.82 L353.12 352.98 L353.13 353.11 L353.14 353.17 L353.15 353.17 L353.16 353.09 L353.17 352.95 L353.19 352.78 L353.20 352.62 L353.21 352.49 L353.22 352.43 L353.23 352.44 L353.24 352.51 L353.25 352.65 L353.26 352.82 L353.28 352.98 L353.29 353.10 L353.30 353.17 L353.31 353.16 L353.32 353.08 L353.33 352.95 L353.34 352.78 L353.36 352.62 L353.37 352.50 L353.38 352.43 L353.39 352.44 L353.40 352.52 L353.41 352.65 L353.42 352.82 L353.43 352.98 L353.45 353.10 L353.46 353.17 L353.47 353.16 L353.48 353.08 L353.49 352.95 L353.50 352.78 L353.51 352.62 L353.52 352.50 L353.54 352.43 L353.55 352.44 L353.56 352.52 L353.57 352.65 L353.58 352.82 L353.59 352.98 L353.60 353.10 L353.61 353.17 L353.62 353.16 L353.64 353.08 L353.65 352.95 L353.66 352.78 L353.67 352.63 L353.68 352.50 L353.69 352.44 L353.70 352.44 L353.71 352.52 L353.72 352.65 L353.74 352.82 L353.75 352.97 L353.76 353.10 L353.77 353.16 L353.78 353.16 L353.79 353.08 L353.80 352.95 L353.81 352.78 L353.82 352.63 L353.84 352.50 L353.85 352.44 L353.86 352.44 L353.87 352.52 L353.88 352.65 L353.89 352.82 L353.90 352.97 L353.91 353.10 L353.92 353.16 L353.94 353.15 L353.95 353.08 L353.96 352.95 L353.97 352.78 L353.98 352.63 L353.99 352.50 L354.00 352.44 L354.01 352.45 L354.02 352.52 L354.03 352.66 L354.05 352.82 L354.06 352.97 L354.07 353.09 L354.08 353.16 L354.09 353.15 L354.10 353.08 L354.11 352.94 L354.12 352.78 L354.13 352.63 L354.14 352.51 L354.16 352.44 L354.17 352.45 L354.18 352.53 L354.19 352.66 L354.20 352.81 L354.21 352.97 L354.22 353.09 L354.23 353.16 L354.24 353.15 L354.25 353.07 L354.27 352.94 L354.28 352.79 L354.29 352.63 L354.30 352.51 L354.31 352.44 L354.32 352.45 L354.33 352.53 L354.34 352.66 L354.35 352.81 L354.36 352.97 L354.37 353.09 L354.38 353.15 L354.40 353.15 L354.41 353.07 L354.42 352.94 L354.43 352.79 L354.44 352.63 L354.45 352.51 L354.46 352.45 L354.47 352.45 L354.48 352.53 L354.49 352.66 L354.50 352.81 L354.52 352.97 L354.53 353.09 L354.54 353.15 L354.55 353.15 L354.56 353.07 L354.57 352.94 L354.58 352.79 L354.59 352.63 L354.60 352.51 L354.61 352.45 L354.62 352.46 L354.63 352.53 L354.64 352.66 L354.66 352.81 L354.67 352.97 L354.68 353.09 L354.69 353.15 L354.70 353.14 L354.71 353.07 L354.72 352.94 L354.73 352.79 L354.74 352.63 L354.75 352.51 L354.76 352.45 L354.77 352.46 L354.78 352.53 L354.79 352.66 L354.81 352.81 L354.82 352.97 L354.83 353.09 L354.84 353.15 L354.85 353.14 L354.86 353.07 L354.87 352.94 L354.88 352.79 L354.89 352.63 L354.90 352.52 L354.91 352.45 L354.92 352.46 L354.93 352.53 L354.94 352.66 L354.96 352.81 L354.97 352.97 L354.98 353.08 L354.99 353.15 L355.00 353.14 L355.01 353.07 L355.02 352.94 L355.03 352.79 L355.04 352.63 L355.05 352.52 L355.06 352.46 L355.07 352.46 L355.08 352.54 L355.09 352.66 L355.10 352.81 L355.11 352.96 L355.12 353.08 L355.14 353.14 L355.15 353.14 L355.16 353.06 L355.17 352.94 L355.18 352.79 L355.19 352.64 L355.20 352.52 L355.21 352.46 L355.22 352.46 L355.23 352.54 L355.24 352.66 L355.25 352.81 L355.26 352.96 L355.27 353.08 L355.28 353.14 L355.29 353.14 L355.30 353.06 L355.31 352.94 L355.33 352.79 L355.34 352.64 L355.35 352.52 L355.36 352.46 L355.37 352.47 L355.38 352.54 L355.39 352.66 L355.40 352.81 L355.41 352.96 L355.42 353.08 L355.43 353.14 L355.44 353.13 L355.45 353.06 L355.46 352.94 L355.47 352.79 L355.48 352.64 L355.49 352.52 L355.50 352.46 L355.51 352.47 L355.52 352.54 L355.53 352.66 L355.55 352.81 L355.56 352.96 L355.57 353.08 L355.58 353.14 L355.59 353.13 L355.60 353.06 L355.61 352.94 L355.62 352.79 L355.63 352.64 L355.64 352.52 L355.65 352.46 L355.66 352.47 L355.67 352.54 L355.68 352.66 L355.69 352.81 L355.70 352.96 L355.71 353.08 L355.72 353.14 L355.73 353.13 L355.74 353.06 L355.75 352.94 L355.76 352.79 L355.77 352.64 L355.78 352.53 L355.79 352.47 L355.80 352.47 L355.82 352.54 L355.83 352.67 L355.84 352.81 L355.85 352.96 L355.86 353.07 L355.87 353.13 L355.88 353.13 L355.89 353.06 L355.90 352.93 L355.91 352.79 L355.92 352.64 L355.93 352.53 L355.94 352.47 L355.95 352.47 L355.96 352.54 L355.97 352.67 L355.98 352.81 L355.99 352.96 L356.00 353.07 L356.01 353.13 L356.02 353.13 L356.03 353.05 L356.04 352.93 L356.05 352.79 L356.06 352.64 L356.07 352.53 L356.08 352.47 L356.09 352.48 L356.10 352.55 L356.11 352.67 L356.12 352.81 L356.13 352.96 L356.14 353.07 L356.15 353.13 L356.16 353.12 L356.17 353.05 L356.18 352.93 L356.19 352.79 L356.20 352.64 L356.21 352.53 L356.23 352.47 L356.24 352.48 L356.25 352.55 L356.26 352.67 L356.27 352.81 L356.28 352.96 L356.29 353.07 L356.30 353.13 L356.31 353.12 L356.32 353.05 L356.33 352.93 L356.34 352.79 L356.35 352.64 L356.36 352.53 L356.37 352.47 L356.38 352.48 L356.39 352.55 L356.40 352.67 L356.41 352.81 L356.42 352.96 L356.43 353.07 L356.44 353.13 L356.45 353.12 L356.46 353.05 L356.47 352.93 L356.48 352.79 L356.49 352.64 L356.50 352.53 L356.51 352.47 L356.52 352.48 L356.53 352.55 L356.54 352.67 L356.55 352.81 L356.56 352.96 L356.57 353.07 L356.58 353.12 L356.59 353.12 L356.60 353.05 L356.61 352.93 L356.62 352.79 L356.63 352.65 L356.64 352.53 L356.65 352.48 L356.66 352.48 L356.67 352.55 L356.68 352.67 L356.69 352.81 L356.70 352.95 L356.71 353.06 L356.72 353.12 L356.73 353.12 L356.74 353.05 L356.75 352.93 L356.76 352.79 L356.77 352.65 L356.78 352.54 L356.79 352.48 L356.80 352.48 L356.81 352.55 L356.82 352.67 L356.83 352.81 L356.84 352.95 L356.85 353.06 L356.86 353.12 L356.87 353.11 L356.88 353.05 L356.89 352.93 L356.90 352.79 L356.91 352.65 L356.92 352.54 L356.93 352.48 L356.94 352.49 L356.95 352.55 L356.96 352.67 L356.97 352.81 L356.98 352.95 L356.99 353.06 L357.00 353.12 L357.01 353.11 L357.02 353.05 L357.03 352.93 L357.04 352.79 L357.05 352.65 L357.06 352.54 L357.07 352.48 L357.08 352.49 L357.09 352.56 L357.10 352.67 L357.11 352.81 L357.12 352.95 L357.13 353.06 L357.14 353.12 L357.15 353.11 L357.16 353.04 L357.17 352.93 L357.18 352.79 L357.19 352.65 L357.20 352.54 L357.21 352.48 L357.21 352.49 L357.22 352.56 L357.23 352.67 L357.24 352.81 L357.25 352.95 L357.26 353.06 L357.27 353.12 L357.28 353.11 L357.29 353.04 L357.30 352.93 L357.31 352.79 L357.32 352.65 L357.33 352.54 L357.34 352.49 L357.35 352.49 L357.36 352.56 L357.37 352.67 L357.38 352.81 L357.39 352.95 L357.40 353.06 L357.41 353.11 L357.42 353.11 L357.43 353.04 L357.44 352.93 L357.45 352.79 L357.46 352.65 L357.47 352.54 L357.48 352.49 L357.49 352.49 L357.50 352.56 L357.51 352.67 L357.52 352.81 L357.53 352.95 L357.54 353.06 L357.55 353.11 L357.56 353.11 L357.57 353.04 L357.58 352.93 L357.59 352.79 L357.60 352.65 L357.60 352.54 L357.61 352.49 L357.62 352.49 L357.63 352.56 L357.64 352.67 L357.65 352.81 L357.66 352.95 L357.67 353.05 L357.68 353.11 L357.69 353.10 L357.70 353.04 L357.71 352.93 L357.72 352.79 L357.73 352.65 L357.74 352.55 L357.75 352.49 L357.76 352.50 L357.77 352.56 L357.78 352.67 L357.79 352.81 L357.80 352.95 L357.81 353.05 L357.82 353.11 L357.83 353.10 L357.84 353.04 L357.85 352.92 L357.86 352.79 L357.87 352.65 L357.87 352.55 L357.88 352.49 L357.89 352.50 L357.90 352.56 L357.91 352.68 L357.92 352.81 L357.93 352.95 L357.94 353.05 L357.95 353.11 L357.96 353.10 L357.97 353.04 L357.98 352.92 L357.99 352.79 L358.00 352.65 L358.01 352.55 L358.02 352.49 L358.03 352.50 L358.04 352.56 L358.05 352.68 L358.06 352.81 L358.07 352.95 L358.08 353.05 L358.09 353.11 L358.09 353.10 L358.10 353.04 L358.11 352.92 L358.12 352.79 L358.13 352.65 L358.14 352.55 L358.15 352.50 L358.16 352.50 L358.17 352.57 L358.18 352.68 L358.19 352.81 L358.20 352.95 L358.21 353.05 L358.22 353.10 L358.23 353.10 L358.24 353.03 L358.25 352.92 L358.26 352.79 L358.27 352.65 L358.27 352.55 L358.28 352.50 L358.29 352.50 L358.30 352.57 L358.31 352.68 L358.32 352.81 L358.33 352.94 L358.34 353.05 L358.35 353.10 L358.36 353.10 L358.37 353.03 L358.38 352.92 L358.39 352.79 L358.40 352.66 L358.41 352.55 L358.42 352.50 L358.43 352.50 L358.44 352.57 L358.44 352.68 L358.45 352.81 L358.46 352.94 L358.47 353.05 L358.48 353.10 L358.49 353.10 L358.50 353.03 L358.51 352.92 L358.52 352.79 L358.53 352.66 L358.54 352.55 L358.55 352.50 L358.56 352.51 L358.57 352.57 L358.58 352.68 L358.59 352.81 L358.59 352.94 L358.60 353.05 L358.61 353.10 L358.62 353.09 L358.63 353.03 L358.64 352.92 L358.65 352.79 L358.66 352.66 L358.67 352.55 L358.68 352.50 L358.69 352.51 L358.70 352.57 L358.71 352.68 L358.72 352.81 L358.73 352.94 L358.73 353.04 L358.74 353.10 L358.75 353.09 L358.76 353.03 L358.77 352.92 L358.78 352.79 L358.79 352.66 L358.80 352.56 L358.81 352.50 L358.82 352.51 L358.83 352.57 L358.84 352.68 L358.85 352.81 L358.86 352.94 L358.86 353.04 L358.87 353.10 L358.88 353.09 L358.89 353.03 L358.90 352.92 L358.91 352.79 L358.92 352.66 L358.93 352.56 L358.94 352.50 L358.95 352.51 L358.96 352.57 L358.97 352.68 L358.98 352.81 L358.98 352.94 L358.99 353.04 L359.00 353.09 L359.01 353.09 L359.02 353.03 L359.03 352.92 L359.04 352.79 L359.05 352.66 L359.06 352.56 L359.07 352.51 L359.08 352.51 L359.09 352.57 L359.09 352.68 L359.10 352.81 L359.11 352.94 L359.12 353.04 L359.13 353.09 L359.14 353.09 L359.15 353.03 L359.16 352.92 L359.17 352.79 L359.18 352.66 L359.19 352.56 L359.20 352.51 L359.20 352.51 L359.21 352.57 L359.22 352.68 L359.23 352.81 L359.24 352.94 L359.25 353.04 L359.26 353.09 L359.27 353.09 L359.28 353.02 L359.29 352.92 L359.30 352.79 L359.31 352.66 L359.31 352.56 L359.32 352.51 L359.33 352.51 L359.34 352.58 L359.35 352.68 L359.36 352.81 L359.37 352.94 L359.38 353.04 L359.39 353.09 L359.40 353.09 L359.41 353.02 L359.41 352.92 L359.42 352.79 L359.43 352.66 L359.44 352.56 L359.45 352.51 L359.46 352.52 L359.47 352.58 L359.48 352.68 L359.49 352.81 L359.50 352.94 L359.51 353.04 L359.51 353.09 L359.52 353.08 L359.53 353.02 L359.54 352.92 L359.55 352.79 L359.56 352.66 L359.57 352.56 L359.58 352.51 L359.59 352.52 L359.60 352.58 L359.60 352.68 L359.61 352.81 L359.62 352.94 L359.63 353.04 L359.64 353.09 L359.65 353.08 L359.66 353.02 L359.67 352.92 L359.68 352.79 L359.69 352.66 L359.69 352.56 L359.70 352.51 L359.71 352.52 L359.72 352.58 L359.73 352.68 L359.74 352.81 L359.75 352.94 L359.76 353.03 L359.77 353.09 L359.78 353.08 L359.78 353.02 L359.79 352.92 L359.80 352.79 L359.81 352.66 L359.82 352.57 L359.83 352.51 L359.84 352.52 L359.85 352.58 L359.86 352.68 L359.86 352.81 L359.87 352.94 L359.88 353.03 L359.89 353.08 L359.90 353.08 L359.91 353.02 L359.92 352.92 L359.93 352.79 L359.94 352.66 L359.95 352.57 L359.95 352.52 L359.96 352.52 L359.97 352.58 L359.98 352.69 L359.99 352.81 L360.00 352.94 L360.01 353.03 L360.02 353.08 L360.03 353.08 L360.03 353.02 L360.04 352.91 L360.05 352.79 L360.06 352.66 L360.07 352.57 L360.08 352.52 L360.09 352.52 L360.10 352.58 L360.10 352.69 L360.11 352.81 L360.12 352.93 L360.13 353.03 L360.14 353.08 L360.15 353.08 L360.16 353.02 L360.17 352.91 L360.18 352.79 L360.18 352.67 L360.19 352.57 L360.20 352.52 L360.21 352.52 L360.22 352.58 L360.23 352.69 L360.24 352.81 L360.25 352.93 L360.26 353.03 L360.26 353.08 L360.27 353.08 L360.28 353.02 L360.29 352.91 L360.30 352.79 L360.31 352.67 L360.32 352.57 L360.33 352.52 L360.33 352.52 L360.34 352.58 L360.35 352.69 L360.36 352.81 L360.37 352.93 L360.38 353.03 L360.39 353.08 L360.40 353.07 L360.40 353.01 L360.41 352.91 L360.42 352.79 L360.43 352.67 L360.44 352.57 L360.45 352.52 L360.46 352.53 L360.47 352.59 L360.47 352.69 L360.48 352.81 L360.49 352.93 L360.50 353.03 L360.51 353.08 L360.52 353.07 L360.53 353.01 L360.54 352.91 L360.54 352.79 L360.55 352.67 L360.56 352.57 L360.57 352.52 L360.58 352.53 L360.59 352.59 L360.60 352.69 L360.61 352.81 L360.61 352.93 L360.62 353.03 L360.63 353.08 L360.64 353.07 L360.65 353.01 L360.66 352.91 L360.67 352.79 L360.67 352.67 L360.68 352.57 L360.69 352.52 L360.70 352.53 L360.71 352.59 L360.72 352.69 L360.73 352.81 L360.74 352.93 L360.74 353.03 L360.75 353.08 L360.76 353.07 L360.77 353.01 L360.78 352.91 L360.79 352.79 L360.80 352.67 L360.80 352.57 L360.81 352.53 L360.82 352.53 L360.83 352.59 L360.84 352.69 L360.85 352.81 L360.86 352.93 L360.87 353.03 L360.87 353.07 L360.88 353.07 L360.89 353.01 L360.90 352.91 L360.91 352.79 L360.92 352.67 L360.93 352.58 L360.93 352.53 L360.94 352.53 L360.95 352.59 L360.96 352.69 L360.97 352.81 L360.98 352.93 L360.99 353.02 L360.99 353.07 L361.00 353.07 L361.01 353.01 L361.02 352.91 L361.03 352.79 L361.04 352.67 L361.05 352.58 L361.05 352.53 L361.06 352.53 L361.07 352.59 L361.08 352.69 L361.09 352.81 L361.10 352.93 L361.11 353.02 L361.11 353.07 L361.12 353.07 L361.13 353.01 L361.14 352.91 L361.15 352.79 L361.16 352.67 L361.17 352.58 L361.17 352.53 L361.18 352.53 L361.19 352.59 L361.20 352.69 L361.21 352.81 L361.22 352.93 L361.22 353.02 L361.23 353.07 L361.24 353.07 L361.25 353.01 L361.26 352.91 L361.27 352.79 L361.28 352.67 L361.28 352.58 L361.29 352.53 L361.30 352.53 L361.31 352.59 L361.32 352.69 L361.33 352.81 L361.34 352.93 L361.34 353.02 L361.35 353.07 L361.36 353.06 L361.37 353.01 L361.38 352.91 L361.39 352.79 L361.39 352.67 L361.40 352.58 L361.41 352.53 L361.42 352.54 L361.43 352.59 L361.44 352.69 L361.45 352.81 L361.45 352.93 L361.46 353.02 L361.47 353.07 L361.48 353.06 L361.49 353.01 L361.50 352.91 L361.50 352.79 L361.51 352.67 L361.52 352.58 L361.53 352.53 L361.54 352.54 L361.55 352.59 L361.55 352.69 L361.56 352.81 L361.57 352.93 L361.58 353.02 L361.59 353.07 L361.60 353.06 L361.61 353.01 L361.61 352.91 L361.62 352.79 L361.63 352.67 L361.64 352.58 L361.65 352.53 L361.66 352.54 L361.66 352.60 L361.67 352.69 L361.68 352.81 L361.69 352.93 L361.70 353.02 L361.71 353.07 L361.71 353.06 L361.72 353.00 L361.73 352.91 L361.74 352.79 L361.75 352.67 L361.76 352.58 L361.76 352.53 L361.77 352.54 L361.78 352.60 L361.79 352.69 L361.80 352.81 L361.81 352.93 L361.81 353.02 L361.82 353.06 L361.83 353.06 L361.84 353.00 L361.85 352.91 L361.86 352.79 L361.86 352.67 L361.87 352.58 L361.88 352.54 L361.89 352.54 L361.90 352.60 L361.91 352.69 L361.91 352.81 L361.92 352.93 L361.93 353.02 L361.94 353.06 L361.95 353.06 L361.96 353.00 L361.96 352.91 L361.97 352.79 L361.98 352.67 L361.99 352.58 L362.00 352.54 L362.01 352.54 L362.01 352.60 L362.02 352.69 L362.03 352.81 L362.04 352.93 L362.05 353.02 L362.05 353.06 L362.06 353.06 L362.07 353.00 L362.08 352.91 L362.09 352.79 L362.10 352.68 L362.10 352.59 L362.11 352.54 L362.12 352.54 L362.13 352.60 L362.14 352.69 L362.15 352.81 L362.15 352.92 L362.16 353.01 L362.17 353.06 L362.18 353.06 L362.19 353.00 L362.19 352.91 L362.20 352.79 L362.21 352.68 L362.22 352.59 L362.23 352.54 L362.24 352.54 L362.24 352.60 L362.25 352.69 L362.26 352.81 L362.27 352.92 L362.28 353.01 L362.29 353.06 L362.29 353.06 L362.30 353.00 L362.31 352.91 L362.32 352.79 L362.33 352.68 L362.33 352.59 L362.34 352.54 L362.35 352.55 L362.36 352.60 L362.37 352.70 L362.38 352.81 L362.38 352.92 L362.39 353.01 L362.40 353.06 L362.41 353.05 L362.42 353.00 L362.42 352.90 L362.43 352.79 L362.44 352.68 L362.45 352.59 L362.46 352.54 L362.46 352.55 L362.47 352.60 L362.48 352.70 L362.49 352.81 L362.50 352.92 L362.51 353.01 L362.51 353.06 L362.52 353.05 L362.53 353.00 L362.54 352.90 L362.55 352.79 L362.55 352.68 L362.56 352.59 L362.57 352.54 L362.58 352.55 L362.59 352.60 L362.59 352.70 L362.60 352.81 L362.61 352.92 L362.62 353.01 L362.63 353.06 L362.64 353.05 L362.64 353.00 L362.65 352.90 L362.66 352.79 L362.67 352.68 L362.68 352.59 L362.68 352.54 L362.69 352.55 L362.70 352.60 L362.71 352.70 L362.72 352.81 L362.72 352.92 L362.73 353.01 L362.74 353.06 L362.75 353.05 L362.76 353.00 L362.76 352.90 L362.77 352.79 L362.78 352.68 L362.79 352.59 L362.80 352.55 L362.80 352.55 L362.81 352.60 L362.82 352.70 L362.83 352.81 L362.84 352.92 L362.84 353.01 L362.85 353.05 L362.86 353.05 L362.87 353.00 L362.88 352.90 L362.88 352.79 L362.89 352.68 L362.90 352.59 L362.91 352.55 L362.92 352.55 L362.92 352.60 L362.93 352.70 L362.94 352.81 L362.95 352.92 L362.96 353.01 L362.96 353.05 L362.97 353.05 L362.98 352.99 L362.99 352.90 L363.00 352.79 L363.00 352.68 L363.01 352.59 L363.02 352.55 L363.03 352.55 L363.04 352.61 L363.04 352.70 L363.05 352.81 L363.06 352.92 L363.07 353.01 L363.08 353.05 L363.08 353.05 L363.09 352.99 L363.10 352.90 L363.11 352.79 L363.12 352.68 L363.12 352.59 L363.13 352.55 L363.14 352.55 L363.15 352.61 L363.16 352.70 L363.16 352.81 L363.17 352.92 L363.18 353.01 L363.19 353.05 L363.20 353.05 L363.20 352.99 L363.21 352.90 L363.22 352.79 L363.23 352.68 L363.24 352.59 L363.24 352.55 L363.25 352.55 L363.26 352.61 L363.27 352.70 L363.27 352.81 L363.28 352.92 L363.29 353.01 L363.30 353.05 L363.31 353.05 L363.31 352.99 L363.32 352.90 L363.33 352.79 L363.34 352.68 L363.35 352.60 L363.35 352.55 L363.36 352.55 L363.37 352.61 L363.38 352.70 L363.39 352.81 L363.39 352.92 L363.40 353.00 L363.41 353.05 L363.42 353.04 L363.42 352.99 L363.43 352.90 L363.44 352.79 L363.45 352.68 L363.46 352.60 L363.46 352.55 L363.47 352.56 L363.48 352.61 L363.49 352.70 L363.50 352.81 L363.50 352.92 L363.51 353.00 L363.52 353.05 L363.53 353.04 L363.53 352.99 L363.54 352.90 L363.55 352.79 L363.56 352.68 L363.57 352.60 L363.57 352.55 L363.58 352.56 L363.59 352.61 L363.60 352.70 L363.61 352.81 L363.61 352.92 L363.62 353.00 L363.63 353.05 L363.64 353.04 L363.64 352.99 L363.65 352.90 L363.66 352.79 L363.67 352.68 L363.68 352.60 L363.68 352.55 L363.69 352.56 L363.70 352.61 L363.71 352.70 L363.71 352.81 L363.72 352.92 L363.73 353.00 L363.74 353.05 L363.75 353.04 L363.75 352.99 L363.76 352.90 L363.77 352.79 L363.78 352.68 L363.78 352.60 L363.79 352.55 L363.80 352.56 L363.81 352.61 L363.82 352.70 L363.82 352.81 L363.83 352.92 L363.84 353.00 L363.85 353.04 L363.85 353.04 L363.86 352.99 L363.87 352.90 L363.88 352.79 L363.89 352.68 L363.89 352.60 L363.90 352.56 L363.91 352.56 L363.92 352.61 L363.92 352.70 L363.93 352.81 L363.94 352.92 L363.95 353.00 L363.95 353.04 L363.96 353.04 L363.97 352.99 L363.98 352.90 L363.99 352.79 L363.99 352.68 L364.00 352.60 L364.01 352.56 L364.02 352.56 L364.02 352.61 L364.03 352.70 L364.04 352.81 L364.05 352.92 L364.05 353.00 L364.06 353.04 L364.07 353.04 L364.08 352.99 L364.09 352.90 L364.09 352.79 L364.10 352.68 L364.11 352.60 L364.12 352.56 L364.12 352.56 L364.13 352.61 L364.14 352.70 L364.15 352.81 L364.15 352.92 L364.16 353.00 L364.17 353.04 L364.18 353.04 L364.19 352.99 L364.19 352.90 L364.20 352.79 L364.21 352.68 L364.22 352.60 L364.22 352.56 L364.23 352.56 L364.24 352.61 L364.25 352.70 L364.25 352.81 L364.26 352.91 L364.27 353.00 L364.28 353.04 L364.28 353.04 L364.29 352.99 L364.30 352.90 L364.31 352.79 L364.31 352.69 L364.32 352.60 L364.33 352.56 L364.34 352.56 L364.35 352.61 L364.35 352.70 L364.36 352.81 L364.37 352.91 L364.38 353.00 L364.38 353.04 L364.39 353.04 L364.40 352.98 L364.41 352.90 L364.41 352.79 L364.42 352.69 L364.43 352.60 L364.44 352.56 L364.44 352.56 L364.45 352.62 L364.46 352.70 L364.47 352.81 L364.47 352.91 L364.48 353.00 L364.49 353.04 L364.50 353.03 L364.50 352.98 L364.51 352.90 L364.52 352.79 L364.53 352.69 L364.53 352.60 L364.54 352.56 L364.55 352.57 L364.56 352.62 L364.57 352.70 L364.57 352.81 L364.58 352.91 L364.59 353.00 L364.60 353.04 L364.60 353.03 L364.61 352.98 L364.62 352.90 L364.63 352.79 L364.63 352.69 L364.64 352.61 L364.65 352.56 L364.66 352.57 L364.66 352.62 L364.67 352.70 L364.68 352.81 L364.69 352.91 L364.69 352.99 L364.70 353.04 L364.71 353.03 L364.72 352.98 L364.72 352.90 L364.73 352.79 L364.74 352.69 L364.75 352.61 L364.75 352.56 L364.76 352.57 L364.77 352.62 L364.78 352.70 L364.78 352.81 L364.79 352.91 L364.80 352.99 L364.81 353.04 L364.81 353.03 L364.82 352.98 L364.83 352.90 L364.84 352.79 L364.84 352.69 L364.85 352.61 L364.86 352.56 L364.87 352.57 L364.87 352.62 L364.88 352.70 L364.89 352.81 L364.90 352.91 L364.90 352.99 L364.91 353.04 L364.92 353.03 L364.93 352.98 L364.93 352.90 L364.94 352.79 L364.95 352.69 L364.96 352.61 L364.96 352.57 L364.97 352.57 L364.98 352.62 L364.98 352.70 L364.99 352.81 L365.00 352.91 L365.01 352.99 L365.01 353.03 L365.02 353.03 L365.03 352.98 L365.04 352.89 L365.04 352.79 L365.05 352.69 L365.06 352.61 L365.07 352.57 L365.07 352.57 L365.08 352.62 L365.09 352.71 L365.10 352.81 L365.10 352.91 L365.11 352.99 L365.12 353.03 L365.13 353.03 L365.13 352.98 L365.14 352.89 L365.15 352.79 L365.16 352.69 L365.16 352.61 L365.17 352.57 L365.18 352.57 L365.18 352.62 L365.19 352.71 L365.20 352.81 L365.21 352.91 L365.21 352.99 L365.22 353.03 L365.23 353.03 L365.24 352.98 L365.24 352.89 L365.25 352.79 L365.26 352.69 L365.27 352.61 L365.27 352.57 L365.28 352.57 L365.29 352.62 L365.30 352.71 L365.30 352.81 L365.31 352.91 L365.32 352.99 L365.32 353.03 L365.33 353.03 L365.34 352.98 L365.35 352.89 L365.35 352.79 L365.36 352.69 L365.37 352.61 L365.38 352.57 L365.38 352.57 L365.39 352.62 L365.40 352.71 L365.41 352.81 L365.41 352.91 L365.42 352.99 L365.43 353.03 L365.43 353.03 L365.44 352.98 L365.45 352.89 L365.46 352.79 L365.46 352.69 L365.47 352.61 L365.48 352.57 L365.49 352.57 L365.49 352.62 L365.50 352.71 L365.51 352.81 L365.52 352.91 L365.52 352.99 L365.53 353.03 L365.54 353.03 L365.54 352.98 L365.55 352.89 L365.56 352.79 L365.57 352.69 L365.57 352.61 L365.58 352.57 L365.59 352.57 L365.60 352.62 L365.60 352.71 L365.61 352.81 L365.62 352.91 L365.62 352.99 L365.63 353.03 L365.64 353.02 L365.65 352.98 L365.65 352.89 L365.66 352.79 L365.67 352.69 L365.68 352.61 L365.68 352.57 L365.69 352.58 L365.70 352.62 L365.70 352.71 L365.71 352.81 L365.72 352.91 L365.73 352.99 L365.73 353.03 L365.74 353.02 L365.75 352.98 L365.76 352.89 L365.76 352.79 L365.77 352.69 L365.78 352.61 L365.78 352.57 L365.79 352.58 L365.80 352.62 L365.81 352.71 L365.81 352.81 L365.82 352.91 L365.83 352.99 L365.83 353.03 L365.84 353.02 L365.85 352.97 L365.86 352.89 L365.86 352.79 L365.87 352.69 L365.88 352.61 L365.89 352.57 L365.89 352.58 L365.90 352.63 L365.91 352.71 L365.91 352.81 L365.92 352.91 L365.93 352.99 L365.94 353.03 L365.94 353.02 L365.95 352.97 L365.96 352.89 L365.96 352.79 L365.97 352.69 L365.98 352.61 L365.99 352.57 L365.99 352.58 L366.00 352.63 L366.01 352.71 L366.01 352.81 L366.02 352.91 L366.03 352.98 L366.04 353.03 L366.04 353.02 L366.05 352.97 L366.06 352.89 L366.06 352.79 L366.07 352.69 L366.08 352.62 L366.09 352.57 L366.09 352.58 L366.10 352.63 L366.11 352.71 L366.11 352.81 L366.12 352.91 L366.13 352.98 L366.14 353.02 L366.14 353.02 L366.15 352.97 L366.16 352.89 L366.16 352.79 L366.17 352.69 L366.18 352.62 L366.19 352.58 L366.19 352.58 L366.20 352.63 L366.21 352.71 L366.21 352.81 L366.22 352.91 L366.23 352.98 L366.24 353.02 L366.24 353.02 L366.25 352.97 L366.26 352.89 L366.26 352.79 L366.27 352.69 L366.28 352.62 L366.29 352.58 L366.29 352.58 L366.30 352.63 L366.31 352.71 L366.31 352.81 L366.32 352.91 L366.33 352.98 L366.34 353.02 L366.34 353.02 L366.35 352.97 L366.36 352.89 L366.36 352.79 L366.37 352.69 L366.38 352.62 L366.38 352.58 L366.39 352.58 L366.40 352.63 L366.41 352.71 L366.41 352.81 L366.42 352.91 L366.43 352.98 L366.43 353.02 L366.44 353.02 L366.45 352.97 L366.46 352.89 L366.46 352.79 L366.47 352.69 L366.48 352.62 L366.48 352.58 L366.49 352.58 L366.50 352.63 L366.50 352.71 L366.51 352.81 L366.52 352.91 L366.53 352.98 L366.53 353.02 L366.54 353.02 L366.55 352.97 L366.55 352.89 L366.56 352.79 L366.57 352.69 L366.58 352.62 L366.58 352.58 L366.59 352.58 L366.60 352.63 L366.60 352.71 L366.61 352.81 L366.62 352.91 L366.62 352.98 L366.63 353.02 L366.64 353.02 L366.65 352.97 L366.65 352.89 L366.66 352.79 L366.67 352.69 L366.67 352.62 L366.68 352.58 L366.69 352.58 L366.69 352.63 L366.70 352.71 L366.71 352.81 L366.72 352.90 L366.72 352.98 L366.73 353.02 L366.74 353.02 L366.74 352.97 L366.75 352.89 L366.76 352.79 L366.76 352.70 L366.77 352.62 L366.78 352.58 L366.79 352.58 L366.79 352.63 L366.80 352.71 L366.81 352.81 L366.81 352.90 L366.82 352.98 L366.83 353.02 L366.83 353.02 L366.84 352.97 L366.85 352.89 L366.85 352.79 L366.86 352.70 L366.87 352.62 L366.88 352.58 L366.88 352.59 L366.89 352.63 L366.90 352.71 L366.90 352.81 L366.91 352.90 L366.92 352.98 L366.92 353.02 L366.93 353.01 L366.94 352.97 L366.94 352.89 L366.95 352.79 L366.96 352.70 L366.97 352.62 L366.97 352.58 L366.98 352.59 L366.99 352.63 L366.99 352.71 L367.00 352.81 L367.01 352.90 L367.01 352.98 L367.02 353.02 L367.03 353.01 L367.03 352.97 L367.04 352.89 L367.05 352.79 L367.06 352.70 L367.06 352.62 L367.07 352.58 L367.08 352.59 L367.08 352.63 L367.09 352.71 L367.10 352.81 L367.10 352.90 L367.11 352.98 L367.12 353.02 L367.12 353.01 L367.13 352.97 L367.14 352.89 L367.15 352.79 L367.15 352.70 L367.16 352.62 L367.17 352.58 L367.17 352.59 L367.18 352.63 L367.19 352.71 L367.19 352.81 L367.20 352.90 L367.21 352.98 L367.21 353.02 L367.22 353.01 L367.23 352.97 L367.23 352.89 L367.24 352.79 L367.25 352.70 L367.26 352.62 L367.26 352.58 L367.27 352.59 L367.28 352.63 L367.28 352.71 L367.29 352.81 L367.30 352.90 L367.30 352.98 L367.31 353.02 L367.32 353.01 L367.32 352.97 L367.33 352.89 L367.34 352.79 L367.34 352.70 L367.35 352.62 L367.36 352.59 L367.36 352.59 L367.37 352.63 L367.38 352.71 L367.39 352.81 L367.39 352.90 L367.40 352.98 L367.41 353.01 L367.41 353.01 L367.42 352.97 L367.43 352.89 L367.43 352.79 L367.44 352.70 L367.45 352.62 L367.45 352.59 L367.46 352.59 L367.47 352.64 L367.47 352.71 L367.48 352.81 L367.49 352.90 L367.49 352.98 L367.50 353.01 L367.51 353.01 L367.51 352.96 L367.52 352.89 L367.53 352.79 L367.53 352.70 L367.54 352.63 L367.55 352.59 L367.56 352.59 L367.56 352.64 L367.57 352.71 L367.58 352.81 L367.58 352.90 L367.59 352.97 L367.60 353.01 L367.60 353.01 L367.61 352.96 L367.62 352.89 L367.62 352.79 L367.63 352.70 L367.64 352.63 L367.64 352.59 L367.65 352.59 L367.66 352.64 L367.66 352.71 L367.67 352.81 L367.68 352.90 L367.68 352.97 L367.69 353.01 L367.70 353.01 L367.70 352.96 L367.71 352.89 L367.72 352.79 L367.72 352.70 L367.73 352.63 L367.74 352.59 L367.74 352.59 L367.75 352.64 L367.76 352.71 L367.76 352.81 L367.77 352.90 L367.78 352.97 L367.79 353.01 L367.79 353.01 L367.80 352.96 L367.81 352.89 L367.81 352.79 L367.82 352.70 L367.83 352.63 L367.83 352.59 L367.84 352.59 L367.85 352.64 L367.85 352.71 L367.86 352.81 L367.87 352.90 L367.87 352.97 L367.88 353.01 L367.89 353.01 L367.89 352.96 L367.90 352.89 L367.91 352.79 L367.91 352.70 L367.92 352.63 L367.93 352.59 L367.93 352.59 L367.94 352.64 L367.95 352.71 L367.95 352.81 L367.96 352.90 L367.97 352.97 L367.97 353.01 L367.98 353.01 L367.99 352.96 L367.99 352.89 L368.00 352.79 L368.01 352.70 L368.01 352.63 L368.02 352.59 L368.03 352.59 L368.03 352.64 L368.04 352.72 L368.05 352.81 L368.05 352.90 L368.06 352.97 L368.07 353.01 L368.07 353.01 L368.08 352.96 L368.09 352.88 L368.09 352.79 L368.10 352.70 L368.11 352.63 L368.11 352.59 L368.12 352.59 L368.13 352.64 L368.13 352.72 L368.14 352.81 L368.15 352.90 L368.15 352.97 L368.16 353.01 L368.17 353.00 L368.17 352.96 L368.18 352.88 L368.19 352.79 L368.19 352.70 L368.20 352.63 L368.21 352.59 L368.21 352.60 L368.22 352.64 L368.23 352.72 L368.23 352.81 L368.24 352.90 L368.25 352.97 L368.25 353.01 L368.26 353.00 L368.27 352.96 L368.27 352.88 L368.28 352.79 L368.29 352.70 L368.29 352.63 L368.30 352.59 L368.30 352.60 L368.31 352.64 L368.32 352.72 L368.32 352.81 L368.33 352.90 L368.34 352.97 L368.34 353.01 L368.35 353.00 L368.36 352.96 L368.36 352.88 L368.37 352.79 L368.38 352.70 L368.38 352.63 L368.39 352.59 L368.40 352.60 L368.40 352.64 L368.41 352.72 L368.42 352.81 L368.42 352.90 L368.43 352.97 L368.44 353.01 L368.44 353.00 L368.45 352.96 L368.46 352.88 L368.46 352.79 L368.47 352.70 L368.48 352.63 L368.48 352.59 L368.49 352.60 L368.50 352.64 L368.50 352.72 L368.51 352.81 L368.52 352.90 L368.52 352.97 L368.53 353.01 L368.54 353.00 L368.54 352.96 L368.55 352.88 L368.55 352.79 L368.56 352.70 L368.57 352.63 L368.57 352.59 L368.58 352.60 L368.59 352.64 L368.59 352.72 L368.60 352.81 L368.61 352.90 L368.61 352.97 L368.62 353.00 L368.63 353.00 L368.63 352.96 L368.64 352.88 L368.65 352.79 L368.65 352.70 L368.66 352.63 L368.67 352.60 L368.67 352.60 L368.68 352.64 L368.69 352.72 L368.69 352.81 L368.70 352.90 L368.70 352.97 L368.71 353.00 L368.72 353.00 L368.72 352.96 L368.73 352.88 L368.74 352.79 L368.74 352.70 L368.75 352.63 L368.76 352.60 L368.76 352.60 L368.77 352.64 L368.78 352.72 L368.78 352.81 L368.79 352.90 L368.80 352.97 L368.80 353.00 L368.81 353.00 L368.82 352.96 L368.82 352.88 L368.83 352.79 L368.83 352.70 L368.84 352.63 L368.85 352.60 L368.85 352.60 L368.86 352.64 L368.87 352.72 L368.87 352.81 L368.88 352.90 L368.89 352.97 L368.89 353.00 L368.90 353.00 L368.91 352.96 L368.91 352.88 L368.92 352.79 L368.93 352.70 L368.93 352.63 L368.94 352.60 L368.94 352.60 L368.95 352.64 L368.96 352.72 L368.96 352.81 L368.97 352.90 L368.98 352.97 L368.98 353.00 L368.99 353.00 L369.00 352.96 L369.00 352.88 L369.01 352.79 L369.02 352.70 L369.02 352.63 L369.03 352.60 L369.04 352.60 L369.04 352.64 L369.05 352.72 L369.05 352.81 L369.06 352.90 L369.07 352.97 L369.07 353.00 L369.08 353.00 L369.09 352.96 L369.09 352.88 L369.10 352.79 L369.11 352.70 L369.11 352.64 L369.12 352.60 L369.12 352.60 L369.13 352.65 L369.14 352.72 L369.14 352.81 L369.15 352.90 L369.16 352.96 L369.16 353.00 L369.17 353.00 L369.18 352.95 L369.18 352.88 L369.19 352.79 L369.20 352.70 L369.20 352.64 L369.21 352.60 L369.21 352.60 L369.22 352.65 L369.23 352.72 L369.23 352.81 L369.24 352.90 L369.25 352.96 L369.25 353.00 L369.26 353.00 L369.27 352.95 L369.27 352.88 L369.28 352.79 L369.28 352.70 L369.29 352.64 L369.30 352.60 L369.30 352.60 L369.31 352.65 L369.32 352.72 L369.32 352.81 L369.33 352.90 L369.34 352.96 L369.34 353.00 L369.35 353.00 L369.35 352.95 L369.36 352.88 L369.37 352.79 L369.37 352.71 L369.38 352.64 L369.39 352.60 L369.39 352.60 L369.40 352.65 L369.41 352.72 L369.41 352.81 L369.42 352.89 L369.42 352.96 L369.43 353.00 L369.44 353.00 L369.44 352.95 L369.45 352.88 L369.46 352.79 L369.46 352.71 L369.47 352.64 L369.48 352.60 L369.48 352.60 L369.49 352.65 L369.49 352.72 L369.50 352.81 L369.51 352.89 L369.51 352.96 L369.52 353.00 L369.53 352.99 L369.53 352.95 L369.54 352.88 L369.55 352.79 L369.55 352.71 L369.56 352.64 L369.56 352.60 L369.57 352.61 L369.58 352.65 L369.58 352.72 L369.59 352.81 L369.60 352.89 L369.60 352.96 L369.61 353.00 L369.61 352.99 L369.62 352.95 L369.63 352.88 L369.63 352.79 L369.64 352.71 L369.65 352.64 L369.65 352.60 L369.66 352.61 L369.66 352.65 L369.67 352.72 L369.68 352.81 L369.68 352.89 L369.69 352.96 L369.70 353.00 L369.70 352.99 L369.71 352.95 L369.72 352.88 L369.72 352.79 L369.73 352.71 L369.73 352.64 L369.74 352.60 L369.75 352.61 L369.75 352.65 L369.76 352.72 L369.77 352.81 L369.77 352.89 L369.78 352.96 L369.78 353.00 L369.79 352.99 L369.80 352.95 L369.80 352.88 L369.81 352.79 L369.82 352.71 L369.82 352.64 L369.83 352.60 L369.83 352.61 L369.84 352.65 L369.85 352.72 L369.85 352.81 L369.86 352.89 L369.87 352.96 L369.87 353.00 L369.88 352.99 L369.88 352.95 L369.89 352.88 L369.90 352.79 L369.90 352.71 L369.91 352.64 L369.92 352.60 L369.92 352.61 L369.93 352.65 L369.93 352.72 L369.94 352.81 L369.95 352.89 L369.95 352.96 L369.96 353.00 L369.97 352.99 L369.97 352.95 L369.98 352.88 L369.98 352.79 L369.99 352.71 L370.00 352.64 L370.00 352.61 L370.01 352.61 L370.01 352.65 L370.02 352.72 L370.03 352.81 L370.03 352.89 L370.04 352.96 L370.05 352.99 L370.05 352.99 L370.06 352.95 L370.06 352.88 L370.07 352.79 L370.08 352.71 L370.08 352.64 L370.09 352.61 L370.10 352.61 L370.10 352.65 L370.11 352.72 L370.11 352.81 L370.12 352.89 L370.13 352.96 L370.13 352.99 L370.14 352.99 L370.15 352.95 L370.15 352.88 L370.16 352.79 L370.16 352.71 L370.17 352.64 L370.18 352.61 L370.18 352.61 L370.19 352.65 L370.19 352.72 L370.20 352.81 L370.21 352.89 L370.21 352.96 L370.22 352.99 L370.23 352.99 L370.23 352.95 L370.24 352.88 L370.24 352.79 L370.25 352.71 L370.26 352.64 L370.26 352.61 L370.27 352.61 L370.27 352.65 L370.28 352.72 L370.29 352.81 L370.29 352.89 L370.30 352.96 L370.31 352.99 L370.31 352.99 L370.32 352.95 L370.32 352.88 L370.33 352.79 L370.34 352.71 L370.34 352.64 L370.35 352.61 L370.35 352.61 L370.36 352.65 L370.37 352.72 L370.37 352.81 L370.38 352.89 L370.39 352.96 L370.39 352.99 L370.40 352.99 L370.40 352.95 L370.41 352.88 L370.42 352.79 L370.42 352.71 L370.43 352.64 L370.43 352.61 L370.44 352.61 L370.45 352.65 L370.45 352.72 L370.46 352.81 L370.46 352.89 L370.47 352.96 L370.48 352.99 L370.48 352.99 L370.49 352.95 L370.50 352.88 L370.50 352.79 L370.51 352.71 L370.51 352.64 L370.52 352.61 L370.53 352.61 L370.53 352.65 L370.54 352.72 L370.54 352.81 L370.55 352.89 L370.56 352.96 L370.56 352.99 L370.57 352.99 L370.57 352.95 L370.58 352.88 L370.59 352.79 L370.59 352.71 L370.60 352.64 L370.60 352.61 L370.61 352.61 L370.62 352.65 L370.62 352.72 L370.63 352.81 L370.64 352.89 L370.64 352.96 L370.65 352.99 L370.65 352.99 L370.66 352.95 L370.67 352.88 L370.67 352.79 L370.68 352.71 L370.68 352.64 L370.69 352.61 L370.70 352.61 L370.70 352.65 L370.71 352.72 L370.71 352.81 L370.72 352.89 L370.73 352.96 L370.73 352.99 L370.74 352.99 L370.74 352.95 L370.75 352.88 L370.76 352.79 L370.76 352.71 L370.77 352.64 L370.77 352.61 L370.78 352.61 L370.79 352.65 L370.79 352.72 L370.80 352.81 L370.80 352.89 L370.81 352.95 L370.82 352.99 L370.82 352.99 L370.83 352.95 L370.84 352.88 L370.84 352.79 L370.85 352.71 L370.85 352.65 L370.86 352.61 L370.87 352.61 L370.87 352.65 L370.88 352.72 L370.88 352.81 L370.89 352.89 L370.90 352.95 L370.90 352.99 L370.91 352.99 L370.91 352.95 L370.92 352.88 L370.93 352.79 L370.93 352.71 L370.94 352.65 L370.94 352.61 L370.95 352.62 L370.96 352.66 L370.96 352.72 L370.97 352.81 L370.97 352.89 L370.98 352.95 L370.99 352.99 L370.99 352.98 L371.00 352.94 L371.00 352.88 L371.01 352.79 L371.02 352.71 L371.02 352.65 L371.03 352.61 L371.03 352.62 L371.04 352.66 L371.05 352.72 L371.05 352.81 L371.06 352.89 L371.06 352.95 L371.07 352.99 L371.08 352.98 L371.08 352.94 L371.09 352.88 L371.09 352.79 L371.10 352.71 L371.11 352.65 L371.11 352.61 L371.12 352.62 L371.12 352.66 L371.13 352.72 L371.14 352.81 L371.14 352.89 L371.15 352.95 L371.15 352.99 L371.16 352.98 L371.16 352.94 L371.17 352.88 L371.18 352.79 L371.18 352.71 L371.19 352.65 L371.19 352.61 L371.20 352.62 L371.21 352.66 L371.21 352.72 L371.22 352.81 L371.22 352.89 L371.23 352.95 L371.24 352.99 L371.24 352.98 L371.25 352.94 L371.25 352.88 L371.26 352.79 L371.27 352.71 L371.27 352.65 L371.28 352.61 L371.28 352.62 L371.29 352.66 L371.30 352.72 L371.30 352.81 L371.31 352.89 L371.31 352.95 L371.32 352.99 L371.33 352.98 L371.33 352.94 L371.34 352.88 L371.34 352.79 L371.35 352.71 L371.36 352.65 L371.36 352.61 L371.37 352.62 L371.37 352.66 L371.38 352.72 L371.38 352.81 L371.39 352.89 L371.40 352.95 L371.40 352.99 L371.41 352.98 L371.41 352.94 L371.42 352.88 L371.43 352.79 L371.43 352.71 L371.44 352.65 L371.44 352.62 L371.45 352.62 L371.46 352.66 L371.46 352.72 L371.47 352.81 L371.47 352.89 L371.48 352.95 L371.49 352.98 L371.49 352.98 L371.50 352.94 L371.50 352.87 L371.51 352.79 L371.51 352.71 L371.52 352.65 L371.53 352.62 L371.53 352.62 L371.54 352.66 L371.54 352.73 L371.55 352.81 L371.56 352.89 L371.56 352.95 L371.57 352.98 L371.57 352.98 L371.58 352.94 L371.59 352.87 L371.59 352.79 L371.60 352.71 L371.60 352.65 L371.61 352.62 L371.61 352.62 L371.62 352.66 L371.63 352.73 L371.63 352.81 L371.64 352.89 L371.64 352.95 L371.65 352.98 L371.66 352.98 L371.66 352.94 L371.67 352.87 L371.67 352.79 L371.68 352.71 L371.68 352.65 L371.69 352.62 L371.70 352.62 L371.70 352.66 L371.71 352.73 L371.71 352.81 L371.72 352.89 L371.73 352.95 L371.73 352.98 L371.74 352.98 L371.74 352.94 L371.75 352.87 L371.75 352.79 L371.76 352.71 L371.77 352.65 L371.77 352.62 L371.78 352.62 L371.78 352.66 L371.79 352.73 L371.80 352.81 L371.80 352.89 L371.81 352.95 L371.81 352.98 L371.82 352.98 L371.82 352.94 L371.83 352.87 L371.84 352.79 L371.84 352.71 L371.85 352.65 L371.85 352.62 L371.86 352.62 L371.87 352.66 L371.87 352.73 L371.88 352.81 L371.88 352.89 L371.89 352.95 L371.89 352.98 L371.90 352.98 L371.91 352.94 L371.91 352.87 L371.92 352.79 L371.92 352.71 L371.93 352.65 L371.94 352.62 L371.94 352.62 L371.95 352.66 L371.95 352.73 L371.96 352.81 L371.96 352.89 L371.97 352.95 L371.98 352.98 L371.98 352.98 L371.99 352.94 L371.99 352.87 L372.00 352.79 L372.00 352.71 L372.01 352.65 L372.02 352.62 L372.02 352.62 L372.03 352.66 L372.03 352.73 L372.04 352.81 L372.05 352.89 L372.05 352.95 L372.06 352.98 L372.06 352.98 L372.07 352.94 L372.07 352.87 L372.08 352.79 L372.09 352.71 L372.09 352.65 L372.10 352.62 L372.10 352.62 L372.11 352.66 L372.11 352.73 L372.12 352.81 L372.13 352.89 L372.13 352.95 L372.14 352.98 L372.14 352.98 L372.15 352.94 L372.15 352.87 L372.16 352.79 L372.17 352.71 L372.17 352.65 L372.18 352.62 L372.18 352.62 L372.19 352.66 L372.20 352.73 L372.20 352.81 L372.21 352.89 L372.21 352.95 L372.22 352.98 L372.22 352.98 L372.23 352.94 L372.24 352.87 L372.24 352.79 L372.25 352.71 L372.25 352.65 L372.26 352.62 L372.26 352.62 L372.27 352.66 L372.28 352.73 L372.28 352.81 L372.29 352.89 L372.29 352.95 L372.30 352.98 L372.30 352.98 L372.31 352.94 L372.32 352.87 L372.32 352.79 L372.33 352.71 L372.33 352.65 L372.34 352.62 L372.34 352.62 L372.35 352.66 L372.36 352.73 L372.36 352.81 L372.37 352.89 L372.37 352.95 L372.38 352.98 L372.38 352.98 L372.39 352.94 L372.40 352.87 L372.40 352.79 L372.41 352.72 L372.41 352.65 L372.42 352.62 L372.42 352.62 L372.43 352.66 L372.44 352.73 L372.44 352.81 L372.45 352.88 L372.45 352.95 L372.46 352.98 L372.46 352.97 L372.47 352.94 L372.48 352.87 L372.48 352.79 L372.49 352.72 L372.49 352.65 L372.50 352.62 L372.50 352.63 L372.51 352.66 L372.51 352.73 L372.52 352.81 L372.53 352.88 L372.53 352.95 L372.54 352.98 L372.54 352.97 L372.55 352.94 L372.55 352.87 L372.56 352.79 L372.57 352.72 L372.57 352.65 L372.58 352.62 L372.58 352.63 L372.59 352.66 L372.59 352.73 L372.60 352.81 L372.61 352.88 L372.61 352.95 L372.62 352.98 L372.62 352.97 L372.63 352.94 L372.63 352.87 L372.64 352.79 L372.65 352.72 L372.65 352.66 L372.66 352.62 L372.66 352.63 L372.67 352.66 L372.67 352.73 L372.68 352.81 L372.68 352.88 L372.69 352.94 L372.70 352.98 L372.70 352.97 L372.71 352.94 L372.71 352.87 L372.72 352.79 L372.72 352.72 L372.73 352.66 L372.74 352.62 L372.74 352.63 L372.75 352.66 L372.75 352.73 L372.76 352.81 L372.76 352.88 L372.77 352.94 L372.78 352.98 L372.78 352.97 L372.79 352.94 L372.79 352.87 L372.80 352.79 L372.80 352.72 L372.81 352.66 L372.81 352.62 L372.82 352.63 L372.83 352.66 L372.83 352.73 L372.84 352.81 L372.84 352.88 L372.85 352.94 L372.85 352.98 L372.86 352.97 L372.86 352.94 L372.87 352.87 L372.88 352.79 L372.88 352.72 L372.89 352.66 L372.89 352.62 L372.90 352.63 L372.90 352.66 L372.91 352.73 L372.92 352.81 L372.92 352.88 L372.93 352.94 L372.93 352.97 L372.94 352.97 L372.94 352.93 L372.95 352.87 L372.95 352.79 L372.96 352.72 L372.97 352.66 L372.97 352.63 L372.98 352.63 L372.98 352.67 L372.99 352.73 L372.99 352.81 L373.00 352.88 L373.00 352.94 L373.01 352.97 L373.02 352.97 L373.02 352.93 L373.03 352.87 L373.03 352.79 L373.04 352.72 L373.04 352.66 L373.05 352.63 L373.06 352.63 L373.06 352.67 L373.07 352.73 L373.07 352.81 L373.08 352.88 L373.08 352.94 L373.09 352.97 L373.09 352.97 L373.10 352.93 L373.11 352.87 L373.11 352.79 L373.12 352.72 L373.12 352.66 L373.13 352.63 L373.13 352.63 L373.14 352.67 L373.14 352.73 L373.15 352.81 L373.16 352.88 L373.16 352.94 L373.17 352.97 L373.17 352.97 L373.18 352.93 L373.18 352.87 L373.19 352.79 L373.19 352.72 L373.20 352.66 L373.21 352.63 L373.21 352.63 L373.22 352.67 L373.22 352.73 L373.23 352.81 L373.23 352.88 L373.24 352.94 L373.24 352.97 L373.25 352.97 L373.25 352.93 L373.26 352.87 L373.27 352.79 L373.27 352.72 L373.28 352.66 L373.28 352.63 L373.29 352.63 L373.29 352.67 L373.30 352.73 L373.30 352.81 L373.31 352.88 L373.32 352.94 L373.32 352.97 L373.33 352.97 L373.33 352.93 L373.34 352.87 L373.34 352.79 L373.35 352.72 L373.35 352.66 L373.36 352.63 L373.37 352.63 L373.37 352.67 L373.38 352.73 L373.38 352.81 L373.39 352.88 L373.39 352.94 L373.40 352.97 L373.40 352.97 L373.41 352.93 L373.41 352.87 L373.42 352.79 L373.43 352.72 L373.43 352.66 L373.44 352.63 L373.44 352.63 L373.45 352.67 L373.45 352.73 L373.46 352.81 L373.46 352.88 L373.47 352.94 L373.48 352.97 L373.48 352.97 L373.49 352.93 L373.49 352.87 L373.50 352.79 L373.50 352.72 L373.51 352.66 L373.51 352.63 L373.52 352.63 L373.52 352.67 L373.53 352.73 L373.54 352.81 L373.54 352.88 L373.55 352.94 L373.55 352.97 L373.56 352.97 L373.56 352.93 L373.57 352.87 L373.57 352.79 L373.58 352.72 L373.58 352.66 L373.59 352.63 L373.60 352.63 L373.60 352.67 L373.61 352.73 L373.61 352.81 L373.62 352.88 L373.62 352.94 L373.63 352.97 L373.63 352.97 L373.64 352.93 L373.64 352.87 L373.65 352.79 L373.66 352.72 L373.66 352.66 L373.67 352.63 L373.67 352.63 L373.68 352.67 L373.68 352.73 L373.69 352.81 L373.69 352.88 L373.70 352.94 L373.70 352.97 L373.71 352.97 L373.72 352.93 L373.72 352.87 L373.73 352.79 L373.73 352.72 L373.74 352.66 L373.74 352.63 L373.75 352.63 L373.75 352.67 L373.76 352.73 L373.76 352.81 L373.77 352.88 L373.78 352.94 L373.78 352.97 L373.79 352.97 L373.79 352.93 L373.80 352.87 L373.80 352.79 L373.81 352.72 L373.81 352.66 L373.82 352.63 L373.82 352.63 L373.83 352.67 L373.84 352.73 L373.84 352.81 L373.85 352.88 L373.85 352.94 L373.86 352.97 L373.86 352.97 L373.87 352.93 L373.87 352.87 L373.88 352.79 L373.88 352.72 L373.89 352.66 L373.89 352.63 L373.90 352.63 L373.91 352.67 L373.91 352.73 L373.92 352.81 L373.92 352.88 L373.93 352.94 L373.93 352.97 L373.94 352.97 L373.94 352.93 L373.95 352.87 L373.95 352.79 L373.96 352.72 L373.96 352.66 L373.97 352.63 L373.98 352.63 L373.98 352.67 L373.99 352.73 L373.99 352.81 L374.00 352.88 L374.00 352.94 L374.01 352.97 L374.01 352.97 L374.02 352.93 L374.02 352.87 L374.03 352.79 L374.03 352.72 L374.04 352.66 L374.05 352.63 L374.05 352.63 L374.06 352.67 L374.06 352.73 L374.07 352.81 L374.07 352.88 L374.08 352.94 L374.08 352.97 L374.09 352.96 L374.09 352.93 L374.10 352.87 L374.10 352.79 L374.11 352.72 L374.12 352.66 L374.12 352.63 L374.13 352.64 L374.13 352.67 L374.14 352.73 L374.14 352.81 L374.15 352.88 L374.15 352.94 L374.16 352.97 L374.16 352.96 L374.17 352.93 L374.17 352.87 L374.18 352.79 L374.19 352.72 L374.19 352.66 L374.20 352.63 L374.20 352.64 L374.21 352.67 L374.21 352.73 L374.22 352.81 L374.22 352.88 L374.23 352.94 L374.23 352.97 L374.24 352.96 L374.24 352.93 L374.25 352.87 L374.25 352.79 L374.26 352.72 L374.27 352.66 L374.27 352.63 L374.28 352.64 L374.28 352.67 L374.29 352.73 L374.29 352.81 L374.30 352.88 L374.30 352.94 L374.31 352.97 L374.31 352.96 L374.32 352.93 L374.32 352.87 L374.33 352.79 L374.33 352.72 L374.34 352.66 L374.35 352.63 L374.35 352.64 L374.36 352.67 L374.36 352.73 L374.37 352.81 L374.37 352.88 L374.38 352.94 L374.38 352.97 L374.39 352.96 L374.39 352.93 L374.40 352.87 L374.40 352.79 L374.41 352.72 L374.41 352.66 L374.42 352.63 L374.42 352.64 L374.43 352.67 L374.44 352.73 L374.44 352.81 L374.45 352.88 L374.45 352.94 L374.46 352.97 L374.46 352.96 L374.47 352.93 L374.47 352.87 L374.48 352.79 L374.48 352.72 L374.49 352.66 L374.49 352.63 L374.50 352.64 L374.50 352.67 L374.51 352.73 L374.51 352.81 L374.52 352.88 L374.53 352.94 L374.53 352.97 L374.54 352.96 L374.54 352.93 L374.55 352.87 L374.55 352.79 L374.56 352.72 L374.56 352.66 L374.57 352.64 L374.57 352.64 L374.58 352.67 L374.58 352.73 L374.59 352.81 L374.59 352.88 L374.60 352.93 L374.60 352.96 L374.61 352.96 L374.62 352.93 L374.62 352.87 L374.63 352.79 L374.63 352.72 L374.64 352.67 L374.64 352.64 L374.65 352.64 L374.65 352.67 L374.66 352.73 L374.66 352.81 L374.67 352.88 L374.67 352.93 L374.68 352.96 L374.68 352.96 L374.69 352.93 L374.69 352.87 L374.70 352.79 L374.70 352.72 L374.71 352.67 L374.72 352.64 L374.72 352.64 L374.73 352.67 L374.73 352.73 L374.74 352.81 L374.74 352.88 L374.75 352.93 L374.75 352.96 L374.76 352.96 L374.76 352.93 L374.77 352.87 L374.77 352.79 L374.78 352.72 L374.78 352.67 L374.79 352.64 L374.79 352.64 L374.80 352.67 L374.80 352.73 L374.81 352.81 L374.81 352.88 L374.82 352.93 L374.83 352.96 L374.83 352.96 L374.84 352.93 L374.84 352.87 L374.85 352.79 L374.85 352.72 L374.86 352.67 L374.86 352.64 L374.87 352.64 L374.87 352.67 L374.88 352.73 L374.88 352.81 L374.89 352.88 L374.89 352.93 L374.90 352.96 L374.90 352.96 L374.91 352.93 L374.91 352.87 L374.92 352.79 L374.92 352.72 L374.93 352.67 L374.93 352.64 L374.94 352.64 L374.95 352.67 L374.95 352.73 L374.96 352.81 L374.96 352.88 L374.97 352.93 L374.97 352.96 L374.98 352.96 L374.98 352.93 L374.99 352.87 L374.99 352.79 L375.00 352.72 L375.00 352.67 L375.01 352.64 L375.01 352.64 L375.02 352.67 L375.02 352.73 L375.03 352.81 L375.03 352.88 L375.04 352.93 L375.04 352.96 L375.05 352.96 L375.05 352.92 L375.06 352.87 L375.06 352.79 L375.07 352.72 L375.08 352.67 L375.08 352.64 L375.09 352.64 L375.09 352.68 L375.10 352.73 L375.10 352.81 L375.11 352.88 L375.11 352.93 L375.12 352.96 L375.12 352.96 L375.13 352.92 L375.13 352.87 L375.14 352.79 L375.14 352.72 L375.15 352.67 L375.15 352.64 L375.16 352.64 L375.16 352.68 L375.17 352.73 L375.17 352.81 L375.18 352.88 L375.18 352.93 L375.19 352.96 L375.19 352.96 L375.20 352.92 L375.20 352.87 L375.21 352.79 L375.21 352.72 L375.22 352.67 L375.23 352.64 L375.23 352.64 L375.24 352.68 L375.24 352.73 L375.25 352.81 L375.25 352.88 L375.26 352.93 L375.26 352.96 L375.27 352.96 L375.27 352.92 L375.28 352.87 L375.28 352.79 L375.29 352.72 L375.29 352.67 L375.30 352.64 L375.30 352.64 L375.31 352.68 L375.31 352.73 L375.32 352.81 L375.32 352.88 L375.33 352.93 L375.33 352.96 L375.34 352.96 L375.34 352.92 L375.35 352.87 L375.35 352.79 L375.36 352.72 L375.36 352.67 L375.37 352.64 L375.37 352.64 L375.38 352.68 L375.38 352.73 L375.39 352.81 L375.39 352.88 L375.40 352.93 L375.40 352.96 L375.41 352.96 L375.42 352.92 L375.42 352.87 L375.43 352.79 L375.43 352.72 L375.44 352.67 L375.44 352.64 L375.45 352.64 L375.45 352.68 L375.46 352.74 L375.46 352.81 L375.47 352.88 L375.47 352.93 L375.48 352.96 L375.48 352.96 L375.49 352.92 L375.49 352.86 L375.50 352.79 L375.50 352.72 L375.51 352.67 L375.51 352.64 L375.52 352.64 L375.52 352.68 L375.53 352.74 L375.53 352.81 L375.54 352.88 L375.54 352.93 L375.55 352.96 L375.55 352.96 L375.56 352.92 L375.56 352.86 L375.57 352.79 L375.57 352.72 L375.58 352.67 L375.58 352.64 L375.59 352.64 L375.59 352.68 L375.60 352.74 L375.60 352.81 L375.61 352.88 L375.61 352.93 L375.62 352.96 L375.62 352.96 L375.63 352.92 L375.63 352.86 L375.64 352.79 L375.64 352.72 L375.65 352.67 L375.65 352.64 L375.66 352.64 L375.66 352.68 L375.67 352.74 L375.68 352.81 L375.68 352.88 L375.69 352.93 L375.69 352.96 L375.70 352.96 L375.70 352.92 L375.71 352.86 L375.71 352.79 L375.72 352.72 L375.72 352.67 L375.73 352.64 L375.73 352.64 L375.74 352.68 L375.74 352.74 L375.75 352.81 L375.75 352.88 L375.76 352.93 L375.76 352.96 L375.77 352.96 L375.77 352.92 L375.78 352.86 L375.78 352.79 L375.79 352.72 L375.79 352.67 L375.80 352.64 L375.80 352.64 L375.81 352.68 L375.81 352.74 L375.82 352.81 L375.82 352.87 L375.83 352.93 L375.83 352.96 L375.84 352.95 L375.84 352.92 L375.85 352.86 L375.85 352.79 L375.86 352.73 L375.86 352.67 L375.87 352.64 L375.87 352.65 L375.88 352.68 L375.88 352.74 L375.89 352.81 L375.89 352.87 L375.90 352.93 L375.90 352.96 L375.91 352.95 L375.91 352.92 L375.92 352.86 L375.92 352.79 L375.93 352.73 L375.93 352.67 L375.94 352.64 L375.94 352.65 L375.95 352.68 L375.95 352.74 L375.96 352.81 L375.96 352.87 L375.97 352.93 L375.97 352.96 L375.98 352.95 L375.98 352.92 L375.99 352.86 L375.99 352.79 L376.00 352.73 L376.00 352.67 L376.01 352.64 L376.01 352.65 L376.02 352.68 L376.02 352.74 L376.03 352.81 L376.03 352.87 L376.04 352.93 L376.04 352.96 L376.05 352.95 L376.05 352.92 L376.06 352.86 L376.06 352.79 L376.07 352.73 L376.07 352.67 L376.08 352.64 L376.08 352.65 L376.09 352.68 L376.09 352.74 L376.10 352.81 L376.10 352.87 L376.11 352.93 L376.11 352.96 L376.12 352.95 L376.12 352.92 L376.13 352.86 L376.13 352.79 L376.14 352.73 L376.14 352.67 L376.15 352.64 L376.15 352.65 L376.16 352.68 L376.16 352.74 L376.17 352.81 L376.17 352.87 L376.18 352.93 L376.18 352.96 L376.19 352.95 L376.19 352.92 L376.20 352.86 L376.20 352.79 L376.21 352.73 L376.21 352.67 L376.22 352.64 L376.22 352.65 L376.23 352.68 L376.23 352.74 L376.24 352.81 L376.24 352.87 L376.25 352.93 L376.25 352.96 L376.26 352.95 L376.26 352.92 L376.27 352.86 L376.27 352.79 L376.28 352.73 L376.28 352.67 L376.29 352.65 L376.29 352.65 L376.30 352.68 L376.30 352.74 L376.31 352.81 L376.31 352.87 L376.32 352.93 L376.32 352.95 L376.33 352.95 L376.33 352.92 L376.34 352.86 L376.34 352.79 L376.35 352.73 L376.35 352.67 L376.36 352.65 L376.36 352.65 L376.37 352.68 L376.37 352.74 L376.38 352.81 L376.38 352.87 L376.39 352.93 L376.39 352.95 L376.40 352.95 L376.40 352.92 L376.41 352.86 L376.41 352.79 L376.42 352.73 L376.42 352.67 L376.43 352.65 L376.43 352.65 L376.44 352.68 L376.44 352.74 L376.45 352.81 L376.45 352.87 L376.46 352.93 L376.46 352.95 L376.47 352.95 L376.47 352.92 L376.48 352.86 L376.48 352.79 L376.49 352.73 L376.49 352.67 L376.49 352.65 L376.50 352.65 L376.50 352.68 L376.51 352.74 L376.51 352.81 L376.52 352.87 L376.52 352.93 L376.53 352.95 L376.53 352.95 L376.54 352.92 L376.54 352.86 L376.55 352.79 L376.55 352.73 L376.56 352.67 L376.56 352.65 L376.57 352.65 L376.57 352.68 L376.58 352.74 L376.58 352.81 L376.59 352.87 L376.59 352.93 L376.60 352.95 L376.60 352.95 L376.61 352.92 L376.61 352.86 L376.62 352.79 L376.62 352.73 L376.63 352.67 L376.63 352.65 L376.64 352.65 L376.64 352.68 L376.65 352.74 L376.65 352.81 L376.66 352.87 L376.66 352.93 L376.67 352.95 L376.67 352.95 L376.68 352.92 L376.68 352.86 L376.69 352.79 L376.69 352.73 L376.70 352.67 L376.70 352.65 L376.71 352.65 L376.71 352.68 L376.72 352.74 L376.72 352.81 L376.73 352.87 L376.73 352.92 L376.74 352.95 L376.74 352.95 L376.74 352.92 L376.75 352.86 L376.75 352.79 L376.76 352.73 L376.76 352.68 L376.77 352.65 L376.77 352.65 L376.78 352.68 L376.78 352.74 L376.79 352.81 L376.79 352.87 L376.80 352.92 L376.80 352.95 L376.81 352.95 L376.81 352.92 L376.82 352.86 L376.82 352.79 L376.83 352.73 L376.83 352.68 L376.84 352.65 L376.84 352.65 L376.85 352.68 L376.85 352.74 L376.86 352.81 L376.86 352.87 L376.87 352.92 L376.87 352.95 L376.88 352.95 L376.88 352.92 L376.89 352.86 L376.89 352.79 L376.90 352.73 L376.90 352.68 L376.91 352.65 L376.91 352.65 L376.92 352.68 L376.92 352.74 L376.93 352.81 L376.93 352.87 L376.93 352.92 L376.94 352.95 L376.94 352.95 L376.95 352.92 L376.95 352.86 L376.96 352.79 L376.96 352.73 L376.97 352.68 L376.97 352.65 L376.98 352.65 L376.98 352.68 L376.99 352.74 L376.99 352.81 L377.00 352.87 L377.00 352.92 L377.01 352.95 L377.01 352.95 L377.02 352.92 L377.02 352.86 L377.03 352.79 L377.03 352.73 L377.04 352.68 L377.04 352.65 L377.05 352.65 L377.05 352.68 L377.06 352.74 L377.06 352.81 L377.07 352.87 L377.07 352.92 L377.08 352.95 L377.08 352.95 L377.08 352.92 L377.09 352.86 L377.09 352.79 L377.10 352.73 L377.10 352.68 L377.11 352.65 L377.11 352.65 L377.12 352.68 L377.12 352.74 L377.13 352.81 L377.13 352.87 L377.14 352.92 L377.14 352.95 L377.15 352.95 L377.15 352.92 L377.16 352.86 L377.16 352.79 L377.17 352.73 L377.17 352.68 L377.18 352.65 L377.18 352.65 L377.19 352.68 L377.19 352.74 L377.20 352.81 L377.20 352.87 L377.20 352.92 L377.21 352.95 L377.21 352.95 L377.22 352.92 L377.22 352.86 L377.23 352.79 L377.23 352.73 L377.24 352.68 L377.24 352.65 L377.25 352.65 L377.25 352.68 L377.26 352.74 L377.26 352.81 L377.27 352.87 L377.27 352.92 L377.28 352.95 L377.28 352.95 L377.29 352.92 L377.29 352.86 L377.30 352.79 L377.30 352.73 L377.31 352.68 L377.31 352.65 L377.32 352.65 L377.32 352.68 L377.32 352.74 L377.33 352.81 L377.33 352.87 L377.34 352.92 L377.34 352.95 L377.35 352.95 L377.35 352.92 L377.36 352.86 L377.36 352.79 L377.37 352.73 L377.37 352.68 L377.38 352.65 L377.38 352.65 L377.39 352.69 L377.39 352.74 L377.40 352.81 L377.40 352.87 L377.41 352.92 L377.41 352.95 L377.42 352.95 L377.42 352.91 L377.43 352.86 L377.43 352.79 L377.43 352.73 L377.44 352.68 L377.44 352.65 L377.45 352.65 L377.45 352.69 L377.46 352.74 L377.46 352.81 L377.47 352.87 L377.47 352.92 L377.48 352.95 L377.48 352.95 L377.49 352.91 L377.49 352.86 L377.50 352.79 L377.50 352.73 L377.51 352.68 L377.51 352.65 L377.52 352.65 L377.52 352.69 L377.52 352.74 L377.53 352.81 L377.53 352.87 L377.54 352.92 L377.54 352.95 L377.55 352.95 L377.55 352.91 L377.56 352.86 L377.56 352.79 L377.57 352.73 L377.57 352.68 L377.58 352.65 L377.58 352.65 L377.59 352.69 L377.59 352.74 L377.60 352.81 L377.60 352.87 L377.61 352.92 L377.61 352.95 L377.61 352.95 L377.62 352.91 L377.62 352.86 L377.63 352.79 L377.63 352.73 L377.64 352.68 L377.64 352.65 L377.65 352.65 L377.65 352.69 L377.66 352.74 L377.66 352.81 L377.67 352.87 L377.67 352.92 L377.68 352.95 L377.68 352.94 L377.69 352.91 L377.69 352.86 L377.70 352.79 L377.70 352.73 L377.70 352.68 L377.71 352.65 L377.71 352.66 L377.72 352.69 L377.72 352.74 L377.73 352.81 L377.73 352.87 L377.74 352.92 L377.74 352.95 L377.75 352.94 L377.75 352.91 L377.76 352.86 L377.76 352.79 L377.77 352.73 L377.77 352.68 L377.78 352.65 L377.78 352.66 L377.78 352.69 L377.79 352.74 L377.79 352.81 L377.80 352.87 L377.80 352.92 L377.81 352.95 L377.81 352.94 L377.82 352.91 L377.82 352.86 L377.83 352.79 L377.83 352.73 L377.84 352.68 L377.84 352.65 L377.85 352.66 L377.85 352.69 L377.86 352.74 L377.86 352.81 L377.86 352.87 L377.87 352.92 L377.87 352.95 L377.88 352.94 L377.88 352.91 L377.89 352.86 L377.89 352.79 L377.90 352.73 L377.90 352.68 L377.91 352.65 L377.91 352.66 L377.92 352.69 L377.92 352.74 L377.93 352.81 L377.93 352.87 L377.93 352.92 L377.94 352.95 L377.94 352.94 L377.95 352.91 L377.95 352.86 L377.96 352.79 L377.96 352.73 L377.97 352.68 L377.97 352.65 L377.98 352.66 L377.98 352.69 L377.99 352.74 L377.99 352.81 L378.00 352.87 L378.00 352.92 L378.01 352.95 L378.01 352.94 L378.01 352.91 L378.02 352.86 L378.02 352.79 L378.03 352.73 L378.03 352.68 L378.04 352.65 L378.04 352.66 L378.05 352.69 L378.05 352.74 L378.06 352.81 L378.06 352.87 L378.07 352.92 L378.07 352.95 L378.07 352.94 L378.08 352.91 L378.08 352.86 L378.09 352.79 L378.09 352.73 L378.10 352.68 L378.10 352.65 L378.11 352.66 L378.11 352.69 L378.12 352.74 L378.12 352.81 L378.13 352.87 L378.13 352.92 L378.14 352.95 L378.14 352.94 L378.14 352.91 L378.15 352.86 L378.15 352.79 L378.16 352.73 L378.16 352.68 L378.17 352.66 L378.17 352.66 L378.18 352.69 L378.18 352.74 L378.19 352.81 L378.19 352.87 L378.20 352.92 L378.20 352.94 L378.21 352.94 L378.21 352.91 L378.21 352.86 L378.22 352.79 L378.22 352.73 L378.23 352.68 L378.23 352.66 L378.24 352.66 L378.24 352.69 L378.25 352.74 L378.25 352.81 L378.26 352.87 L378.26 352.92 L378.27 352.94 L378.27 352.94 L378.27 352.91 L378.28 352.86 L378.28 352.79 L378.29 352.73 L378.29 352.68 L378.30 352.66 L378.30 352.66 L378.31 352.69 L378.31 352.74 L378.32 352.81 L378.32 352.87 L378.33 352.92 L378.33 352.94 L378.33 352.94 L378.34 352.91 L378.34 352.86 L378.35 352.79 L378.35 352.73 L378.36 352.68 L378.36 352.66 L378.37 352.66 L378.37 352.69 L378.38 352.74 L378.38 352.81 L378.39 352.87 L378.39 352.92 L378.39 352.94 L378.40 352.94 L378.40 352.91 L378.41 352.86 L378.41 352.79 L378.42 352.73 L378.42 352.68 L378.43 352.66 L378.43 352.66 L378.44 352.69 L378.44 352.74 L378.44 352.81 L378.45 352.87 L378.45 352.92 L378.46 352.94 L378.46 352.94 L378.47 352.91 L378.47 352.86 L378.48 352.79 L378.48 352.73 L378.49 352.68 L378.49 352.66 L378.50 352.66 L378.50 352.69 L378.50 352.74 L378.51 352.81 L378.51 352.87 L378.52 352.92 L378.52 352.94 L378.53 352.94 L378.53 352.91 L378.54 352.86 L378.54 352.79 L378.55 352.73 L378.55 352.68 L378.55 352.66 L378.56 352.66 L378.56 352.69 L378.57 352.74 L378.57 352.81 L378.58 352.87 L378.58 352.92 L378.59 352.94 L378.59 352.94 L378.60 352.91 L378.60 352.86 L378.61 352.79 L378.61 352.73 L378.61 352.68 L378.62 352.66 L378.62 352.66 L378.63 352.69 L378.63 352.74 L378.64 352.81 L378.64 352.87 L378.65 352.92 L378.65 352.94 L378.66 352.94 L378.66 352.91 L378.66 352.86 L378.67 352.79 L378.67 352.73 L378.68 352.68 L378.68 352.66 L378.69 352.66 L378.69 352.69 L378.70 352.74 L378.70 352.81 L378.71 352.87 L378.71 352.92 L378.71 352.94 L378.72 352.94 L378.72 352.91 L378.73 352.86 L378.73 352.79 L378.74 352.73 L378.74 352.68 L378.75 352.66 L378.75 352.66 L378.76 352.69 L378.76 352.74 L378.76 352.81 L378.77 352.87 L378.77 352.92 L378.78 352.94 L378.78 352.94 L378.79 352.91 L378.79 352.86 L378.80 352.79 L378.80 352.73 L378.81 352.68 L378.81 352.66 L378.81 352.66 L378.82 352.69 L378.82 352.74 L378.83 352.81 L378.83 352.87 L378.84 352.92 L378.84 352.94 L378.85 352.94 L378.85 352.91 L378.86 352.86 L378.86 352.79 L378.86 352.73 L378.87 352.68 L378.87 352.66 L378.88 352.66 L378.88 352.69 L378.89 352.74 L378.89 352.81 L378.90 352.87 L378.90 352.92 L378.91 352.94 L378.91 352.94 L378.91 352.91 L378.92 352.86 L378.92 352.79 L378.93 352.73 L378.93 352.68 L378.94 352.66 L378.94 352.66 L378.95 352.69 L378.95 352.74 L378.95 352.81 L378.96 352.87 L378.96 352.92 L378.97 352.94 L378.97 352.94 L378.98 352.91 L378.98 352.86 L378.99 352.79 L378.99 352.73 L379.00 352.68 L379.00 352.66 L379.00 352.66 L379.01 352.69 L379.01 352.74 L379.02 352.81 L379.02 352.87 L379.03 352.91 L379.03 352.94 L379.04 352.94 L379.04 352.91 L379.04 352.86 L379.05 352.79 L379.05 352.73 L379.06 352.69 L379.06 352.66 L379.07 352.66 L379.07 352.69 L379.08 352.74 L379.08 352.81 L379.09 352.87 L379.09 352.91 L379.09 352.94 L379.10 352.94 L379.10 352.91 L379.11 352.86 L379.11 352.79 L379.12 352.73 L379.12 352.69 L379.13 352.66 L379.13 352.66 L379.13 352.69 L379.14 352.74 L379.14 352.81 L379.15 352.87 L379.15 352.91 L379.16 352.94 L379.16 352.94 L379.17 352.91 L379.17 352.86 L379.17 352.79 L379.18 352.73 L379.18 352.69 L379.19 352.66 L379.19 352.66 L379.20 352.69 L379.20 352.74 L379.21 352.81 L379.21 352.87 L379.22 352.91 L379.22 352.94 L379.22 352.94 L379.23 352.91 L379.23 352.86 L379.24 352.79 L379.24 352.73 L379.25 352.69 L379.25 352.66 L379.26 352.66 L379.26 352.69 L379.26 352.74 L379.27 352.81 L379.27 352.87 L379.28 352.91 L379.28 352.94 L379.29 352.94 L379.29 352.91 L379.30 352.86 L379.30 352.79 L379.30 352.73 L379.31 352.69 L379.31 352.66 L379.32 352.66 L379.32 352.69 L379.33 352.74 L379.33 352.81 L379.34 352.87 L379.34 352.91 L379.34 352.94 L379.35 352.94 L379.35 352.91 L379.36 352.86 L379.36 352.79 L379.37 352.73 L379.37 352.69 L379.38 352.66 L379.38 352.66 L379.38 352.69 L379.39 352.74 L379.39 352.81 L379.40 352.87 L379.40 352.91 L379.41 352.94 L379.41 352.94 L379.42 352.91 L379.42 352.86 L379.42 352.79 L379.43 352.73 L379.43 352.69 L379.44 352.66 L379.44 352.66 L379.45 352.69 L379.45 352.74 L379.46 352.81 L379.46 352.87 L379.46 352.91 L379.47 352.94 L379.47 352.94 L379.48 352.91 L379.48 352.86 L379.49 352.79 L379.49 352.73 L379.50 352.69 L379.50 352.66 L379.50 352.66 L379.51 352.69 L379.51 352.74 L379.52 352.81 L379.52 352.87 L379.53 352.91 L379.53 352.94 L379.54 352.94 L379.54 352.91 L379.54 352.86 L379.55 352.79 L379.55 352.73 L379.56 352.69 L379.56 352.66 L379.57 352.66 L379.57 352.69 L379.57 352.74 L379.58 352.81 L379.58 352.87 L379.59 352.91 L379.59 352.94 L379.60 352.94 L379.60 352.91 L379.61 352.86 L379.61 352.79 L379.61 352.73 L379.62 352.69 L379.62 352.66 L379.63 352.66 L379.63 352.69 L379.64 352.74 L379.64 352.81 L379.65 352.87 L379.65 352.91 L379.65 352.94 L379.66 352.93 L379.66 352.91 L379.67 352.86 L379.67 352.79 L379.68 352.73 L379.68 352.69 L379.68 352.66 L379.69 352.67 L379.69 352.69 L379.70 352.74 L379.70 352.81 L379.71 352.87 L379.71 352.91 L379.72 352.94 L379.72 352.93 L379.72 352.91 L379.73 352.86 L379.73 352.79 L379.74 352.73 L379.74 352.69 L379.75 352.66 L379.75 352.67 L379.76 352.69 L379.76 352.74 L379.76 352.81 L379.77 352.87 L379.77 352.91 L379.78 352.94 L379.78 352.93 L379.79 352.91 L379.79 352.86 L379.79 352.79 L379.80 352.74 L379.80 352.69 L379.81 352.66 L379.81 352.67 L379.82 352.69 L379.82 352.74 L379.83 352.81 L379.83 352.86 L379.83 352.91 L379.84 352.94 L379.84 352.93 L379.85 352.91 L379.85 352.86 L379.86 352.79 L379.86 352.74 L379.86 352.69 L379.87 352.66 L379.87 352.67 L379.88 352.69 L379.88 352.74 L379.89 352.81 L379.89 352.86 L379.90 352.91 L379.90 352.94 L379.90 352.93 L379.91 352.91 L379.91 352.86 L379.92 352.79 L379.92 352.74 L379.93 352.69 L379.93 352.66 L379.93 352.67 L379.94 352.70 L379.94 352.74 L379.95 352.81 L379.95 352.86 L379.96 352.91 L379.96 352.94 L379.96 352.93 L379.97 352.90 L379.97 352.86 L379.98 352.79 L379.98 352.74 L379.99 352.69 L379.99 352.66 L380.00 352.67 L380.00 352.70 L380.00 352.74 L380.01 352.81 L380.01 352.86 L380.02 352.91 L380.02 352.94 L380.03 352.93 L380.03 352.90 L380.03 352.86 L380.04 352.79 L380.04 352.74 L380.05 352.69 L380.05 352.66 L380.06 352.67 L380.06 352.70 L380.06 352.74 L380.07 352.81 L380.07 352.86 L380.08 352.91 L380.08 352.94 L380.09 352.93 L380.09 352.90 L380.10 352.86 L380.10 352.79 L380.10 352.74 L380.11 352.69 L380.11 352.66 L380.12 352.67 L380.12 352.70 L380.13 352.75 L380.13 352.81 L380.13 352.86 L380.14 352.91 L380.14 352.93 L380.15 352.93 L380.15 352.90 L380.16 352.85 L380.16 352.79 L380.16 352.74 L380.17 352.69 L380.17 352.67 L380.18 352.67 L380.18 352.70 L380.19 352.75 L380.19 352.81 L380.19 352.86 L380.20 352.91 L380.20 352.93 L380.21 352.93 L380.21 352.90 L380.22 352.85 L380.22 352.79 L380.22 352.74 L380.23 352.69 L380.23 352.67 L380.24 352.67 L380.24 352.70 L380.25 352.75 L380.25 352.81 L380.25 352.86 L380.26 352.91 L380.26 352.93 L380.27 352.93 L380.27 352.90 L380.28 352.85 L380.28 352.79 L380.28 352.74 L380.29 352.69 L380.29 352.67 L380.30 352.67 L380.30 352.70 L380.31 352.75 L380.31 352.81 L380.32 352.86 L380.32 352.91 L380.32 352.93 L380.33 352.93 L380.33 352.90 L380.34 352.85 L380.34 352.79 L380.35 352.74 L380.35 352.69 L380.35 352.67 L380.36 352.67 L380.36 352.70 L380.37 352.75 L380.37 352.81 L380.38 352.86 L380.38 352.91 L380.38 352.93 L380.39 352.93 L380.39 352.90 L380.40 352.85 L380.40 352.79 L380.41 352.74 L380.41 352.69 L380.41 352.67 L380.42 352.67 L380.42 352.70 L380.43 352.75 L380.43 352.81 L380.44 352.86 L380.44 352.91 L380.44 352.93 L380.45 352.93 L380.45 352.90 L380.46 352.85 L380.46 352.79 L380.47 352.74 L380.47 352.69 L380.47 352.67 L380.48 352.67 L380.48 352.70 L380.49 352.75 L380.49 352.81 L380.49 352.86 L380.50 352.91 L380.50 352.93 L380.51 352.93 L380.51 352.90 L380.52 352.85 L380.52 352.79 L380.52 352.74 L380.53 352.69 L380.53 352.67 L380.54 352.67 L380.54 352.70 L380.55 352.75 L380.55 352.81 L380.55 352.86 L380.56 352.91 L380.56 352.93 L380.57 352.93 L380.57 352.90 L380.58 352.85 L380.58 352.79 L380.58 352.74 L380.59 352.69 L380.59 352.67 L380.60 352.67 L380.60 352.70 L380.61 352.75 L380.61 352.80 L380.61 352.86 L380.62 352.91 L380.62 352.93 L380.63 352.93 L380.63 352.90 L380.64 352.85 L380.64 352.80 L380.64 352.74 L380.65 352.69 L380.65 352.67 L380.66 352.67 L380.66 352.70 L380.67 352.75 L380.67 352.80 L380.67 352.86 L380.68 352.91 L380.68 352.93 L380.69 352.93 L380.69 352.90 L380.69 352.85 L380.70 352.80 L380.70 352.74 L380.71 352.69 L380.71 352.67 L380.72 352.67 L380.72 352.70 L380.72 352.75 L380.73 352.80 L380.73 352.86 L380.74 352.91 L380.74 352.93 L380.75 352.93 L380.75 352.90 L380.75 352.85 L380.76 352.80 L380.76 352.74 L380.77 352.69 L380.77 352.67 L380.78 352.67 L380.78 352.70 L380.78 352.75 L380.79 352.80 L380.79 352.86 L380.80 352.91 L380.80 352.93 L380.80 352.93 L380.81 352.90 L380.81 352.85 L380.82 352.80 L380.82 352.74 L380.83 352.69 L380.83 352.67 L380.83 352.67 L380.84 352.70 L380.84 352.75 L380.85 352.80 L380.85 352.86 L380.86 352.91 L380.86 352.93 L380.86 352.93 L380.87 352.90 L380.87 352.85 L380.88 352.80 L380.88 352.74 L380.88 352.69 L380.89 352.67 L380.89 352.67 L380.90 352.70 L380.90 352.75 L380.91 352.80 L380.91 352.86 L380.91 352.91 L380.92 352.93 L380.92 352.93 L380.93 352.90 L380.93 352.85 L380.94 352.80 L380.94 352.74 L380.94 352.69 L380.95 352.67 L380.95 352.67 L380.96 352.70 L380.96 352.75 L380.96 352.80 L380.97 352.86 L380.97 352.91 L380.98 352.93 L380.98 352.93 L380.99 352.90 L380.99 352.85 L380.99 352.80 L381.00 352.74 L381.00 352.69 L381.01 352.67 L381.01 352.67 L381.02 352.70 L381.02 352.75 L381.02 352.80 L381.03 352.86 L381.03 352.91 L381.04 352.93 L381.04 352.93 L381.04 352.90 L381.05 352.85 L381.05 352.80 L381.06 352.74 L381.06 352.69 L381.07 352.67 L381.07 352.67 L381.07 352.70 L381.08 352.75 L381.08 352.80 L381.09 352.86 L381.09 352.91 L381.09 352.93 L381.10 352.93 L381.10 352.90 L381.11 352.85 L381.11 352.80 L381.12 352.74 L381.12 352.69 L381.12 352.67 L381.13 352.67 L381.13 352.70 L381.14 352.75 L381.14 352.80 L381.14 352.86 L381.15 352.91 L381.15 352.93 L381.16 352.93 L381.16 352.90 L381.17 352.85 L381.17 352.80 L381.17 352.74 L381.18 352.69 L381.18 352.67 L381.19 352.67 L381.19 352.70 L381.19 352.75 L381.20 352.80 L381.20 352.86 L381.21 352.91 L381.21 352.93 L381.22 352.93 L381.22 352.90 L381.22 352.85 L381.23 352.80 L381.23 352.74 L381.24 352.69 L381.24 352.67 L381.24 352.67 L381.25 352.70 L381.25 352.75 L381.26 352.80 L381.26 352.86 L381.27 352.91 L381.27 352.93 L381.27 352.93 L381.28 352.90 L381.28 352.85 L381.29 352.80 L381.29 352.74 L381.29 352.69 L381.30 352.67 L381.30 352.67 L381.31 352.70 L381.31 352.75 L381.32 352.80 L381.32 352.86 L381.32 352.91 L381.33 352.93 L381.33 352.93 L381.34 352.90 L381.34 352.85 L381.34 352.80 L381.35 352.74 L381.35 352.69 L381.36 352.67 L381.36 352.67 L381.36 352.70 L381.37 352.75 L381.37 352.80 L381.38 352.86 L381.38 352.91 L381.39 352.93 L381.39 352.93 L381.39 352.90 L381.40 352.85 L381.40 352.80 L381.41 352.74 L381.41 352.69 L381.41 352.67 L381.42 352.67 L381.42 352.70 L381.43 352.75 L381.43 352.80 L381.44 352.86 L381.44 352.91 L381.44 352.93 L381.45 352.93 L381.45 352.90 L381.46 352.85 L381.46 352.80 L381.46 352.74 L381.47 352.69 L381.47 352.67 L381.48 352.67 L381.48 352.70 L381.48 352.75 L381.49 352.80 L381.49 352.86 L381.50 352.91 L381.50 352.93 L381.51 352.93 L381.51 352.90 L381.51 352.85 L381.52 352.80 L381.52 352.74 L381.53 352.69 L381.53 352.67 L381.53 352.67 L381.54 352.70 L381.54 352.75 L381.55 352.80 L381.55 352.86 L381.55 352.91 L381.56 352.93 L381.56 352.93 L381.57 352.90 L381.57 352.85 L381.58 352.80 L381.58 352.74 L381.58 352.70 L381.59 352.67 L381.59 352.67 L381.60 352.70 L381.60 352.75 L381.60 352.80 L381.61 352.86 L381.61 352.90 L381.62 352.93 L381.62 352.93 L381.62 352.90 L381.63 352.85 L381.63 352.80 L381.64 352.74 L381.64 352.70 L381.64 352.67 L381.65 352.67 L381.65 352.70 L381.66 352.75 L381.66 352.80 L381.67 352.86 L381.67 352.90 L381.67 352.93 L381.68 352.93 L381.68 352.90 L381.69 352.85 L381.69 352.80 L381.69 352.74 L381.70 352.70 L381.70 352.67 L381.71 352.67 L381.71 352.70 L381.71 352.75 L381.72 352.80 L381.72 352.86 L381.73 352.90 L381.73 352.93 L381.73 352.93 L381.74 352.90 L381.74 352.85 L381.75 352.80 L381.75 352.74 L381.76 352.70 L381.76 352.67 L381.76 352.67 L381.77 352.70 L381.77 352.75 L381.78 352.80 L381.78 352.86 L381.78 352.90 L381.79 352.93 L381.79 352.93 L381.80 352.90 L381.80 352.85 L381.80 352.80 L381.81 352.74 L381.81 352.70 L381.82 352.67 L381.82 352.68 L381.82 352.70 L381.83 352.75 L381.83 352.80 L381.84 352.86 L381.84 352.90 L381.84 352.93 L381.85 352.92 L381.85 352.90 L381.86 352.85 L381.86 352.80 L381.87 352.74 L381.87 352.70 L381.87 352.67 L381.88 352.68 L381.88 352.70 L381.89 352.75 L381.89 352.80 L381.89 352.86 L381.90 352.90 L381.90 352.93 L381.91 352.92 L381.91 352.90 L381.91 352.85 L381.92 352.80 L381.92 352.74 L381.93 352.70 L381.93 352.67 L381.93 352.68 L381.94 352.70 L381.94 352.75 L381.95 352.80 L381.95 352.86 L381.95 352.90 L381.96 352.93 L381.96 352.92 L381.97 352.90 L381.97 352.85 L381.97 352.80 L381.98 352.74 L381.98 352.70 L381.98 352.68" fill="none" stroke="#2a2a94" stroke-width="2.20" stroke-linejoin="round" stroke-dasharray="7.2 2.56"/>
<path d="M79.70 213.80v-3.60M79.70 17.10v3.60M79.70 427.90v-3.60M79.70 231.20v3.60M144.03 213.80v-3.60M144.03 17.10v3.60M144.03 427.90v-3.60M144.03 231.20v3.60M208.36 213.80v-3.60M208.36 17.10v3.60M208.36 427.90v-3.60M208.36 231.20v3.60M272.69 213.80v-3.60M272.69 17.10v3.60M272.69 427.90v-3.60M272.69 231.20v3.60M337.02 213.80v-3.60M337.02 17.10v3.60M337.02 427.90v-3.60M337.02 231.20v3.60M79.70 168.40h3.60M382.00 168.40h-3.60M79.70 97.05h3.60M382.00 97.05h-3.60M79.70 25.70h3.60M382.00 25.70h-3.60M79.70 409.10h3.60M382.00 409.10h-3.60M79.70 352.80h3.60M382.00 352.80h-3.60M79.70 296.50h3.60M382.00 296.50h-3.60M79.70 240.20h3.60M382.00 240.20h-3.60" stroke="#000" stroke-width="0.90" fill="none"/>
<rect x="79.70" y="17.10" width="302.30" height="196.70" fill="none" stroke="#000" stroke-width="2.20"/>
<rect x="79.70" y="231.20" width="302.30" height="196.70" fill="none" stroke="#000" stroke-width="2.20"/>
<text x="76.60" y="175.70" font-size="18.00" text-anchor="end">0.0</text>
<text x="76.60" y="104.35" font-size="18.00" text-anchor="end">0.5</text>
<text x="76.60" y="33.00" font-size="18.00" text-anchor="end">1.0</text>
<text x="76.60" y="360.10" font-size="18.00" text-anchor="end">0.0</text>
<text x="76.60" y="303.80" font-size="18.00" text-anchor="end">0.5</text>
<text x="76.60" y="247.50" font-size="18.00" text-anchor="end">1.0</text>
<text x="76.60" y="416.40" font-size="18.00" text-anchor="end">0.5</text>
<text x="40.89" y="416.40" font-size="18.00" textLength="12.60" lengthAdjust="spacingAndGlyphs">−</text>
<text x="79.50" y="444.60" font-size="18.00" text-anchor="middle">10<tspan dy="-7.00" font-size="12.60">0</tspan></text>
<text x="143.83" y="444.60" font-size="18.00" text-anchor="middle">10<tspan dy="-7.00" font-size="12.60">1</tspan></text>
<text x="208.16" y="444.60" font-size="18.00" text-anchor="middle">10<tspan dy="-7.00" font-size="12.60">2</tspan></text>
<text x="272.49" y="444.60" font-size="18.00" text-anchor="middle">10<tspan dy="-7.00" font-size="12.60">3</tspan></text>
<text x="336.82" y="444.60" font-size="18.00" text-anchor="middle">10<tspan dy="-7.00" font-size="12.60">4</tspan></text>
<text x="231.20" y="464.30" font-size="19.50" text-anchor="middle" class="i">ℓ</text>
<text transform="translate(46.60 116.05) rotate(-90)" font-size="18.50" text-anchor="middle" letter-spacing="0.15"><tspan class="i">ℓ J</tspan><tspan dy="3.00" font-size="12.80">0</tspan><tspan dy="-3.00">(</tspan><tspan class="i">θℓ</tspan>) <tspan class="i">C</tspan><tspan dy="-7.20" font-size="12.80">22</tspan><tspan dy="7.20">(</tspan><tspan class="i">ℓ</tspan>)</text>
<text transform="translate(33.70 330.15) rotate(-90)" font-size="18.50" text-anchor="middle" letter-spacing="0.15"><tspan class="i">ℓ J</tspan><tspan dy="3.00" font-size="12.80">4</tspan><tspan dy="-3.00">(</tspan><tspan class="i">θℓ</tspan>) <tspan class="i">C</tspan><tspan dy="-7.20" font-size="12.80">22</tspan><tspan dy="7.20">(</tspan><tspan class="i">ℓ</tspan>)</text>
<rect x="280.40" y="23.60" width="94.80" height="43.00" rx="2.5" fill="#fff" stroke="#dcdcdc" stroke-width="1"/>
<path d="M285.00 34.10H314.80" stroke="#000" stroke-width="2.20"/>
<path d="M286.00 53.60H312.80" stroke="#2a2a94" stroke-width="2.20" stroke-dasharray="7.2 2.56"/>
<text x="324.67" y="39.10" font-size="13.00" class="i">θ</text>
<text x="334.70" y="41.30" font-size="16.00" textLength="11.27" lengthAdjust="spacingAndGlyphs">=</text>
<text x="349.81" y="39.10" font-size="13.80" textLength="16.20" lengthAdjust="spacingAndGlyphs">8.3</text>
<text x="365.16" y="43.10" font-size="21.00">′</text>
<text x="324.67" y="58.40" font-size="13.00" class="i">θ</text>
<text x="334.70" y="60.60" font-size="16.00" textLength="11.27" lengthAdjust="spacingAndGlyphs">=</text>
<text x="349.75" y="58.40" font-size="13.80" textLength="12.63" lengthAdjust="spacingAndGlyphs">48</text>
<text x="361.86" y="62.40" font-size="21.00">′</text>
<rect x="277.50" y="238.00" width="97.70" height="42.30" rx="2.5" fill="#fff" stroke="#dcdcdc" stroke-width="1"/>
<path d="M281.90 248.30H311.70" stroke="#000" stroke-width="2.20"/>
<path d="M282.90 267.80H309.80" stroke="#2a2a94" stroke-width="2.20" stroke-dasharray="7.2 2.56"/>
<text x="321.67" y="253.50" font-size="13.00" class="i">θ</text>
<text x="331.78" y="255.70" font-size="16.00" textLength="11.51" lengthAdjust="spacingAndGlyphs">=</text>
<text x="346.23" y="253.50" font-size="13.80" textLength="13.99" lengthAdjust="spacingAndGlyphs">36</text>
<text x="359.06" y="257.50" font-size="21.00">′</text>
<text x="321.67" y="272.40" font-size="13.00" class="i">θ</text>
<text x="331.78" y="274.60" font-size="16.00" textLength="11.51" lengthAdjust="spacingAndGlyphs">=</text>
<text x="346.31" y="272.40" font-size="13.80" textLength="20.01" lengthAdjust="spacingAndGlyphs">213</text>
<text x="365.76" y="276.40" font-size="21.00">′</text>
</svg></body></html>
